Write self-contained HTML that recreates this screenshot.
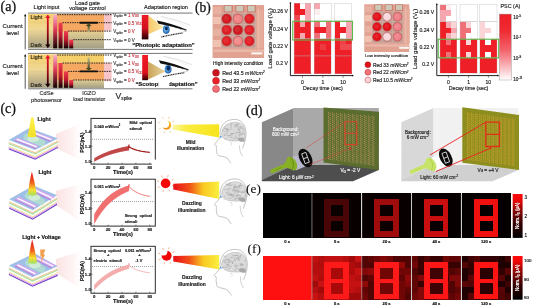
<!DOCTYPE html>
<html><head><meta charset="utf-8"><title>Figure</title>
<style>html,body{margin:0;padding:0;background:#fff;width:533px;height:306px;overflow:hidden}</style>
</head><body>
<svg width="533" height="306" viewBox="0 0 533 306" style="display:block"><defs>
<linearGradient id="gYel" x1="0" y1="0" x2="0" y2="1">
 <stop offset="0" stop-color="#f7cf6c"/><stop offset="0.45" stop-color="#efd796"/><stop offset="1" stop-color="#a29c84"/>
</linearGradient>
<linearGradient id="gTan" x1="0" y1="0" x2="0" y2="1">
 <stop offset="0" stop-color="#e2cf92"/><stop offset="1" stop-color="#a49e86"/>
</linearGradient>
<linearGradient id="gArrow" x1="0" y1="0" x2="0" y2="1">
 <stop offset="0" stop-color="#e8102a"/><stop offset="0.55" stop-color="#a00818"/><stop offset="1" stop-color="#1a0000"/>
</linearGradient>
<linearGradient id="gBar1" x1="0" y1="0" x2="0" y2="1">
 <stop offset="0" stop-color="#f6b0cc"/><stop offset="0.45" stop-color="#e03858"/><stop offset="1" stop-color="#100000"/>
</linearGradient>
<linearGradient id="gBar" x1="0" y1="0" x2="0" y2="1">
 <stop offset="0" stop-color="#f04050"/><stop offset="0.5" stop-color="#c01830"/><stop offset="1" stop-color="#100000"/>
</linearGradient>
<linearGradient id="gAdapt" x1="0" y1="0" x2="0" y2="1">
 <stop offset="0" stop-color="#ec1c24"/><stop offset="0.55" stop-color="#d01020"/><stop offset="1" stop-color="#200000"/>
</linearGradient>
<linearGradient id="gAdapt2" x1="0" y1="0" x2="0" y2="1">
 <stop offset="0" stop-color="#f01c24"/><stop offset="0.7" stop-color="#e01020"/><stop offset="1" stop-color="#300000"/>
</linearGradient>
<linearGradient id="gCone1" x1="0" y1="0" x2="1" y2="0">
 <stop offset="0" stop-color="#f6c868"/><stop offset="1" stop-color="#fbe8b0"/>
</linearGradient>
<linearGradient id="gCone2" x1="0" y1="0" x2="1" y2="0">
 <stop offset="0" stop-color="#caa258"/><stop offset="1" stop-color="#e8d6a0"/>
</linearGradient>
<linearGradient id="gOlive" x1="0" y1="0" x2="0" y2="1">
 <stop offset="0" stop-color="#4a4a20"/><stop offset="1" stop-color="#c8c090"/>
</linearGradient>
<linearGradient id="gOlive2" x1="0" y1="1" x2="0" y2="0">
 <stop offset="0" stop-color="#4a4a20"/><stop offset="1" stop-color="#c8c090"/>
</linearGradient>
<linearGradient id="gPSC" x1="0" y1="0" x2="0" y2="1">
 <stop offset="0" stop-color="#ee1f27"/><stop offset="0.25" stop-color="#ef2a32"/><stop offset="0.55" stop-color="#f3646c"/><stop offset="0.8" stop-color="#f9b8bc"/><stop offset="1" stop-color="#ffffff"/>
</linearGradient>
<linearGradient id="gNormE" x1="0" y1="0" x2="0" y2="1">
 <stop offset="0" stop-color="#ff0a0a"/><stop offset="0.12" stop-color="#f00808"/><stop offset="0.35" stop-color="#900404"/><stop offset="0.65" stop-color="#380101"/><stop offset="1" stop-color="#000000"/>
</linearGradient>
<linearGradient id="gBeamY" x1="0" y1="0" x2="1" y2="0">
 <stop offset="0" stop-color="#fdf6a0"/><stop offset="0.3" stop-color="#f9ec40"/><stop offset="1" stop-color="#f8e41c"/>
</linearGradient>
<linearGradient id="gBeamR" x1="0" y1="0" x2="1" y2="0">
 <stop offset="0" stop-color="#e80c18"/><stop offset="0.35" stop-color="#f25018"/><stop offset="0.65" stop-color="#f8c820"/><stop offset="1" stop-color="#faf040"/>
</linearGradient>
<linearGradient id="gLight" x1="0" y1="0" x2="0" y2="1">
 <stop offset="0" stop-color="#fff040"/><stop offset="1" stop-color="#f4e020"/>
</linearGradient>
<linearGradient id="gFlame" x1="0" y1="0" x2="0" y2="1">
 <stop offset="0" stop-color="#e01018"/><stop offset="0.45" stop-color="#f06020"/><stop offset="0.75" stop-color="#f8e030"/><stop offset="1" stop-color="#a0e060"/>
</linearGradient>
<linearGradient id="gProj" x1="0" y1="0" x2="1" y2="0">
 <stop offset="0" stop-color="#fbe0e0" stop-opacity="0.95"/><stop offset="0.6" stop-color="#fdeeee" stop-opacity="0.7"/><stop offset="1" stop-color="#ffffff" stop-opacity="0"/>
</linearGradient>
<radialGradient id="gIris" cx="0.45" cy="0.45" r="0.6">
 <stop offset="0" stop-color="#b8e0f8"/><stop offset="0.6" stop-color="#3a8ad0"/><stop offset="1" stop-color="#1a4a90"/>
</radialGradient>
</defs>
<rect x="0" y="0" width="533" height="306" fill="#ffffff" />
<text x="0.6" y="10.8" font-size="14" text-anchor="start" fill="#111" font-weight="normal" font-family="'Liberation Serif', 'Times New Roman', serif" stroke="#111" stroke-width="0.25">(a)</text>
<text x="46.5" y="8.6" font-size="5.6" text-anchor="middle" fill="#222" font-weight="normal" font-family="'Liberation Sans', Arial, sans-serif"  stroke="#222" stroke-width="0.16">Light input</text>
<text x="87.5" y="4.6" font-size="5.6" text-anchor="middle" fill="#222" font-weight="normal" font-family="'Liberation Sans', Arial, sans-serif"  stroke="#222" stroke-width="0.16">Load gate</text>
<text x="87.5" y="10.4" font-size="5.6" text-anchor="middle" fill="#222" font-weight="normal" font-family="'Liberation Sans', Arial, sans-serif"  stroke="#222" stroke-width="0.16">voltage control</text>
<text x="166" y="9.2" font-size="5.6" text-anchor="middle" fill="#222" font-weight="normal" font-family="'Liberation Sans', Arial, sans-serif"  stroke="#222" stroke-width="0.16">Adaptation region</text>
<rect x="28" y="14.1" width="76" height="34.3" fill="url(#gYel)" />
<rect x="57" y="14.1" width="47" height="17.5" fill="#f4a862" />
<rect x="57" y="31.6" width="47" height="16.799999999999997" fill="url(#gTan)" />
<rect x="104" y="14.1" width="7.6" height="16.5" fill="#f7c4c8" />
<line x1="29" y1="22.7" x2="52" y2="22.7" stroke="#c8b070" stroke-width="0.3" stroke-dasharray="0.8,0.8"/>
<line x1="29" y1="31.1" x2="52" y2="31.1" stroke="#c8b070" stroke-width="0.3" stroke-dasharray="0.8,0.8"/>
<line x1="29" y1="39.7" x2="52" y2="39.7" stroke="#c8b070" stroke-width="0.3" stroke-dasharray="0.8,0.8"/>
<rect x="53.2" y="14.7" width="3.9" height="33.7" fill="url(#gBar1)" />
<rect x="58.6" y="22.7" width="3.9" height="25.7" fill="url(#gBar)" />
<rect x="64.0" y="31.1" width="4.2" height="17.299999999999997" fill="url(#gBar)" />
<rect x="69.2" y="39.7" width="4.0" height="8.699999999999996" fill="url(#gBar)" />
<line x1="57.2" y1="14.7" x2="111.6" y2="14.7" stroke="#2a2222" stroke-width="1.0" stroke-dasharray="1.5,0.9"/>
<line x1="62.6" y1="22.7" x2="111.6" y2="22.7" stroke="#2a2222" stroke-width="1.0" stroke-dasharray="1.5,0.9"/>
<line x1="68.2" y1="31.1" x2="111.6" y2="31.1" stroke="#2a2222" stroke-width="1.0" stroke-dasharray="1.5,0.9"/>
<line x1="73.2" y1="39.7" x2="111.6" y2="39.7" stroke="#2a2222" stroke-width="1.0" stroke-dasharray="1.5,0.9"/>
<rect x="46.9" y="16.6" width="1.8" height="29.299999999999997" fill="url(#gArrow)"/>
<polygon points="47.8,14.4 45.2,18.1 50.4,18.1" fill="#e8102a" />
<polygon points="47.8,48.199999999999996 45.2,44.4 50.4,44.4" fill="#140000" />
<text x="30.5" y="19.1" font-size="5.4" text-anchor="start" fill="#2a2418" font-weight="normal" font-family="'Liberation Sans', Arial, sans-serif"  stroke="#2a2418" stroke-width="0.16">Light</text>
<text x="30.5" y="47.199999999999996" font-size="5.4" text-anchor="start" fill="#2a2418" font-weight="normal" font-family="'Liberation Sans', Arial, sans-serif"  stroke="#2a2418" stroke-width="0.16">Dark</text>
<rect x="79.4" y="21.75" width="18.6" height="1.9" rx="0.95" fill="#111"/>
<rect x="87.6" y="25.7" width="2.2" height="6.900000000000002" fill="url(#gOlive)" />
<polygon points="88.7,23.3 85.6,26.099999999999998 91.8,26.099999999999998" fill="#4a4a22" />
<line x1="28" y1="13.1" x2="192.5" y2="13.1" stroke="#666" stroke-width="0.9" />
<line x1="28" y1="49.4" x2="192.5" y2="49.4" stroke="#666" stroke-width="0.9" />
<line x1="25.2" y1="15.6" x2="25.2" y2="49.4" stroke="#111" stroke-width="0.7" />
<polygon points="25.2,13.7 24.0,16.3 26.4,16.3" fill="#111" />
<text x="12.6" y="27.75" font-size="6.0" text-anchor="middle" fill="#222" font-weight="normal" font-family="'Liberation Sans', Arial, sans-serif"  stroke="#222" stroke-width="0.16">Current</text>
<text x="12.6" y="35.15" font-size="6.0" text-anchor="middle" fill="#222" font-weight="normal" font-family="'Liberation Sans', Arial, sans-serif"  stroke="#222" stroke-width="0.16">level</text>
<rect x="28" y="54.4" width="76" height="33.4" fill="url(#gYel)" />
<rect x="57" y="54.4" width="47" height="8.600000000000001" fill="#f5cf6a" />
<rect x="57" y="63.0" width="47" height="17.0" fill="#f4a862" />
<rect x="57" y="80.0" width="47" height="7.799999999999997" fill="url(#gTan)" />
<rect x="104" y="63.0" width="7.6" height="18.2" fill="#f7c4c8" />
<line x1="29" y1="63.0" x2="52" y2="63.0" stroke="#c8b070" stroke-width="0.3" stroke-dasharray="0.8,0.8"/>
<line x1="29" y1="71.4" x2="52" y2="71.4" stroke="#c8b070" stroke-width="0.3" stroke-dasharray="0.8,0.8"/>
<line x1="29" y1="80.0" x2="52" y2="80.0" stroke="#c8b070" stroke-width="0.3" stroke-dasharray="0.8,0.8"/>
<rect x="53.2" y="55.0" width="3.9" height="32.8" fill="url(#gBar1)" />
<rect x="58.6" y="63.0" width="3.9" height="24.799999999999997" fill="url(#gBar)" />
<rect x="64.0" y="71.4" width="4.2" height="16.39999999999999" fill="url(#gBar)" />
<rect x="69.2" y="80.0" width="4.0" height="7.799999999999997" fill="url(#gBar)" />
<line x1="57.2" y1="55.0" x2="111.6" y2="55.0" stroke="#2a2222" stroke-width="1.0" stroke-dasharray="1.5,0.9"/>
<line x1="62.6" y1="63.0" x2="111.6" y2="63.0" stroke="#2a2222" stroke-width="1.0" stroke-dasharray="1.5,0.9"/>
<line x1="68.2" y1="71.4" x2="111.6" y2="71.4" stroke="#2a2222" stroke-width="1.0" stroke-dasharray="1.5,0.9"/>
<line x1="73.2" y1="80.0" x2="111.6" y2="80.0" stroke="#2a2222" stroke-width="1.0" stroke-dasharray="1.5,0.9"/>
<rect x="46.9" y="56.9" width="1.8" height="28.4" fill="url(#gArrow)"/>
<polygon points="47.8,54.699999999999996 45.2,58.4 50.4,58.4" fill="#e8102a" />
<polygon points="47.8,87.6 45.2,83.8 50.4,83.8" fill="#140000" />
<text x="30.5" y="59.4" font-size="5.4" text-anchor="start" fill="#2a2418" font-weight="normal" font-family="'Liberation Sans', Arial, sans-serif"  stroke="#2a2418" stroke-width="0.16">Light</text>
<text x="30.5" y="86.6" font-size="5.4" text-anchor="start" fill="#2a2418" font-weight="normal" font-family="'Liberation Sans', Arial, sans-serif"  stroke="#2a2418" stroke-width="0.16">Dark</text>
<rect x="79.4" y="70.45" width="18.6" height="1.9" rx="0.95" fill="#111"/>
<rect x="87.6" y="57.4" width="2.2" height="11.000000000000007" fill="url(#gOlive2)" />
<polygon points="88.7,70.80000000000001 85.6,68.0 91.8,68.0" fill="#4a4a22" />
<line x1="28" y1="53.4" x2="192.5" y2="53.4" stroke="#666" stroke-width="0.9" />
<line x1="28" y1="88.8" x2="192.5" y2="88.8" stroke="#666" stroke-width="0.9" />
<line x1="25.2" y1="55.9" x2="25.2" y2="88.8" stroke="#111" stroke-width="0.7" />
<polygon points="25.2,54.0 24.0,56.6 26.4,56.6" fill="#111" />
<text x="12.6" y="67.6" font-size="6.0" text-anchor="middle" fill="#222" font-weight="normal" font-family="'Liberation Sans', Arial, sans-serif"  stroke="#222" stroke-width="0.16">Current</text>
<text x="12.6" y="75.0" font-size="6.0" text-anchor="middle" fill="#222" font-weight="normal" font-family="'Liberation Sans', Arial, sans-serif"  stroke="#222" stroke-width="0.16">level</text>
<text x="113.2" y="16.5" font-size="4.5" fill="#444" font-family="'Liberation Sans', Arial, sans-serif" stroke="#444" stroke-width="0.16">V<tspan font-size="2.8" dy="0.8">spike</tspan><tspan dy="-0.8"> = </tspan><tspan fill="#c04048" stroke="#c04048" stroke-width="0.16">1 V<tspan font-size="2.8" dy="0.8">DD</tspan></tspan></text>
<text x="113.2" y="24.5" font-size="4.5" fill="#444" font-family="'Liberation Sans', Arial, sans-serif" stroke="#444" stroke-width="0.16">V<tspan font-size="2.8" dy="0.8">spike</tspan><tspan dy="-0.8"> = </tspan><tspan fill="#c04048" stroke="#c04048" stroke-width="0.16">0.5 V<tspan font-size="2.8" dy="0.8">DD</tspan></tspan></text>
<text x="113.2" y="32.9" font-size="4.5" fill="#444" font-family="'Liberation Sans', Arial, sans-serif" stroke="#444" stroke-width="0.16">V<tspan font-size="2.8" dy="0.8">spike</tspan><tspan dy="-0.8"> = </tspan><tspan fill="#c04048" stroke="#c04048" stroke-width="0.16">0 V</tspan></text>
<text x="113.2" y="41.5" font-size="4.5" fill="#444" font-family="'Liberation Sans', Arial, sans-serif" stroke="#444" stroke-width="0.16">V<tspan font-size="2.8" dy="0.8">spike</tspan><tspan dy="-0.8"> = </tspan><tspan fill="#444" stroke="#444" stroke-width="0.16">0 V</tspan></text>
<text x="113.2" y="56.8" font-size="4.5" fill="#444" font-family="'Liberation Sans', Arial, sans-serif" stroke="#444" stroke-width="0.16">V<tspan font-size="2.8" dy="0.8">spike</tspan><tspan dy="-0.8"> = </tspan><tspan fill="#c04048" stroke="#c04048" stroke-width="0.16">1 V<tspan font-size="2.8" dy="0.8">DD</tspan></tspan></text>
<text x="113.2" y="64.8" font-size="4.5" fill="#444" font-family="'Liberation Sans', Arial, sans-serif" stroke="#444" stroke-width="0.16">V<tspan font-size="2.8" dy="0.8">spike</tspan><tspan dy="-0.8"> = </tspan><tspan fill="#c04048" stroke="#c04048" stroke-width="0.16">1 V<tspan font-size="2.8" dy="0.8">DD</tspan></tspan></text>
<text x="113.2" y="73.2" font-size="4.5" fill="#444" font-family="'Liberation Sans', Arial, sans-serif" stroke="#444" stroke-width="0.16">V<tspan font-size="2.8" dy="0.8">spike</tspan><tspan dy="-0.8"> = </tspan><tspan fill="#c04048" stroke="#c04048" stroke-width="0.16">0.5 V<tspan font-size="2.8" dy="0.8">DD</tspan></tspan></text>
<text x="113.2" y="81.8" font-size="4.5" fill="#444" font-family="'Liberation Sans', Arial, sans-serif" stroke="#444" stroke-width="0.16">V<tspan font-size="2.8" dy="0.8">spike</tspan><tspan dy="-0.8"> = </tspan><tspan fill="#c04048" stroke="#c04048" stroke-width="0.16">0 V</tspan></text>
<polygon points="148.3,15.6 148.3,34.2 163.8,27.6" fill="url(#gCone1)" />
<rect x="141.8" y="15.0" width="6.6" height="24.4" fill="url(#gAdapt)" />
<polygon points="148.0,61.6 148.0,79.4 165.5,71.6" fill="url(#gCone2)" />
<rect x="142.2" y="55.0" width="5.8" height="25.2" fill="url(#gAdapt2)" />
<path d="M160.80,16.40 Q176.20,19.10 190.20,25.20" stroke="#d4d4d4" stroke-width="0.7" fill="none"/>
<path d="M164.20,18.20 Q176.20,20.80 187.20,26.40" stroke="#e6e6e6" stroke-width="0.5" fill="none"/>
<ellipse cx="166.2" cy="29.6" rx="3.4" ry="4.3" fill="url(#gIris)"/>
<ellipse cx="166.39999999999998" cy="28.6" rx="1.5" ry="1.9500000000000002" fill="#0a2a60"/>
<path d="M156.80,20.60 Q170.20,23.00 186.80,29.80 L186.60,30.60 Q170.20,26.00 158.60,23.80 Z" fill="#0e0e0e"/>
<line x1="160.20" y1="22.20" x2="161.80" y2="23.80" stroke="#222" stroke-width="0.5"/>
<line x1="165.00" y1="23.72" x2="166.60" y2="25.32" stroke="#222" stroke-width="0.5"/>
<line x1="169.80" y1="25.24" x2="171.40" y2="26.84" stroke="#222" stroke-width="0.5"/>
<line x1="174.60" y1="26.76" x2="176.20" y2="28.36" stroke="#222" stroke-width="0.5"/>
<line x1="179.40" y1="28.28" x2="181.00" y2="29.88" stroke="#222" stroke-width="0.5"/>
<line x1="184.20" y1="29.80" x2="185.80" y2="31.40" stroke="#222" stroke-width="0.5"/>
<path d="M161.30,37.00 Q171.20,34.60 182.40,33.10" stroke="#1a1a1a" stroke-width="1.1" fill="none" stroke-dasharray="1.2,0.5"/>
<path d="M178.20,33.20 Q182.20,32.40 186.70,31.20" stroke="#999" stroke-width="0.4" fill="none"/>
<text x="163.5" y="46.6" font-size="5.9" text-anchor="middle" font-weight="bold" fill="#111" font-family="'Liberation Sans', Arial, sans-serif" stroke="#111" stroke-width="0.16">“Photopic adaptation”</text>
<text x="166.5" y="86.2" font-size="5.9" text-anchor="middle" font-weight="bold" fill="#111" font-family="'Liberation Sans', Arial, sans-serif" stroke="#111" stroke-width="0.16">“Scotopic adaptation”</text>
<rect x="158.4" y="79.5" width="10.8" height="8.5" fill="#fff" />
<path d="M162.70,56.00 Q178.10,58.70 192.10,64.80" stroke="#d4d4d4" stroke-width="0.7" fill="none"/>
<path d="M166.10,57.80 Q178.10,60.40 189.10,66.00" stroke="#e6e6e6" stroke-width="0.5" fill="none"/>
<ellipse cx="168.1" cy="69.2" rx="3.4" ry="4.3" fill="url(#gIris)"/>
<ellipse cx="168.29999999999998" cy="68.2" rx="1.9" ry="2.4699999999999998" fill="#0a2a60"/>
<path d="M158.70,60.20 Q172.10,62.60 188.70,69.40 L188.50,70.20 Q172.10,65.60 160.50,63.40 Z" fill="#0e0e0e"/>
<line x1="162.10" y1="61.80" x2="163.70" y2="63.40" stroke="#222" stroke-width="0.5"/>
<line x1="166.90" y1="63.32" x2="168.50" y2="64.92" stroke="#222" stroke-width="0.5"/>
<line x1="171.70" y1="64.84" x2="173.30" y2="66.44" stroke="#222" stroke-width="0.5"/>
<line x1="176.50" y1="66.36" x2="178.10" y2="67.96" stroke="#222" stroke-width="0.5"/>
<line x1="181.30" y1="67.88" x2="182.90" y2="69.48" stroke="#222" stroke-width="0.5"/>
<line x1="186.10" y1="69.40" x2="187.70" y2="71.00" stroke="#222" stroke-width="0.5"/>
<path d="M163.20,76.60 Q173.10,74.20 184.30,72.70" stroke="#1a1a1a" stroke-width="1.1" fill="none" stroke-dasharray="1.2,0.5"/>
<path d="M180.10,72.80 Q184.10,72.00 188.60,70.80" stroke="#999" stroke-width="0.4" fill="none"/>
<text x="46.5" y="94.8" font-size="5.6" text-anchor="middle" fill="#333" font-weight="normal" font-family="'Liberation Sans', Arial, sans-serif"  stroke="#333" stroke-width="0.16">CdSe</text>
<text x="46.5" y="101.6" font-size="5.6" text-anchor="middle" fill="#333" font-weight="normal" font-family="'Liberation Sans', Arial, sans-serif"  stroke="#333" stroke-width="0.16">photosensor</text>
<text x="89.0" y="94.8" font-size="5.6" text-anchor="middle" fill="#333" font-weight="normal" font-family="'Liberation Sans', Arial, sans-serif"  stroke="#333" stroke-width="0.16">IGZO</text>
<text x="89.2" y="101.0" font-size="5.1" text-anchor="middle" fill="#333" font-weight="normal" font-family="'Liberation Sans', Arial, sans-serif"  stroke="#333" stroke-width="0.16">load transistor</text>
<text x="115.6" y="98.6" font-size="8.6" fill="#222" font-family="'Liberation Sans', Arial, sans-serif" stroke="#222" stroke-width="0.16">V<tspan font-size="4.6" dy="1.2">spike</tspan></text>
<text x="194.9" y="11.8" font-size="13.6" text-anchor="start" fill="#111" font-weight="normal" font-family="'Liberation Serif', 'Times New Roman', serif" stroke="#111" stroke-width="0.25">(b)</text>
<rect x="212.6" y="5.0" width="51.5" height="53.0" fill="#e2a292" />
<rect x="213.1" y="17.0" width="8.0" height="7.0" fill="#f0c2b2" />
<rect x="213.1" y="40.0" width="8.0" height="7.0" fill="#f0c2b2" />
<rect x="213.1" y="7.0" width="8.0" height="7.0" fill="#e8b0a0" />
<rect x="213.1" y="29.0" width="8.0" height="7.0" fill="#e8b0a0" />
<rect x="256.6" y="10.0" width="6.5" height="38.0" fill="#e6ac9c" />
<line x1="258.6" y1="8.0" x2="258.6" y2="52.0" stroke="#f2cabc" stroke-width="0.6" />
<rect x="223.7" y="5.0" width="9.0" height="7.4" fill="#c47e70" />
<rect x="224.7" y="5.8" width="6.9" height="5.6" fill="#cdc8b8" />
<rect x="235.29999999999998" y="5.0" width="9.0" height="7.4" fill="#c47e70" />
<rect x="236.29999999999998" y="5.8" width="6.9" height="5.6" fill="#cdc8b8" />
<rect x="246.8" y="5.0" width="9.0" height="7.4" fill="#c47e70" />
<rect x="247.8" y="5.8" width="6.9" height="5.6" fill="#cdc8b8" />
<rect x="221.2" y="13.2" width="34.4" height="34.6" fill="#c49a90" />
<line x1="221.2" y1="13.2" x2="221.2" y2="47.8" stroke="#d8b8b0" stroke-width="0.5" />
<line x1="232.6" y1="13.2" x2="232.6" y2="47.8" stroke="#d8b8b0" stroke-width="0.5" />
<line x1="244.1" y1="13.2" x2="244.1" y2="47.8" stroke="#d8b8b0" stroke-width="0.5" />
<line x1="255.6" y1="13.2" x2="255.6" y2="47.8" stroke="#d8b8b0" stroke-width="0.5" />
<line x1="221.2" y1="13.2" x2="255.6" y2="13.2" stroke="#d8b8b0" stroke-width="0.5" />
<line x1="221.2" y1="24.5" x2="255.6" y2="24.5" stroke="#d8b8b0" stroke-width="0.5" />
<line x1="221.2" y1="36.0" x2="255.6" y2="36.0" stroke="#d8b8b0" stroke-width="0.5" />
<line x1="221.2" y1="47.8" x2="255.6" y2="47.8" stroke="#d8b8b0" stroke-width="0.5" />
<circle cx="226.70" cy="18.80" r="4.80" fill="#d41820" stroke="#a83838" stroke-width="0.45"/>
<circle cx="226.10" cy="18.20" r="2.64" fill="#ffffff" opacity="0.08"/>
<circle cx="237.90" cy="18.80" r="4.80" fill="#f08484" stroke="#a83838" stroke-width="0.45"/>
<circle cx="237.30" cy="18.20" r="2.64" fill="#ffffff" opacity="0.08"/>
<circle cx="249.40" cy="18.80" r="4.80" fill="#e41c22" stroke="#a83838" stroke-width="0.45"/>
<circle cx="248.80" cy="18.20" r="2.64" fill="#ffffff" opacity="0.08"/>
<circle cx="226.70" cy="30.00" r="4.80" fill="#e01c24" stroke="#a83838" stroke-width="0.45"/>
<circle cx="226.10" cy="29.40" r="2.64" fill="#ffffff" opacity="0.08"/>
<circle cx="237.90" cy="30.00" r="4.80" fill="#d01820" stroke="#a83838" stroke-width="0.45"/>
<circle cx="237.30" cy="29.40" r="2.64" fill="#ffffff" opacity="0.08"/>
<circle cx="249.40" cy="30.00" r="4.80" fill="#e41c24" stroke="#a83838" stroke-width="0.45"/>
<circle cx="248.80" cy="29.40" r="2.64" fill="#ffffff" opacity="0.08"/>
<circle cx="226.70" cy="41.10" r="4.80" fill="#e01c24" stroke="#a83838" stroke-width="0.45"/>
<circle cx="226.10" cy="40.50" r="2.64" fill="#ffffff" opacity="0.08"/>
<circle cx="237.90" cy="41.10" r="4.80" fill="#f08888" stroke="#a83838" stroke-width="0.45"/>
<circle cx="237.30" cy="40.50" r="2.64" fill="#ffffff" opacity="0.08"/>
<circle cx="249.40" cy="41.10" r="4.80" fill="#e41c24" stroke="#a83838" stroke-width="0.45"/>
<circle cx="248.80" cy="40.50" r="2.64" fill="#ffffff" opacity="0.08"/>
<rect x="212.6" y="49.5" width="51.5" height="2.6" fill="#eab8a8" />
<rect x="251.1" y="52.3" width="11.5" height="2.2" fill="#f4e4dc" />
<line x1="252.1" y1="53.4" x2="261.6" y2="53.4" stroke="#ffffff" stroke-width="0.9" />
<rect x="364.3" y="4.3" width="45.0" height="47.7" fill="#e2a292" />
<rect x="364.75" y="15.100000000000001" width="7.2" height="6.3" fill="#f0c2b2" />
<rect x="364.75" y="35.8" width="7.2" height="6.3" fill="#f0c2b2" />
<rect x="364.75" y="6.1" width="7.2" height="6.3" fill="#e8b0a0" />
<rect x="364.75" y="25.900000000000002" width="7.2" height="6.3" fill="#e8b0a0" />
<rect x="403.90000000000003" y="8.8" width="5.8500000000000005" height="34.2" fill="#e6ac9c" />
<line x1="405.7" y1="7.0" x2="405.7" y2="46.6" stroke="#f2cabc" stroke-width="0.6" />
<rect x="374.29" y="4.3" width="8.1" height="6.66" fill="#c47e70" />
<rect x="375.19" y="5.02" width="6.210000000000001" height="5.04" fill="#cdc8b8" />
<rect x="384.73" y="4.3" width="8.1" height="6.66" fill="#c47e70" />
<rect x="385.63" y="5.02" width="6.210000000000001" height="5.04" fill="#cdc8b8" />
<rect x="395.08000000000004" y="4.3" width="8.1" height="6.66" fill="#c47e70" />
<rect x="395.98" y="5.02" width="6.210000000000001" height="5.04" fill="#cdc8b8" />
<rect x="372.04" y="11.68" width="30.96" height="31.14" fill="#c49a90" />
<line x1="372.04" y1="11.68" x2="372.04" y2="42.81999999999999" stroke="#d8b8b0" stroke-width="0.5" />
<line x1="382.3" y1="11.68" x2="382.3" y2="42.81999999999999" stroke="#d8b8b0" stroke-width="0.5" />
<line x1="392.65000000000003" y1="11.68" x2="392.65000000000003" y2="42.81999999999999" stroke="#d8b8b0" stroke-width="0.5" />
<line x1="403.0" y1="11.68" x2="403.0" y2="42.81999999999999" stroke="#d8b8b0" stroke-width="0.5" />
<line x1="372.04" y1="11.68" x2="403.0" y2="11.68" stroke="#d8b8b0" stroke-width="0.5" />
<line x1="372.04" y1="21.85" x2="403.0" y2="21.85" stroke="#d8b8b0" stroke-width="0.5" />
<line x1="372.04" y1="32.2" x2="403.0" y2="32.2" stroke="#d8b8b0" stroke-width="0.5" />
<line x1="372.04" y1="42.81999999999999" x2="403.0" y2="42.81999999999999" stroke="#d8b8b0" stroke-width="0.5" />
<circle cx="376.99" cy="16.72" r="4.32" fill="#e41018" stroke="#a83838" stroke-width="0.45"/>
<circle cx="376.45" cy="16.18" r="2.38" fill="#ffffff" opacity="0.08"/>
<circle cx="387.07" cy="16.72" r="4.32" fill="#f8d8dc" stroke="#a83838" stroke-width="0.45"/>
<circle cx="386.53" cy="16.18" r="2.38" fill="#ffffff" opacity="0.08"/>
<circle cx="397.42" cy="16.72" r="4.32" fill="#f08088" stroke="#a83838" stroke-width="0.45"/>
<circle cx="396.88" cy="16.18" r="2.38" fill="#ffffff" opacity="0.08"/>
<circle cx="376.99" cy="26.80" r="4.32" fill="#e41018" stroke="#a83838" stroke-width="0.45"/>
<circle cx="376.45" cy="26.26" r="2.38" fill="#ffffff" opacity="0.08"/>
<circle cx="387.07" cy="26.80" r="4.32" fill="#e41018" stroke="#a83838" stroke-width="0.45"/>
<circle cx="386.53" cy="26.26" r="2.38" fill="#ffffff" opacity="0.08"/>
<circle cx="397.42" cy="26.80" r="4.32" fill="#f08088" stroke="#a83838" stroke-width="0.45"/>
<circle cx="396.88" cy="26.26" r="2.38" fill="#ffffff" opacity="0.08"/>
<circle cx="376.99" cy="36.79" r="4.32" fill="#e41018" stroke="#a83838" stroke-width="0.45"/>
<circle cx="376.45" cy="36.25" r="2.38" fill="#ffffff" opacity="0.08"/>
<circle cx="387.07" cy="36.79" r="4.32" fill="#f8d8dc" stroke="#a83838" stroke-width="0.45"/>
<circle cx="386.53" cy="36.25" r="2.38" fill="#ffffff" opacity="0.08"/>
<circle cx="397.42" cy="36.79" r="4.32" fill="#f08088" stroke="#a83838" stroke-width="0.45"/>
<circle cx="396.88" cy="36.25" r="2.38" fill="#ffffff" opacity="0.08"/>
<rect x="364.3" y="44.35" width="45.0" height="2.3400000000000003" fill="#eab8a8" />
<rect x="398.95" y="46.87" width="10.35" height="1.9800000000000002" fill="#f4e4dc" />
<line x1="399.85" y1="47.86" x2="408.40000000000003" y2="47.86" stroke="#ffffff" stroke-width="0.9" />
<text x="238.2" y="64.9" font-size="4.9" text-anchor="middle" fill="#222" font-weight="normal" font-family="'Liberation Sans', Arial, sans-serif"  stroke="#222" stroke-width="0.16">High intensity condition</text>
<text x="386.6" y="57.3" font-size="4.3" text-anchor="middle" fill="#222" font-weight="normal" font-family="'Liberation Sans', Arial, sans-serif"  stroke="#222" stroke-width="0.16">Low intensity condition</text>
<circle cx="216.0" cy="72.8" r="3.5" fill="#c8141c" stroke="#a02020" stroke-width="0.4"/>
<text x="222.3" y="74.6" font-size="5.25" fill="#222" font-family="'Liberation Sans', Arial, sans-serif" stroke="#222" stroke-width="0.16">Red 43.5 <tspan font-style="italic">mW/cm<tspan font-size="3" dy="-1.6">2</tspan></tspan></text>
<circle cx="216.0" cy="80.8" r="3.5" fill="#e8202a" stroke="#a02020" stroke-width="0.4"/>
<text x="222.3" y="82.6" font-size="5.25" fill="#222" font-family="'Liberation Sans', Arial, sans-serif" stroke="#222" stroke-width="0.16">Red 33 <tspan font-style="italic">mW/cm<tspan font-size="3" dy="-1.6">2</tspan></tspan></text>
<circle cx="216.0" cy="88.9" r="3.5" fill="#f07078" stroke="#a02020" stroke-width="0.4"/>
<text x="222.3" y="90.7" font-size="5.25" fill="#222" font-family="'Liberation Sans', Arial, sans-serif" stroke="#222" stroke-width="0.16">Red 22 <tspan font-style="italic">mW/cm<tspan font-size="3" dy="-1.6">2</tspan></tspan></text>
<circle cx="367.9" cy="64.7" r="3.0" fill="#e01018" stroke="#a02020" stroke-width="0.4"/>
<text x="373.0" y="66.5" font-size="4.9" fill="#222" font-family="'Liberation Sans', Arial, sans-serif" stroke="#222" stroke-width="0.16">Red 33 <tspan font-style="italic">mW/cm<tspan font-size="3" dy="-1.6">2</tspan></tspan></text>
<circle cx="367.9" cy="72.3" r="3.0" fill="#f07078" stroke="#a02020" stroke-width="0.4"/>
<text x="373.0" y="74.1" font-size="4.9" fill="#222" font-family="'Liberation Sans', Arial, sans-serif" stroke="#222" stroke-width="0.16">Red 22 <tspan font-style="italic">mW/cm<tspan font-size="3" dy="-1.6">2</tspan></tspan></text>
<circle cx="367.9" cy="80.0" r="3.0" fill="#fbd4d8" stroke="#a02020" stroke-width="0.4"/>
<text x="373.0" y="81.8" font-size="4.9" fill="#222" font-family="'Liberation Sans', Arial, sans-serif" stroke="#222" stroke-width="0.16">Red 10.5 <tspan font-style="italic">mW/cm<tspan font-size="3" dy="-1.6">2</tspan></tspan></text>
<rect x="294.10" y="3.30" width="5.62" height="5.95" fill="#ee1f27" shape-rendering="crispEdges"/>
<rect x="299.67" y="3.30" width="5.62" height="5.95" fill="#ffffff" shape-rendering="crispEdges"/>
<rect x="305.23" y="3.30" width="5.62" height="5.95" fill="#f5a6ae" shape-rendering="crispEdges"/>
<rect x="294.10" y="9.20" width="5.62" height="5.95" fill="#ee1f27" shape-rendering="crispEdges"/>
<rect x="299.67" y="9.20" width="5.62" height="5.95" fill="#ee1f27" shape-rendering="crispEdges"/>
<rect x="305.23" y="9.20" width="5.62" height="5.95" fill="#f5a6ae" shape-rendering="crispEdges"/>
<rect x="294.10" y="15.10" width="5.62" height="5.95" fill="#ee4850" shape-rendering="crispEdges"/>
<rect x="299.67" y="15.10" width="5.62" height="5.95" fill="#ffffff" shape-rendering="crispEdges"/>
<rect x="305.23" y="15.10" width="5.62" height="5.95" fill="#f5a6ae" shape-rendering="crispEdges"/>
<rect x="294.10" y="3.30" width="16.70" height="17.70" fill="none" stroke="#b8b8b8" stroke-width="0.35"/>
<rect x="314.40" y="3.30" width="5.65" height="5.95" fill="#f5a6ae" shape-rendering="crispEdges"/>
<rect x="320.00" y="3.30" width="5.65" height="5.95" fill="#ffffff" shape-rendering="crispEdges"/>
<rect x="325.60" y="3.30" width="5.65" height="5.95" fill="#ffffff" shape-rendering="crispEdges"/>
<rect x="314.40" y="9.20" width="5.65" height="5.95" fill="#fdeef0" shape-rendering="crispEdges"/>
<rect x="320.00" y="9.20" width="5.65" height="5.95" fill="#ffffff" shape-rendering="crispEdges"/>
<rect x="325.60" y="9.20" width="5.65" height="5.95" fill="#ffffff" shape-rendering="crispEdges"/>
<rect x="314.40" y="15.10" width="5.65" height="5.95" fill="#ffffff" shape-rendering="crispEdges"/>
<rect x="320.00" y="15.10" width="5.65" height="5.95" fill="#ffffff" shape-rendering="crispEdges"/>
<rect x="325.60" y="15.10" width="5.65" height="5.95" fill="#ffffff" shape-rendering="crispEdges"/>
<rect x="314.40" y="3.30" width="16.80" height="17.70" fill="none" stroke="#b8b8b8" stroke-width="0.35"/>
<rect x="334.50" y="3.30" width="5.78" height="5.95" fill="#ffffff" shape-rendering="crispEdges"/>
<rect x="340.23" y="3.30" width="5.78" height="5.95" fill="#ffffff" shape-rendering="crispEdges"/>
<rect x="345.97" y="3.30" width="5.78" height="5.95" fill="#ffffff" shape-rendering="crispEdges"/>
<rect x="334.50" y="9.20" width="5.78" height="5.95" fill="#ffffff" shape-rendering="crispEdges"/>
<rect x="340.23" y="9.20" width="5.78" height="5.95" fill="#ffffff" shape-rendering="crispEdges"/>
<rect x="345.97" y="9.20" width="5.78" height="5.95" fill="#ffffff" shape-rendering="crispEdges"/>
<rect x="334.50" y="15.10" width="5.78" height="5.95" fill="#ffffff" shape-rendering="crispEdges"/>
<rect x="340.23" y="15.10" width="5.78" height="5.95" fill="#ffffff" shape-rendering="crispEdges"/>
<rect x="345.97" y="15.10" width="5.78" height="5.95" fill="#ffffff" shape-rendering="crispEdges"/>
<rect x="334.50" y="3.30" width="17.20" height="17.70" fill="none" stroke="#b8b8b8" stroke-width="0.35"/>
<rect x="294.10" y="21.00" width="5.62" height="5.88" fill="#ee1f27" shape-rendering="crispEdges"/>
<rect x="299.67" y="21.00" width="5.62" height="5.88" fill="#f5a6ae" shape-rendering="crispEdges"/>
<rect x="305.23" y="21.00" width="5.62" height="5.88" fill="#ee1f27" shape-rendering="crispEdges"/>
<rect x="294.10" y="26.83" width="5.62" height="5.88" fill="#ee1f27" shape-rendering="crispEdges"/>
<rect x="299.67" y="26.83" width="5.62" height="5.88" fill="#ee1f27" shape-rendering="crispEdges"/>
<rect x="305.23" y="26.83" width="5.62" height="5.88" fill="#ee1f27" shape-rendering="crispEdges"/>
<rect x="294.10" y="32.67" width="5.62" height="5.88" fill="#ee1f27" shape-rendering="crispEdges"/>
<rect x="299.67" y="32.67" width="5.62" height="5.88" fill="#f5a6ae" shape-rendering="crispEdges"/>
<rect x="305.23" y="32.67" width="5.62" height="5.88" fill="#ee1f27" shape-rendering="crispEdges"/>
<rect x="294.10" y="21.00" width="16.70" height="17.50" fill="none" stroke="#b8b8b8" stroke-width="0.35"/>
<rect x="314.40" y="21.00" width="5.65" height="5.88" fill="#f07078" shape-rendering="crispEdges"/>
<rect x="320.00" y="21.00" width="5.65" height="5.88" fill="#ffffff" shape-rendering="crispEdges"/>
<rect x="325.60" y="21.00" width="5.65" height="5.88" fill="#f07078" shape-rendering="crispEdges"/>
<rect x="314.40" y="26.83" width="5.65" height="5.88" fill="#ee1f27" shape-rendering="crispEdges"/>
<rect x="320.00" y="26.83" width="5.65" height="5.88" fill="#ee1f27" shape-rendering="crispEdges"/>
<rect x="325.60" y="26.83" width="5.65" height="5.88" fill="#f07078" shape-rendering="crispEdges"/>
<rect x="314.40" y="32.67" width="5.65" height="5.88" fill="#f07078" shape-rendering="crispEdges"/>
<rect x="320.00" y="32.67" width="5.65" height="5.88" fill="#ffffff" shape-rendering="crispEdges"/>
<rect x="325.60" y="32.67" width="5.65" height="5.88" fill="#f07078" shape-rendering="crispEdges"/>
<rect x="314.40" y="21.00" width="16.80" height="17.50" fill="none" stroke="#b8b8b8" stroke-width="0.35"/>
<rect x="334.50" y="21.00" width="5.78" height="5.88" fill="#ee1f27" shape-rendering="crispEdges"/>
<rect x="340.23" y="21.00" width="5.78" height="5.88" fill="#ffffff" shape-rendering="crispEdges"/>
<rect x="345.97" y="21.00" width="5.78" height="5.88" fill="#f5a6ae" shape-rendering="crispEdges"/>
<rect x="334.50" y="26.83" width="5.78" height="5.88" fill="#ee1f27" shape-rendering="crispEdges"/>
<rect x="340.23" y="26.83" width="5.78" height="5.88" fill="#ee1f27" shape-rendering="crispEdges"/>
<rect x="345.97" y="26.83" width="5.78" height="5.88" fill="#f5a6ae" shape-rendering="crispEdges"/>
<rect x="334.50" y="32.67" width="5.78" height="5.88" fill="#ee1f27" shape-rendering="crispEdges"/>
<rect x="340.23" y="32.67" width="5.78" height="5.88" fill="#ffffff" shape-rendering="crispEdges"/>
<rect x="345.97" y="32.67" width="5.78" height="5.88" fill="#f5a6ae" shape-rendering="crispEdges"/>
<rect x="334.50" y="21.00" width="17.20" height="17.50" fill="none" stroke="#b8b8b8" stroke-width="0.35"/>
<rect x="294.10" y="38.50" width="5.62" height="5.88" fill="#ee1f27" shape-rendering="crispEdges"/>
<rect x="299.67" y="38.50" width="5.62" height="5.88" fill="#ee1f27" shape-rendering="crispEdges"/>
<rect x="305.23" y="38.50" width="5.62" height="5.88" fill="#ee1f27" shape-rendering="crispEdges"/>
<rect x="294.10" y="44.33" width="5.62" height="5.88" fill="#ee1f27" shape-rendering="crispEdges"/>
<rect x="299.67" y="44.33" width="5.62" height="5.88" fill="#ee1f27" shape-rendering="crispEdges"/>
<rect x="305.23" y="44.33" width="5.62" height="5.88" fill="#ee1f27" shape-rendering="crispEdges"/>
<rect x="294.10" y="50.17" width="5.62" height="5.88" fill="#ee1f27" shape-rendering="crispEdges"/>
<rect x="299.67" y="50.17" width="5.62" height="5.88" fill="#ee1f27" shape-rendering="crispEdges"/>
<rect x="305.23" y="50.17" width="5.62" height="5.88" fill="#ee1f27" shape-rendering="crispEdges"/>
<rect x="294.10" y="38.50" width="16.70" height="17.50" fill="none" stroke="#b8b8b8" stroke-width="0.35"/>
<rect x="314.40" y="38.50" width="5.65" height="5.88" fill="#ee1f27" shape-rendering="crispEdges"/>
<rect x="320.00" y="38.50" width="5.65" height="5.88" fill="#ee1f27" shape-rendering="crispEdges"/>
<rect x="325.60" y="38.50" width="5.65" height="5.88" fill="#ee1f27" shape-rendering="crispEdges"/>
<rect x="314.40" y="44.33" width="5.65" height="5.88" fill="#ee1f27" shape-rendering="crispEdges"/>
<rect x="320.00" y="44.33" width="5.65" height="5.88" fill="#ec3a40" shape-rendering="crispEdges"/>
<rect x="325.60" y="44.33" width="5.65" height="5.88" fill="#ee1f27" shape-rendering="crispEdges"/>
<rect x="314.40" y="50.17" width="5.65" height="5.88" fill="#ee1f27" shape-rendering="crispEdges"/>
<rect x="320.00" y="50.17" width="5.65" height="5.88" fill="#ee1f27" shape-rendering="crispEdges"/>
<rect x="325.60" y="50.17" width="5.65" height="5.88" fill="#ee1f27" shape-rendering="crispEdges"/>
<rect x="314.40" y="38.50" width="16.80" height="17.50" fill="none" stroke="#b8b8b8" stroke-width="0.35"/>
<rect x="334.50" y="38.50" width="5.78" height="5.88" fill="#ee1f27" shape-rendering="crispEdges"/>
<rect x="340.23" y="38.50" width="5.78" height="5.88" fill="#ee4048" shape-rendering="crispEdges"/>
<rect x="345.97" y="38.50" width="5.78" height="5.88" fill="#ee1f27" shape-rendering="crispEdges"/>
<rect x="334.50" y="44.33" width="5.78" height="5.88" fill="#ee1f27" shape-rendering="crispEdges"/>
<rect x="340.23" y="44.33" width="5.78" height="5.88" fill="#ee4a50" shape-rendering="crispEdges"/>
<rect x="345.97" y="44.33" width="5.78" height="5.88" fill="#ee4a50" shape-rendering="crispEdges"/>
<rect x="334.50" y="50.17" width="5.78" height="5.88" fill="#ee1f27" shape-rendering="crispEdges"/>
<rect x="340.23" y="50.17" width="5.78" height="5.88" fill="#ee1f27" shape-rendering="crispEdges"/>
<rect x="345.97" y="50.17" width="5.78" height="5.88" fill="#ee1f27" shape-rendering="crispEdges"/>
<rect x="334.50" y="38.50" width="17.20" height="17.50" fill="none" stroke="#b8b8b8" stroke-width="0.35"/>
<rect x="294.10" y="56.00" width="5.62" height="5.92" fill="#ee1f27" shape-rendering="crispEdges"/>
<rect x="299.67" y="56.00" width="5.62" height="5.92" fill="#ee1f27" shape-rendering="crispEdges"/>
<rect x="305.23" y="56.00" width="5.62" height="5.92" fill="#ee1f27" shape-rendering="crispEdges"/>
<rect x="294.10" y="61.87" width="5.62" height="5.92" fill="#ee1f27" shape-rendering="crispEdges"/>
<rect x="299.67" y="61.87" width="5.62" height="5.92" fill="#ee1f27" shape-rendering="crispEdges"/>
<rect x="305.23" y="61.87" width="5.62" height="5.92" fill="#ee1f27" shape-rendering="crispEdges"/>
<rect x="294.10" y="67.73" width="5.62" height="5.92" fill="#ee1f27" shape-rendering="crispEdges"/>
<rect x="299.67" y="67.73" width="5.62" height="5.92" fill="#ee1f27" shape-rendering="crispEdges"/>
<rect x="305.23" y="67.73" width="5.62" height="5.92" fill="#ee1f27" shape-rendering="crispEdges"/>
<rect x="294.10" y="56.00" width="16.70" height="17.60" fill="none" stroke="#b8b8b8" stroke-width="0.35"/>
<rect x="314.40" y="56.00" width="5.65" height="5.92" fill="#ee1f27" shape-rendering="crispEdges"/>
<rect x="320.00" y="56.00" width="5.65" height="5.92" fill="#ee1f27" shape-rendering="crispEdges"/>
<rect x="325.60" y="56.00" width="5.65" height="5.92" fill="#ee1f27" shape-rendering="crispEdges"/>
<rect x="314.40" y="61.87" width="5.65" height="5.92" fill="#ee1f27" shape-rendering="crispEdges"/>
<rect x="320.00" y="61.87" width="5.65" height="5.92" fill="#ee1f27" shape-rendering="crispEdges"/>
<rect x="325.60" y="61.87" width="5.65" height="5.92" fill="#ee1f27" shape-rendering="crispEdges"/>
<rect x="314.40" y="67.73" width="5.65" height="5.92" fill="#ee1f27" shape-rendering="crispEdges"/>
<rect x="320.00" y="67.73" width="5.65" height="5.92" fill="#ee1f27" shape-rendering="crispEdges"/>
<rect x="325.60" y="67.73" width="5.65" height="5.92" fill="#ee1f27" shape-rendering="crispEdges"/>
<rect x="314.40" y="56.00" width="16.80" height="17.60" fill="none" stroke="#b8b8b8" stroke-width="0.35"/>
<rect x="334.50" y="56.00" width="5.78" height="5.92" fill="#ee1f27" shape-rendering="crispEdges"/>
<rect x="340.23" y="56.00" width="5.78" height="5.92" fill="#ee1f27" shape-rendering="crispEdges"/>
<rect x="345.97" y="56.00" width="5.78" height="5.92" fill="#ee1f27" shape-rendering="crispEdges"/>
<rect x="334.50" y="61.87" width="5.78" height="5.92" fill="#ee1f27" shape-rendering="crispEdges"/>
<rect x="340.23" y="61.87" width="5.78" height="5.92" fill="#ee1f27" shape-rendering="crispEdges"/>
<rect x="345.97" y="61.87" width="5.78" height="5.92" fill="#ee1f27" shape-rendering="crispEdges"/>
<rect x="334.50" y="67.73" width="5.78" height="5.92" fill="#ee1f27" shape-rendering="crispEdges"/>
<rect x="340.23" y="67.73" width="5.78" height="5.92" fill="#ee1f27" shape-rendering="crispEdges"/>
<rect x="345.97" y="67.73" width="5.78" height="5.92" fill="#ee1f27" shape-rendering="crispEdges"/>
<rect x="334.50" y="56.00" width="17.20" height="17.60" fill="none" stroke="#b8b8b8" stroke-width="0.35"/>
<rect x="292.8" y="21.3" width="59.69999999999999" height="18.7" fill="none" stroke="#5cb848" stroke-width="1.1"/>
<line x1="290.4" y1="2.8" x2="290.4" y2="75.6" stroke="#222" stroke-width="1.0" />
<circle cx="290.4" cy="3.0" r="0.8" fill="#111"/>
<line x1="290.4" y1="75.6" x2="352.7" y2="75.6" stroke="#222" stroke-width="1.0" />
<circle cx="352.7" cy="75.6" r="0.8" fill="#111"/>
<text x="287.79999999999995" y="13.3" font-size="5.1" text-anchor="end" fill="#222" font-weight="normal" font-family="'Liberation Sans', Arial, sans-serif"  stroke="#222" stroke-width="0.16">0.26 V</text>
<text x="287.79999999999995" y="30.6" font-size="5.1" text-anchor="end" fill="#222" font-weight="normal" font-family="'Liberation Sans', Arial, sans-serif"  stroke="#222" stroke-width="0.16">0.24 V</text>
<text x="287.79999999999995" y="48.3" font-size="5.1" text-anchor="end" fill="#222" font-weight="normal" font-family="'Liberation Sans', Arial, sans-serif"  stroke="#222" stroke-width="0.16">0.22 V</text>
<text x="287.79999999999995" y="64.6" font-size="5.1" text-anchor="end" fill="#222" font-weight="normal" font-family="'Liberation Sans', Arial, sans-serif"  stroke="#222" stroke-width="0.16">0.2 V</text>
<line x1="302.45000000000005" y1="75.6" x2="302.45000000000005" y2="77.8" stroke="#222" stroke-width="0.5" />
<text x="302.45000000000005" y="83.6" font-size="5.1" text-anchor="middle" fill="#222" font-weight="normal" font-family="'Liberation Sans', Arial, sans-serif"  stroke="#222" stroke-width="0.16">0</text>
<line x1="322.79999999999995" y1="75.6" x2="322.79999999999995" y2="77.8" stroke="#222" stroke-width="0.5" />
<text x="322.79999999999995" y="83.6" font-size="5.1" text-anchor="middle" fill="#222" font-weight="normal" font-family="'Liberation Sans', Arial, sans-serif"  stroke="#222" stroke-width="0.16">1</text>
<line x1="343.1" y1="75.6" x2="343.1" y2="77.8" stroke="#222" stroke-width="0.5" />
<text x="343.1" y="83.6" font-size="5.1" text-anchor="middle" fill="#222" font-weight="normal" font-family="'Liberation Sans', Arial, sans-serif"  stroke="#222" stroke-width="0.16">10</text>
<text x="322.9" y="90.0" font-size="5.3" text-anchor="middle" fill="#222" font-weight="normal" font-family="'Liberation Sans', Arial, sans-serif"  stroke="#222" stroke-width="0.16">Decay time (sec)</text>
<text x="0" y="0" transform="translate(272.0,38.449999999999996) rotate(-90)" font-size="6.1" text-anchor="middle" fill="#222" font-family="'Liberation Sans', Arial, sans-serif" stroke="#222" stroke-width="0.16">Load gate voltage (V<tspan font-size="3.8" dy="0.8">L</tspan><tspan dy="-0.8">)</tspan></text>
<rect x="440.00" y="4.50" width="5.65" height="5.82" fill="#f07078" shape-rendering="crispEdges"/>
<rect x="445.60" y="4.50" width="5.65" height="5.82" fill="#fdeef0" shape-rendering="crispEdges"/>
<rect x="451.20" y="4.50" width="5.65" height="5.82" fill="#ffffff" shape-rendering="crispEdges"/>
<rect x="440.00" y="10.27" width="5.65" height="5.82" fill="#f5a6ae" shape-rendering="crispEdges"/>
<rect x="445.60" y="10.27" width="5.65" height="5.82" fill="#f5a6ae" shape-rendering="crispEdges"/>
<rect x="451.20" y="10.27" width="5.65" height="5.82" fill="#ffffff" shape-rendering="crispEdges"/>
<rect x="440.00" y="16.03" width="5.65" height="5.82" fill="#f5a6ae" shape-rendering="crispEdges"/>
<rect x="445.60" y="16.03" width="5.65" height="5.82" fill="#ffffff" shape-rendering="crispEdges"/>
<rect x="451.20" y="16.03" width="5.65" height="5.82" fill="#ffffff" shape-rendering="crispEdges"/>
<rect x="440.00" y="4.50" width="16.80" height="17.30" fill="none" stroke="#b8b8b8" stroke-width="0.35"/>
<rect x="460.00" y="4.50" width="5.78" height="5.82" fill="#ffffff" shape-rendering="crispEdges"/>
<rect x="465.73" y="4.50" width="5.78" height="5.82" fill="#ffffff" shape-rendering="crispEdges"/>
<rect x="471.47" y="4.50" width="5.78" height="5.82" fill="#ffffff" shape-rendering="crispEdges"/>
<rect x="460.00" y="10.27" width="5.78" height="5.82" fill="#ffffff" shape-rendering="crispEdges"/>
<rect x="465.73" y="10.27" width="5.78" height="5.82" fill="#ffffff" shape-rendering="crispEdges"/>
<rect x="471.47" y="10.27" width="5.78" height="5.82" fill="#ffffff" shape-rendering="crispEdges"/>
<rect x="460.00" y="16.03" width="5.78" height="5.82" fill="#ffffff" shape-rendering="crispEdges"/>
<rect x="465.73" y="16.03" width="5.78" height="5.82" fill="#ffffff" shape-rendering="crispEdges"/>
<rect x="471.47" y="16.03" width="5.78" height="5.82" fill="#ffffff" shape-rendering="crispEdges"/>
<rect x="460.00" y="4.50" width="17.20" height="17.30" fill="none" stroke="#b8b8b8" stroke-width="0.35"/>
<rect x="479.70" y="4.50" width="5.82" height="5.82" fill="#ffffff" shape-rendering="crispEdges"/>
<rect x="485.47" y="4.50" width="5.82" height="5.82" fill="#ffffff" shape-rendering="crispEdges"/>
<rect x="491.23" y="4.50" width="5.82" height="5.82" fill="#ffffff" shape-rendering="crispEdges"/>
<rect x="479.70" y="10.27" width="5.82" height="5.82" fill="#ffffff" shape-rendering="crispEdges"/>
<rect x="485.47" y="10.27" width="5.82" height="5.82" fill="#ffffff" shape-rendering="crispEdges"/>
<rect x="491.23" y="10.27" width="5.82" height="5.82" fill="#ffffff" shape-rendering="crispEdges"/>
<rect x="479.70" y="16.03" width="5.82" height="5.82" fill="#ffffff" shape-rendering="crispEdges"/>
<rect x="485.47" y="16.03" width="5.82" height="5.82" fill="#ffffff" shape-rendering="crispEdges"/>
<rect x="491.23" y="16.03" width="5.82" height="5.82" fill="#ffffff" shape-rendering="crispEdges"/>
<rect x="479.70" y="4.50" width="17.30" height="17.30" fill="none" stroke="#b8b8b8" stroke-width="0.35"/>
<rect x="440.00" y="21.80" width="5.65" height="5.85" fill="#ee1f27" shape-rendering="crispEdges"/>
<rect x="445.60" y="21.80" width="5.65" height="5.85" fill="#f5a6ae" shape-rendering="crispEdges"/>
<rect x="451.20" y="21.80" width="5.65" height="5.85" fill="#fbd4d8" shape-rendering="crispEdges"/>
<rect x="440.00" y="27.60" width="5.65" height="5.85" fill="#ee1f27" shape-rendering="crispEdges"/>
<rect x="445.60" y="27.60" width="5.65" height="5.85" fill="#ee1f27" shape-rendering="crispEdges"/>
<rect x="451.20" y="27.60" width="5.65" height="5.85" fill="#f5a6ae" shape-rendering="crispEdges"/>
<rect x="440.00" y="33.40" width="5.65" height="5.85" fill="#ee1f27" shape-rendering="crispEdges"/>
<rect x="445.60" y="33.40" width="5.65" height="5.85" fill="#f5a6ae" shape-rendering="crispEdges"/>
<rect x="451.20" y="33.40" width="5.65" height="5.85" fill="#fbd4d8" shape-rendering="crispEdges"/>
<rect x="440.00" y="21.80" width="16.80" height="17.40" fill="none" stroke="#b8b8b8" stroke-width="0.35"/>
<rect x="460.00" y="21.80" width="5.78" height="5.85" fill="#f07078" shape-rendering="crispEdges"/>
<rect x="465.73" y="21.80" width="5.78" height="5.85" fill="#fbd4d8" shape-rendering="crispEdges"/>
<rect x="471.47" y="21.80" width="5.78" height="5.85" fill="#ffffff" shape-rendering="crispEdges"/>
<rect x="460.00" y="27.60" width="5.78" height="5.85" fill="#f07078" shape-rendering="crispEdges"/>
<rect x="465.73" y="27.60" width="5.78" height="5.85" fill="#f07078" shape-rendering="crispEdges"/>
<rect x="471.47" y="27.60" width="5.78" height="5.85" fill="#ffffff" shape-rendering="crispEdges"/>
<rect x="460.00" y="33.40" width="5.78" height="5.85" fill="#f07078" shape-rendering="crispEdges"/>
<rect x="465.73" y="33.40" width="5.78" height="5.85" fill="#ffffff" shape-rendering="crispEdges"/>
<rect x="471.47" y="33.40" width="5.78" height="5.85" fill="#ffffff" shape-rendering="crispEdges"/>
<rect x="460.00" y="21.80" width="17.20" height="17.40" fill="none" stroke="#b8b8b8" stroke-width="0.35"/>
<rect x="479.70" y="21.80" width="5.82" height="5.85" fill="#fbd4d8" shape-rendering="crispEdges"/>
<rect x="485.47" y="21.80" width="5.82" height="5.85" fill="#ffffff" shape-rendering="crispEdges"/>
<rect x="491.23" y="21.80" width="5.82" height="5.85" fill="#ffffff" shape-rendering="crispEdges"/>
<rect x="479.70" y="27.60" width="5.82" height="5.85" fill="#fbd4d8" shape-rendering="crispEdges"/>
<rect x="485.47" y="27.60" width="5.82" height="5.85" fill="#fbd4d8" shape-rendering="crispEdges"/>
<rect x="491.23" y="27.60" width="5.82" height="5.85" fill="#ffffff" shape-rendering="crispEdges"/>
<rect x="479.70" y="33.40" width="5.82" height="5.85" fill="#fbd4d8" shape-rendering="crispEdges"/>
<rect x="485.47" y="33.40" width="5.82" height="5.85" fill="#ffffff" shape-rendering="crispEdges"/>
<rect x="491.23" y="33.40" width="5.82" height="5.85" fill="#ffffff" shape-rendering="crispEdges"/>
<rect x="479.70" y="21.80" width="17.30" height="17.40" fill="none" stroke="#b8b8b8" stroke-width="0.35"/>
<rect x="440.00" y="39.20" width="5.65" height="6.28" fill="#ee1f27" shape-rendering="crispEdges"/>
<rect x="445.60" y="39.20" width="5.65" height="6.28" fill="#f07078" shape-rendering="crispEdges"/>
<rect x="451.20" y="39.20" width="5.65" height="6.28" fill="#ee1f27" shape-rendering="crispEdges"/>
<rect x="440.00" y="45.43" width="5.65" height="6.28" fill="#ee1f27" shape-rendering="crispEdges"/>
<rect x="445.60" y="45.43" width="5.65" height="6.28" fill="#ee1f27" shape-rendering="crispEdges"/>
<rect x="451.20" y="45.43" width="5.65" height="6.28" fill="#ee1f27" shape-rendering="crispEdges"/>
<rect x="440.00" y="51.67" width="5.65" height="6.28" fill="#ee1f27" shape-rendering="crispEdges"/>
<rect x="445.60" y="51.67" width="5.65" height="6.28" fill="#f07078" shape-rendering="crispEdges"/>
<rect x="451.20" y="51.67" width="5.65" height="6.28" fill="#ee1f27" shape-rendering="crispEdges"/>
<rect x="440.00" y="39.20" width="16.80" height="18.70" fill="none" stroke="#b8b8b8" stroke-width="0.35"/>
<rect x="460.00" y="39.20" width="5.78" height="6.28" fill="#ee1f27" shape-rendering="crispEdges"/>
<rect x="465.73" y="39.20" width="5.78" height="6.28" fill="#fbd4d8" shape-rendering="crispEdges"/>
<rect x="471.47" y="39.20" width="5.78" height="6.28" fill="#ee1f27" shape-rendering="crispEdges"/>
<rect x="460.00" y="45.43" width="5.78" height="6.28" fill="#ee1f27" shape-rendering="crispEdges"/>
<rect x="465.73" y="45.43" width="5.78" height="6.28" fill="#ee1f27" shape-rendering="crispEdges"/>
<rect x="471.47" y="45.43" width="5.78" height="6.28" fill="#ee1f27" shape-rendering="crispEdges"/>
<rect x="460.00" y="51.67" width="5.78" height="6.28" fill="#ee1f27" shape-rendering="crispEdges"/>
<rect x="465.73" y="51.67" width="5.78" height="6.28" fill="#fbd4d8" shape-rendering="crispEdges"/>
<rect x="471.47" y="51.67" width="5.78" height="6.28" fill="#ee1f27" shape-rendering="crispEdges"/>
<rect x="460.00" y="39.20" width="17.20" height="18.70" fill="none" stroke="#b8b8b8" stroke-width="0.35"/>
<rect x="479.70" y="39.20" width="5.82" height="6.28" fill="#ee1f27" shape-rendering="crispEdges"/>
<rect x="485.47" y="39.20" width="5.82" height="6.28" fill="#ffffff" shape-rendering="crispEdges"/>
<rect x="491.23" y="39.20" width="5.82" height="6.28" fill="#ee1f27" shape-rendering="crispEdges"/>
<rect x="479.70" y="45.43" width="5.82" height="6.28" fill="#ee1f27" shape-rendering="crispEdges"/>
<rect x="485.47" y="45.43" width="5.82" height="6.28" fill="#ee1f27" shape-rendering="crispEdges"/>
<rect x="491.23" y="45.43" width="5.82" height="6.28" fill="#ee1f27" shape-rendering="crispEdges"/>
<rect x="479.70" y="51.67" width="5.82" height="6.28" fill="#ee1f27" shape-rendering="crispEdges"/>
<rect x="485.47" y="51.67" width="5.82" height="6.28" fill="#ffffff" shape-rendering="crispEdges"/>
<rect x="491.23" y="51.67" width="5.82" height="6.28" fill="#ee1f27" shape-rendering="crispEdges"/>
<rect x="479.70" y="39.20" width="17.30" height="18.70" fill="none" stroke="#b8b8b8" stroke-width="0.35"/>
<rect x="440.00" y="57.90" width="5.65" height="5.22" fill="#ee1f27" shape-rendering="crispEdges"/>
<rect x="445.60" y="57.90" width="5.65" height="5.22" fill="#ee1f27" shape-rendering="crispEdges"/>
<rect x="451.20" y="57.90" width="5.65" height="5.22" fill="#ee1f27" shape-rendering="crispEdges"/>
<rect x="440.00" y="63.07" width="5.65" height="5.22" fill="#ee1f27" shape-rendering="crispEdges"/>
<rect x="445.60" y="63.07" width="5.65" height="5.22" fill="#ee1f27" shape-rendering="crispEdges"/>
<rect x="451.20" y="63.07" width="5.65" height="5.22" fill="#ee1f27" shape-rendering="crispEdges"/>
<rect x="440.00" y="68.23" width="5.65" height="5.22" fill="#ee1f27" shape-rendering="crispEdges"/>
<rect x="445.60" y="68.23" width="5.65" height="5.22" fill="#ee1f27" shape-rendering="crispEdges"/>
<rect x="451.20" y="68.23" width="5.65" height="5.22" fill="#ee1f27" shape-rendering="crispEdges"/>
<rect x="440.00" y="57.90" width="16.80" height="15.50" fill="none" stroke="#b8b8b8" stroke-width="0.35"/>
<rect x="460.00" y="57.90" width="5.78" height="5.22" fill="#ee1f27" shape-rendering="crispEdges"/>
<rect x="465.73" y="57.90" width="5.78" height="5.22" fill="#ee1f27" shape-rendering="crispEdges"/>
<rect x="471.47" y="57.90" width="5.78" height="5.22" fill="#ee1f27" shape-rendering="crispEdges"/>
<rect x="460.00" y="63.07" width="5.78" height="5.22" fill="#ee1f27" shape-rendering="crispEdges"/>
<rect x="465.73" y="63.07" width="5.78" height="5.22" fill="#ee1f27" shape-rendering="crispEdges"/>
<rect x="471.47" y="63.07" width="5.78" height="5.22" fill="#ee1f27" shape-rendering="crispEdges"/>
<rect x="460.00" y="68.23" width="5.78" height="5.22" fill="#ee1f27" shape-rendering="crispEdges"/>
<rect x="465.73" y="68.23" width="5.78" height="5.22" fill="#ee1f27" shape-rendering="crispEdges"/>
<rect x="471.47" y="68.23" width="5.78" height="5.22" fill="#ee1f27" shape-rendering="crispEdges"/>
<rect x="460.00" y="57.90" width="17.20" height="15.50" fill="none" stroke="#b8b8b8" stroke-width="0.35"/>
<rect x="479.70" y="57.90" width="5.82" height="5.22" fill="#ee1f27" shape-rendering="crispEdges"/>
<rect x="485.47" y="57.90" width="5.82" height="5.22" fill="#ee1f27" shape-rendering="crispEdges"/>
<rect x="491.23" y="57.90" width="5.82" height="5.22" fill="#ee1f27" shape-rendering="crispEdges"/>
<rect x="479.70" y="63.07" width="5.82" height="5.22" fill="#ee1f27" shape-rendering="crispEdges"/>
<rect x="485.47" y="63.07" width="5.82" height="5.22" fill="#ee1f27" shape-rendering="crispEdges"/>
<rect x="491.23" y="63.07" width="5.82" height="5.22" fill="#ee1f27" shape-rendering="crispEdges"/>
<rect x="479.70" y="68.23" width="5.82" height="5.22" fill="#ee1f27" shape-rendering="crispEdges"/>
<rect x="485.47" y="68.23" width="5.82" height="5.22" fill="#ee1f27" shape-rendering="crispEdges"/>
<rect x="491.23" y="68.23" width="5.82" height="5.22" fill="#ee1f27" shape-rendering="crispEdges"/>
<rect x="479.70" y="57.90" width="17.30" height="15.50" fill="none" stroke="#b8b8b8" stroke-width="0.35"/>
<rect x="438.2" y="39.2" width="60.5" height="18.699999999999996" fill="none" stroke="#5cb848" stroke-width="1.1"/>
<line x1="436.8" y1="4.0" x2="436.8" y2="75.6" stroke="#222" stroke-width="1.0" />
<circle cx="436.8" cy="4.2" r="0.8" fill="#111"/>
<line x1="436.8" y1="75.6" x2="498.0" y2="75.6" stroke="#222" stroke-width="1.0" />
<circle cx="498.0" cy="75.6" r="0.8" fill="#111"/>
<text x="434.2" y="14.100000000000001" font-size="5.1" text-anchor="end" fill="#222" font-weight="normal" font-family="'Liberation Sans', Arial, sans-serif"  stroke="#222" stroke-width="0.16">0.26 V</text>
<text x="434.2" y="31.8" font-size="5.1" text-anchor="end" fill="#222" font-weight="normal" font-family="'Liberation Sans', Arial, sans-serif"  stroke="#222" stroke-width="0.16">0.24 V</text>
<text x="434.2" y="49.199999999999996" font-size="5.1" text-anchor="end" fill="#222" font-weight="normal" font-family="'Liberation Sans', Arial, sans-serif"  stroke="#222" stroke-width="0.16">0.22 V</text>
<text x="434.2" y="66.0" font-size="5.1" text-anchor="end" fill="#222" font-weight="normal" font-family="'Liberation Sans', Arial, sans-serif"  stroke="#222" stroke-width="0.16">0.2 V</text>
<line x1="448.4" y1="75.6" x2="448.4" y2="77.8" stroke="#222" stroke-width="0.5" />
<text x="448.4" y="83.6" font-size="5.1" text-anchor="middle" fill="#222" font-weight="normal" font-family="'Liberation Sans', Arial, sans-serif"  stroke="#222" stroke-width="0.16">0</text>
<line x1="468.6" y1="75.6" x2="468.6" y2="77.8" stroke="#222" stroke-width="0.5" />
<text x="468.6" y="83.6" font-size="5.1" text-anchor="middle" fill="#222" font-weight="normal" font-family="'Liberation Sans', Arial, sans-serif"  stroke="#222" stroke-width="0.16">1</text>
<line x1="488.35" y1="75.6" x2="488.35" y2="77.8" stroke="#222" stroke-width="0.5" />
<text x="488.35" y="83.6" font-size="5.1" text-anchor="middle" fill="#222" font-weight="normal" font-family="'Liberation Sans', Arial, sans-serif"  stroke="#222" stroke-width="0.16">10</text>
<text x="468.5" y="90.0" font-size="5.3" text-anchor="middle" fill="#222" font-weight="normal" font-family="'Liberation Sans', Arial, sans-serif"  stroke="#222" stroke-width="0.16">Decay time (sec)</text>
<text x="0" y="0" transform="translate(417.4,38.95) rotate(-90)" font-size="6.1" text-anchor="middle" fill="#222" font-family="'Liberation Sans', Arial, sans-serif" stroke="#222" stroke-width="0.16">Load gate voltage (V<tspan font-size="3.8" dy="0.8">L</tspan><tspan dy="-0.8">)</tspan></text>
<rect x="499.4" y="14.1" width="11.8" height="65.9" fill="url(#gPSC)" stroke="#888" stroke-width="0.4"/>
<text x="500.5" y="8.4" font-size="5.4" text-anchor="start" fill="#222" font-weight="normal" font-family="'Liberation Sans', Arial, sans-serif"  stroke="#222" stroke-width="0.16">PSC (A)</text>
<text x="513.3" y="18.6" font-size="4.6" fill="#222" font-family="'Liberation Sans', Arial, sans-serif" stroke="#222" stroke-width="0.16">10<tspan font-size="3.0" dy="-1.8">-5</tspan></text>
<text x="513.3" y="39.4" font-size="4.6" fill="#222" font-family="'Liberation Sans', Arial, sans-serif" stroke="#222" stroke-width="0.16">10<tspan font-size="3.0" dy="-1.8">-7</tspan></text>
<text x="513.3" y="60.0" font-size="4.6" fill="#222" font-family="'Liberation Sans', Arial, sans-serif" stroke="#222" stroke-width="0.16">10<tspan font-size="3.0" dy="-1.8">-9</tspan></text>
<text x="513.3" y="81.2" font-size="4.6" fill="#222" font-family="'Liberation Sans', Arial, sans-serif" stroke="#222" stroke-width="0.16">10<tspan font-size="3.0" dy="-1.8">-11</tspan></text>
<text x="0.4" y="113.0" font-size="14" text-anchor="start" fill="#111" font-weight="normal" font-family="'Liberation Serif', 'Times New Roman', serif" stroke="#111" stroke-width="0.25">(c)</text>
<polygon points="56.0,134 84.0,122 84.0,162 56.0,148" fill="url(#gProj)" />
<polygon points="56.0,191 84.0,183 84.0,224 56.0,205" fill="url(#gProj)" />
<polygon points="56.0,259 84.0,250 84.0,291 56.0,273" fill="url(#gProj)" />
<polygon points="8.75,148.21428571428572 35.15,158.4142857142857 57.85,146.71428571428572 57.85,148.0 35.15,159.7 8.75,149.5" fill="#6a48c8" />
<polygon points="8.75,146.92857142857144 35.15,157.12857142857143 57.85,145.42857142857144 57.85,146.71428571428572 35.15,158.4142857142857 8.75,148.21428571428572" fill="#e498f0" />
<polygon points="8.75,145.64285714285714 35.15,155.84285714285713 57.85,144.14285714285714 57.85,145.42857142857144 35.15,157.12857142857143 8.75,146.92857142857144" fill="#f2eea0" />
<polygon points="8.75,144.35714285714286 35.15,154.55714285714285 57.85,142.85714285714286 57.85,144.14285714285714 35.15,155.84285714285713 8.75,145.64285714285714" fill="#ffffff" />
<polygon points="8.75,143.07142857142858 35.15,153.27142857142857 57.85,141.57142857142858 57.85,142.85714285714286 35.15,154.55714285714285 8.75,144.35714285714286" fill="#a4e0a0" />
<polygon points="8.75,141.78571428571428 35.15,151.98571428571427 57.85,140.28571428571428 57.85,141.57142857142858 35.15,153.27142857142857 8.75,143.07142857142858" fill="#f2c898" />
<polygon points="8.75,140.5 35.15,150.7 57.85,139.0 57.85,140.28571428571428 35.15,151.98571428571427 8.75,141.78571428571428" fill="#ffffff" />
<polygon points="29.35,128.1 57.85,138.4 35.15,150.1 8.75,139.9" fill="#9ec0e6" />
<line x1="26.97" y1="137.06" x2="41.49" y2="142.67" stroke="#b8e4cc" stroke-width="7" stroke-linecap="round" opacity="0.75"/>
<ellipse cx="33.28" cy="138.51" rx="6" ry="3.6" fill="#d8f0d8" opacity="0.8"/>
<polygon points="14.389999999999999,139.708 35.774,147.97 35.774,149.37 14.389999999999999,141.108" fill="#b488d8" />
<polygon points="14.389999999999999,139.708 35.774,147.97 39.07,146.082 17.686,137.82" fill="#d6a6f0" />
<line x1="16.67" y1="139.16" x2="36.73" y2="146.92" stroke="#ffffff" stroke-width="1.3"/>
<polygon points="30.626,132.94 50.426,140.58999999999997 50.426,141.98999999999998 30.626,134.34" fill="#b488d8" />
<polygon points="30.626,132.94 50.426,140.58999999999997 53.721999999999994,138.70199999999997 33.922,131.052" fill="#d6a6f0" />
<line x1="32.90" y1="132.40" x2="51.38" y2="139.54" stroke="#ffffff" stroke-width="1.3"/>
<path d="M31.15,117.6 L33.55,117.6 L36.35,136.6 Q32.75,138.1 27.55,136.6 Z" fill="url(#gLight)" opacity="0.95"/>
<text x="37.5" y="120.5" font-size="5.4" text-anchor="start" fill="#111" font-weight="bold" font-family="'Liberation Sans', Arial, sans-serif"  stroke="#111" stroke-width="0.16">Light</text>
<polygon points="9.200000000000003,207.5142857142857 32.7,218.5142857142857 57.0,203.6142857142857 57.0,204.89999999999998 32.7,219.79999999999998 9.200000000000003,208.79999999999998" fill="#6a48c8" />
<polygon points="9.200000000000003,206.22857142857143 32.7,217.22857142857143 57.0,202.32857142857142 57.0,203.6142857142857 32.7,218.5142857142857 9.200000000000003,207.5142857142857" fill="#e498f0" />
<polygon points="9.200000000000003,204.94285714285712 32.7,215.94285714285712 57.0,201.04285714285712 57.0,202.32857142857142 32.7,217.22857142857143 9.200000000000003,206.22857142857143" fill="#f2eea0" />
<polygon points="9.200000000000003,203.65714285714284 32.7,214.65714285714284 57.0,199.75714285714284 57.0,201.04285714285712 32.7,215.94285714285712 9.200000000000003,204.94285714285712" fill="#ffffff" />
<polygon points="9.200000000000003,202.37142857142857 32.7,213.37142857142857 57.0,198.47142857142856 57.0,199.75714285714284 32.7,214.65714285714284 9.200000000000003,203.65714285714284" fill="#a4e0a0" />
<polygon points="9.200000000000003,201.08571428571426 32.7,212.08571428571426 57.0,197.18571428571425 57.0,198.47142857142856 32.7,213.37142857142857 9.200000000000003,202.37142857142857" fill="#f2c898" />
<polygon points="9.200000000000003,199.79999999999998 32.7,210.79999999999998 57.0,195.89999999999998 57.0,197.18571428571425 32.7,212.08571428571426 9.200000000000003,201.08571428571426" fill="#ffffff" />
<polygon points="33.5,185.6 57.0,195.29999999999998 32.7,210.2 9.200000000000003,199.2" fill="#9ec0e6" />
<line x1="28.40" y1="195.70" x2="41.33" y2="201.75" stroke="#b8e4cc" stroke-width="7" stroke-linecap="round" opacity="0.75"/>
<ellipse cx="34.32" cy="197.22" rx="6" ry="3.6" fill="#d8f0d8" opacity="0.8"/>
<polygon points="14.936000000000003,198.88799999999998 33.971000000000004,207.79799999999997 33.971000000000004,209.19799999999998 14.936000000000003,200.28799999999998" fill="#b488d8" />
<polygon points="14.936000000000003,198.88799999999998 33.971000000000004,207.79799999999997 37.859,205.62199999999999 18.824000000000005,196.712" fill="#d6a6f0" />
<line x1="17.39" y1="198.24" x2="35.25" y2="206.60" stroke="#ffffff" stroke-width="1.3"/>
<polygon points="33.324,191.01199999999997 50.949,199.26199999999997 50.949,200.66199999999998 33.324,192.41199999999998" fill="#b488d8" />
<polygon points="33.324,191.01199999999997 50.949,199.26199999999997 54.837,197.08599999999998 37.212,188.83599999999998" fill="#d6a6f0" />
<line x1="35.78" y1="190.36" x2="52.23" y2="198.06" stroke="#ffffff" stroke-width="1.3"/>
<path d="M27.900000000000002,195.1 C28.700000000000003,186.6 30.3,177.6 31.900000000000002,171.6 C33.5,177.6 35.5,186.6 36.7,195.1 Q33.1,196.6 27.900000000000002,195.1 Z" fill="url(#gFlame)"/>
<text x="38.4" y="174.4" font-size="5.4" text-anchor="start" fill="#111" font-weight="bold" font-family="'Liberation Sans', Arial, sans-serif"  stroke="#111" stroke-width="0.16">Light</text>
<polygon points="8.899999999999999,273.71428571428567 32.5,285.5142857142857 57.7,274.6142857142857 57.7,275.90000000000003 32.5,286.8 8.899999999999999,275.0" fill="#6a48c8" />
<polygon points="8.899999999999999,272.4285714285714 32.5,284.2285714285714 57.7,273.3285714285714 57.7,274.6142857142857 32.5,285.5142857142857 8.899999999999999,273.71428571428567" fill="#e498f0" />
<polygon points="8.899999999999999,271.1428571428571 32.5,282.9428571428571 57.7,272.04285714285714 57.7,273.3285714285714 32.5,284.2285714285714 8.899999999999999,272.4285714285714" fill="#f2eea0" />
<polygon points="8.899999999999999,269.85714285714283 32.5,281.65714285714284 57.7,270.75714285714287 57.7,272.04285714285714 32.5,282.9428571428571 8.899999999999999,271.1428571428571" fill="#ffffff" />
<polygon points="8.899999999999999,268.57142857142856 32.5,280.37142857142857 57.7,269.4714285714286 57.7,270.75714285714287 32.5,281.65714285714284 8.899999999999999,269.85714285714283" fill="#a4e0a0" />
<polygon points="8.899999999999999,267.2857142857143 32.5,279.0857142857143 57.7,268.1857142857143 57.7,269.4714285714286 32.5,280.37142857142857 8.899999999999999,268.57142857142856" fill="#f2c898" />
<polygon points="8.899999999999999,266.0 32.5,277.8 57.7,266.90000000000003 57.7,268.1857142857143 32.5,279.0857142857143 8.899999999999999,267.2857142857143" fill="#ffffff" />
<polygon points="34.5,253.2 57.7,266.3 32.5,277.2 8.899999999999999,265.4" fill="#9ec0e6" />
<line x1="28.78" y1="262.84" x2="41.76" y2="269.33" stroke="#b8e4cc" stroke-width="7" stroke-linecap="round" opacity="0.75"/>
<ellipse cx="34.78" cy="264.59" rx="6" ry="3.6" fill="#d8f0d8" opacity="0.8"/>
<polygon points="14.803999999999998,265.352 33.92,274.90999999999997 33.92,276.30999999999995 14.803999999999998,266.75199999999995" fill="#b488d8" />
<polygon points="14.803999999999998,265.352 33.92,274.90999999999997 38.016000000000005,272.95799999999997 18.9,263.4" fill="#d6a6f0" />
<line x1="17.36" y1="264.83" x2="35.29" y2="273.80" stroke="#ffffff" stroke-width="1.3"/>
<polygon points="34.06,258.48 51.760000000000005,267.33000000000004 51.760000000000005,268.73 34.06,259.88" fill="#b488d8" />
<polygon points="34.06,258.48 51.760000000000005,267.33000000000004 55.856,265.37800000000004 38.156000000000006,256.528" fill="#d6a6f0" />
<line x1="36.61" y1="257.96" x2="53.13" y2="266.22" stroke="#ffffff" stroke-width="1.3"/>
<path d="M28.2,263.0 C29.0,254.5 30.599999999999998,245.5 32.199999999999996,239.5 C33.8,245.5 35.8,254.5 37.0,263.0 Q33.4,264.5 28.2,263.0 Z" fill="url(#gFlame)"/>
<text x="41.5" y="238.8" font-size="5.4" text-anchor="middle" fill="#111" font-weight="bold" font-family="'Liberation Sans', Arial, sans-serif"  stroke="#111" stroke-width="0.16">Light + Voltage</text>
<polygon points="40.2,249.5 45.4,249.6 43.4,254.5 45.2,254.6 41.0,262.6 42.0,256.5 40.4,256.4" fill="#f0a050" />
<line x1="92.0" y1="139.3" x2="154.3" y2="139.3" stroke="#555" stroke-width="0.55" stroke-dasharray="1,1"/>
<polygon points="94.2,158.29749999999999 94.895,157.87936900625118 95.59,157.47133578921674 96.285,157.0731510339013 96.98,156.68457158091863 97.675,156.30536027450918 98.37,155.93528581430985 99.065,155.574122610784 99.76,155.22165064422038 100.455,154.87765532721383 101.15,154.54192737054106 101.845,154.21426265234814 102.54,153.89446209056769 103.235,153.58233151848603 103.93,153.2776815633828 104.625,152.98032752816664 105.32000000000001,152.69008927593381 106.015,152.40679111737637 106.71000000000001,152.13026170097103 107.405,151.86033390587852 108.1,151.5968447374879 108.795,151.3396352255395 109.49000000000001,151.0885503247633 110.185,150.8434388179707 110.88,150.60415322153872 111.575,150.37054969322807 112.27000000000001,150.14248794227694 112.965,149.91983114171487 113.66,149.7024458428412 114.355,149.4902018918155 115.05,149.28297234830717 115.745,149.08063340615345 116.44,148.88306431597664 117.135,148.69014730971185 117.83,148.501767526998 118.525,148.31781294338654 119.22,148.13817430032228 119.915,147.96274503685345 120.61,147.79142122302753 121.305,147.62410149493167 122.0,147.46068699133696 122.695,147.30108129190688 123.39,147.14519035693158 124.08500000000001,146.99292246854986 124.78,146.84418817342262 125.475,146.6989002268215 126.17,146.5569735380983 126.86500000000001,146.41832511750022 127.56,146.28287402429893 128.255,146.1505413161997 128.95,146.02125 128.95,150.29125 128.255,150.40224131619968 127.56,150.51627402429892 126.86500000000001,150.63342511750025 126.17,150.7537735380983 125.475,150.87740022682152 124.78,151.00438817342263 124.08500000000001,151.13482246854988 123.39,151.26879035693156 122.695,151.40638129190688 122.0,151.54768699133695 121.305,151.69280149493164 120.61,151.84182122302752 119.915,151.99484503685343 119.22,152.15197430032225 118.525,152.31331294338653 117.83,152.47896752699802 117.135,152.64904730971185 116.44,152.82366431597666 115.745,153.00293340615343 115.05,153.18697234830717 114.355,153.37590189181552 113.66,153.5698458428412 112.965,153.76893114171486 112.27000000000001,153.97328794227695 111.575,154.18304969322807 110.88,154.39835322153874 110.185,154.6193388179707 109.49000000000001,154.8461503247633 108.795,155.0789352255395 108.1,155.31784473748792 107.405,155.56303390587854 106.71000000000001,155.81466170097102 106.015,156.0728911173764 105.32000000000001,156.3378892759338 104.625,156.60982752816665 103.93,156.88888156338277 103.235,157.17523151848604 102.54,157.46906209056766 101.845,157.77056265234813 101.15,158.07992737054104 100.455,158.39735532721383 99.76,158.7230506442204 99.065,159.05722261078398 98.37,159.40008581430988 97.675,159.75186027450917 96.98,160.11277158091866 96.285,160.4830510339013 95.59,160.86293578921675 94.895,161.25266900625115 94.2,161.6525" fill="#d87070" />
<path d="M94.55,161.45 L94.72,158.09 M94.89,161.25 L95.07,157.88 M95.24,161.06 L95.42,157.67 M95.59,160.86 L95.76,157.47 M95.94,160.67 L96.11,157.27 M96.28,160.48 L96.46,157.07 M96.63,160.30 L96.81,156.88 M96.98,160.11 L97.15,156.68 M97.33,159.93 L97.50,156.49 M97.67,159.75 L97.85,156.31 M98.02,159.57 L98.20,156.12 M98.37,159.40 L98.54,155.94 M98.72,159.23 L98.89,155.75 M99.06,159.06 L99.24,155.57 M99.41,158.89 L99.59,155.40 M99.76,158.72 L99.93,155.22 M100.11,158.56 L100.28,155.05 M100.45,158.40 L100.63,154.88 M100.80,158.24 L100.98,154.71 M101.15,158.08 L101.32,154.54 M101.50,157.92 L101.67,154.38 M101.84,157.77 L102.02,154.21 M102.19,157.62 L102.37,154.05 M102.54,157.47 L102.71,153.89 M102.89,157.32 L103.06,153.74 M103.23,157.18 L103.41,153.58 M103.58,157.03 L103.76,153.43 M103.93,156.89 L104.10,153.28 M104.28,156.75 L104.45,153.13 M104.62,156.61 L104.80,152.98 M104.97,156.47 L105.15,152.83 M105.32,156.34 L105.49,152.69 M105.67,156.20 L105.84,152.55 M106.02,156.07 L106.19,152.41 M106.36,155.94 L106.54,152.27 M106.71,155.81 L106.88,152.13 M107.06,155.69 L107.23,151.99 M107.41,155.56 L107.58,151.86 M107.75,155.44 L107.93,151.73 M108.10,155.32 L108.27,151.60 M108.45,155.20 L108.62,151.47 M108.80,155.08 L108.97,151.34 M109.14,154.96 L109.32,151.21 M109.49,154.85 L109.66,151.09 M109.84,154.73 L110.01,150.97 M110.19,154.62 L110.36,150.84 M110.53,154.51 L110.71,150.72 M110.88,154.40 L111.05,150.60 M111.23,154.29 L111.40,150.49 M111.58,154.18 L111.75,150.37 M111.92,154.08 L112.10,150.26 M112.27,153.97 L112.44,150.14 M112.62,153.87 L112.79,150.03 M112.97,153.77 L113.14,149.92 M113.31,153.67 L113.49,149.81 M113.66,153.57 L113.83,149.70 M114.01,153.47 L114.18,149.60 M114.36,153.38 L114.53,149.49 M114.70,153.28 L114.88,149.39 M115.05,153.19 L115.22,149.28 M115.40,153.09 L115.57,149.18 M115.75,153.00 L115.92,149.08 M116.09,152.91 L116.27,148.98 M116.44,152.82 L116.61,148.88 M116.79,152.74 L116.96,148.79 M117.14,152.65 L117.31,148.69 M117.48,152.56 L117.66,148.60 M117.83,152.48 L118.00,148.50 M118.18,152.40 L118.35,148.41 M118.53,152.31 L118.70,148.32 M118.87,152.23 L119.05,148.23 M119.22,152.15 L119.39,148.14 M119.57,152.07 L119.74,148.05 M119.92,151.99 L120.09,147.96 M120.26,151.92 L120.44,147.88 M120.61,151.84 L120.78,147.79 M120.96,151.77 L121.13,147.71 M121.31,151.69 L121.48,147.62 M121.65,151.62 L121.83,147.54 M122.00,151.55 L122.17,147.46 M122.35,151.48 L122.52,147.38 M122.69,151.41 L122.87,147.30 M123.04,151.34 L123.22,147.22 M123.39,151.27 L123.56,147.15 M123.74,151.20 L123.91,147.07 M124.09,151.13 L124.26,146.99 M124.43,151.07 L124.61,146.92 M124.78,151.00 L124.95,146.84 M125.13,150.94 L125.30,146.77 M125.47,150.88 L125.65,146.70 M125.82,150.82 L126.00,146.63 M126.17,150.75 L126.34,146.56 M126.52,150.69 L126.69,146.49 M126.87,150.63 L127.04,146.42 M127.21,150.57 L127.39,146.35 M127.56,150.52 L127.73,146.28 M127.91,150.46 L128.08,146.22 M128.25,150.40 L128.43,146.15 M128.60,150.35 L128.78,146.09 M128.95,150.29 L129.12,146.02" stroke="#b02828" stroke-width="0.3" fill="none" opacity="0.8"/>
<path d="M128.95,146.88 L129.65,147.27 L130.34,147.64 L131.03,147.98 L131.73,148.31 L132.43,148.61 L133.12,148.90 L133.81,149.17 L134.51,149.42 L135.20,149.66 L135.90,149.88 L136.59,150.09 L137.29,150.29 L137.99,150.47 L138.68,150.65 L139.38,150.81 L140.07,150.96 L140.76,151.11 L141.46,151.24 L142.16,151.37 L142.85,151.49 L143.55,151.60 L144.24,151.71 L144.94,151.81 L145.63,151.90 L146.32,151.99 L147.02,152.07 L147.72,152.15 L148.41,152.22 L149.10,152.29 L149.80,152.35" stroke="#a01818" stroke-width="1.2" fill="none"/>
<path d="M128.25,148.28 L128.95,144.59 L129.37,146.88" stroke="#a01818" stroke-width="0.7" fill="none"/>
<rect x="91.0" y="118.4" width="64.30000000000001" height="45.69999999999999" fill="none" stroke="#222" stroke-width="0.95"/>
<line x1="91.0" y1="161.5" x2="92.5" y2="161.5" stroke="#222" stroke-width="0.5" />
<text x="90.8" y="163.0" font-size="4.3" text-anchor="end" fill="#222" font-weight="bold" font-family="'Liberation Sans', Arial, sans-serif"  stroke="#222" stroke-width="0.16">1.0</text>
<line x1="91.0" y1="146.25" x2="92.5" y2="146.25" stroke="#222" stroke-width="0.5" />
<text x="90.8" y="147.75" font-size="4.3" text-anchor="end" fill="#222" font-weight="bold" font-family="'Liberation Sans', Arial, sans-serif"  stroke="#222" stroke-width="0.16">1.2</text>
<line x1="91.0" y1="131.0" x2="92.5" y2="131.0" stroke="#222" stroke-width="0.5" />
<text x="90.8" y="132.5" font-size="4.3" text-anchor="end" fill="#222" font-weight="bold" font-family="'Liberation Sans', Arial, sans-serif"  stroke="#222" stroke-width="0.16">1.4</text>
<line x1="94.2" y1="164.1" x2="94.2" y2="162.6" stroke="#222" stroke-width="0.5" />
<text x="94.2" y="168.7" font-size="4.3" text-anchor="middle" fill="#222" font-weight="bold" font-family="'Liberation Sans', Arial, sans-serif"  stroke="#222" stroke-width="0.16">0</text>
<line x1="108.1" y1="164.1" x2="108.1" y2="162.6" stroke="#222" stroke-width="0.5" />
<text x="108.1" y="168.7" font-size="4.3" text-anchor="middle" fill="#222" font-weight="bold" font-family="'Liberation Sans', Arial, sans-serif"  stroke="#222" stroke-width="0.16">20</text>
<line x1="122.0" y1="164.1" x2="122.0" y2="162.6" stroke="#222" stroke-width="0.5" />
<text x="122.0" y="168.7" font-size="4.3" text-anchor="middle" fill="#222" font-weight="bold" font-family="'Liberation Sans', Arial, sans-serif"  stroke="#222" stroke-width="0.16">40</text>
<line x1="135.9" y1="164.1" x2="135.9" y2="162.6" stroke="#222" stroke-width="0.5" />
<text x="135.9" y="168.7" font-size="4.3" text-anchor="middle" fill="#222" font-weight="bold" font-family="'Liberation Sans', Arial, sans-serif"  stroke="#222" stroke-width="0.16">60</text>
<line x1="149.8" y1="164.1" x2="149.8" y2="162.6" stroke="#222" stroke-width="0.5" />
<text x="149.8" y="168.7" font-size="4.3" text-anchor="middle" fill="#222" font-weight="bold" font-family="'Liberation Sans', Arial, sans-serif"  stroke="#222" stroke-width="0.16">80</text>
<text x="123.0" y="173.7" font-size="5.6" text-anchor="middle" fill="#111" font-weight="bold" font-family="'Liberation Sans', Arial, sans-serif"  stroke="#111" stroke-width="0.16">Time(s)</text>
<text x="0" y="0" transform="translate(83.7,142.65) rotate(-90)" font-size="4.9" text-anchor="middle" font-weight="bold" fill="#111" font-family="'Liberation Sans', Arial, sans-serif" stroke="#111" stroke-width="0.16">PSC(nA)</text>
<text x="94.2" y="127.6" font-size="3.9" font-weight="bold" text-anchor="start" fill="#222" font-family="'Liberation Sans', Arial, sans-serif" stroke="#222" stroke-width="0.16">0.040 mW/cm<tspan font-size="2.6" dy="-1.4">2</tspan></text>
<text x="129.5" y="124.0" font-size="3.9" font-weight="bold" text-anchor="start" fill="#222" font-family="'Liberation Sans', Arial, sans-serif" stroke="#222" stroke-width="0.16">Mild&#160;&#160;optical</text>
<text x="129.5" y="129.6" font-size="3.9" font-weight="bold" text-anchor="start" fill="#222" font-family="'Liberation Sans', Arial, sans-serif" stroke="#222" stroke-width="0.16">stimuli</text>
<rect x="151.7" y="159.6" width="4.5" height="5.6" fill="#ffffff" />
<line x1="92.0" y1="201.6" x2="154.3" y2="201.6" stroke="#555" stroke-width="0.55" stroke-dasharray="1,1"/>
<polygon points="94.2,214.3755 94.895,213.16675861396615 95.59,211.9989614133189 96.285,210.8707660879987 96.98,209.7808743341041 97.675,208.72803041119835 98.37,207.71101974691288 99.065,206.7286675872977 99.76,205.77983769141827 100.455,204.86343106874867 101.15,203.97838475795794 101.845,203.12367064573257 102.54,202.29829432432265 103.235,201.501293986542 103.93,200.73173935699458 104.625,199.98873065833953 105.32000000000001,199.2713976114458 106.015,198.57889846832597 106.71000000000001,197.91041907677416 107.405,197.2651719756685 108.1,196.64239551993333 108.795,196.04135303418883 109.49000000000001,195.46133199414666 110.185,194.9016432348432 110.88,194.36162018482972 111.575,193.84061812546892 112.27000000000001,193.3380134745145 112.965,192.8532030931779 113.66,192.38560361591198 114.355,191.934650802167 115.05,191.49979890939886 115.745,191.08052008663208 116.44,190.67630378790454 117.135,190.28665620494166 117.83,189.9110997184297 118.525,189.5491723672785 119.22,189.20042733528393 119.915,188.86443245461928 120.61,188.54076972560452 121.305,188.22903485221917 122.0,187.9288367928428 122.695,187.6397973257241 123.39,187.36155062869582 124.08500000000001,187.09374287266778 124.78,186.83603182844712 125.475,186.5880864864485 126.17,186.3495866888716 126.86500000000001,186.12022277393712 127.56,185.89969523178655 128.255,185.68771437166242 128.95,185.484 128.95,191.04600000000002 128.255,191.33005437166244 127.56,191.62237523178655 126.86500000000001,191.92324277393712 126.17,192.23294668887158 125.475,192.5517864864485 124.78,192.88007182844711 124.08500000000001,193.21812287266778 123.39,193.5662706286958 122.695,193.9248573257241 122.0,194.29423679284275 121.305,194.67477485221917 120.61,195.06684972560453 119.915,195.47085245461926 119.22,195.88718733528393 118.525,196.31627236727851 117.83,196.7585397184297 117.135,197.21443620494165 116.44,197.68442378790454 115.745,198.16898008663208 115.05,198.66859890939887 114.355,199.183790802167 113.66,199.71508361591196 112.965,200.2630230931779 112.27000000000001,200.82817347451453 111.575,201.41111812546893 110.88,202.0124601848297 110.185,202.6328232348432 109.49000000000001,203.27285199414666 108.795,203.93321303418884 108.1,204.61459551993335 107.405,205.3177119756685 106.71000000000001,206.0432990767742 106.015,206.792118468326 105.32000000000001,207.5649576114458 104.625,208.36263065833953 103.93,209.1859793569946 103.235,210.03587398654201 102.54,210.91321432432267 101.845,211.8189306457326 101.15,212.75398475795794 100.455,213.71937106874867 99.76,214.7161176914183 99.065,215.7452875872977 98.37,216.80797974691288 97.675,217.90533041119835 96.98,219.03851433410412 96.285,220.20874608799872 95.59,221.4172814133189 94.895,222.66541861396615 94.2,223.95450000000002" fill="#f28080" />
<path d="M94.55,223.30 L94.72,213.77 M94.89,222.67 L95.07,213.17 M95.24,222.04 L95.42,212.58 M95.59,221.42 L95.76,212.00 M95.94,220.81 L96.11,211.43 M96.28,220.21 L96.46,210.87 M96.63,219.62 L96.81,210.32 M96.98,219.04 L97.15,209.78 M97.33,218.47 L97.50,209.25 M97.67,217.91 L97.85,208.73 M98.02,217.35 L98.20,208.22 M98.37,216.81 L98.54,207.71 M98.72,216.27 L98.89,207.22 M99.06,215.75 L99.24,206.73 M99.41,215.23 L99.59,206.25 M99.76,214.72 L99.93,205.78 M100.11,214.21 L100.28,205.32 M100.45,213.72 L100.63,204.86 M100.80,213.23 L100.98,204.42 M101.15,212.75 L101.32,203.98 M101.50,212.28 L101.67,203.55 M101.84,211.82 L102.02,203.12 M102.19,211.36 L102.37,202.71 M102.54,210.91 L102.71,202.30 M102.89,210.47 L103.06,201.90 M103.23,210.04 L103.41,201.50 M103.58,209.61 L103.76,201.11 M103.93,209.19 L104.10,200.73 M104.28,208.77 L104.45,200.36 M104.62,208.36 L104.80,199.99 M104.97,207.96 L105.15,199.63 M105.32,207.56 L105.49,199.27 M105.67,207.18 L105.84,198.92 M106.02,206.79 L106.19,198.58 M106.36,206.41 L106.54,198.24 M106.71,206.04 L106.88,197.91 M107.06,205.68 L107.23,197.58 M107.41,205.32 L107.58,197.27 M107.75,204.96 L107.93,196.95 M108.10,204.61 L108.27,196.64 M108.45,204.27 L108.62,196.34 M108.80,203.93 L108.97,196.04 M109.14,203.60 L109.32,195.75 M109.49,203.27 L109.66,195.46 M109.84,202.95 L110.01,195.18 M110.19,202.63 L110.36,194.90 M110.53,202.32 L110.71,194.63 M110.88,202.01 L111.05,194.36 M111.23,201.71 L111.40,194.10 M111.58,201.41 L111.75,193.84 M111.92,201.12 L112.10,193.59 M112.27,200.83 L112.44,193.34 M112.62,200.54 L112.79,193.09 M112.97,200.26 L113.14,192.85 M113.31,199.99 L113.49,192.62 M113.66,199.72 L113.83,192.39 M114.01,199.45 L114.18,192.16 M114.36,199.18 L114.53,191.93 M114.70,198.92 L114.88,191.72 M115.05,198.67 L115.22,191.50 M115.40,198.42 L115.57,191.29 M115.75,198.17 L115.92,191.08 M116.09,197.92 L116.27,190.88 M116.44,197.68 L116.61,190.68 M116.79,197.45 L116.96,190.48 M117.14,197.21 L117.31,190.29 M117.48,196.98 L117.66,190.10 M117.83,196.76 L118.00,189.91 M118.18,196.54 L118.35,189.73 M118.53,196.32 L118.70,189.55 M118.87,196.10 L119.05,189.37 M119.22,195.89 L119.39,189.20 M119.57,195.68 L119.74,189.03 M119.92,195.47 L120.09,188.86 M120.26,195.27 L120.44,188.70 M120.61,195.07 L120.78,188.54 M120.96,194.87 L121.13,188.38 M121.31,194.67 L121.48,188.23 M121.65,194.48 L121.83,188.08 M122.00,194.29 L122.17,187.93 M122.35,194.11 L122.52,187.78 M122.69,193.92 L122.87,187.64 M123.04,193.74 L123.22,187.50 M123.39,193.57 L123.56,187.36 M123.74,193.39 L123.91,187.23 M124.09,193.22 L124.26,187.09 M124.43,193.05 L124.61,186.96 M124.78,192.88 L124.95,186.84 M125.13,192.71 L125.30,186.71 M125.47,192.55 L125.65,186.59 M125.82,192.39 L126.00,186.47 M126.17,192.23 L126.34,186.35 M126.52,192.08 L126.69,186.23 M126.87,191.92 L127.04,186.12 M127.21,191.77 L127.39,186.01 M127.56,191.62 L127.73,185.90 M127.91,191.48 L128.08,185.79 M128.25,191.33 L128.43,185.69 M128.60,191.19 L128.78,185.58 M128.95,191.05 L129.12,185.48" stroke="#ee6060" stroke-width="0.3" fill="none" opacity="0.8"/>
<path d="M128.95,186.60 L129.65,187.30 L130.34,187.95 L131.03,188.57 L131.73,189.15 L132.43,189.70 L133.12,190.21 L133.81,190.69 L134.51,191.14 L135.20,191.57 L135.90,191.96 L136.59,192.34 L137.29,192.69 L137.99,193.02 L138.68,193.33 L139.38,193.62 L140.07,193.90 L140.76,194.16 L141.46,194.40 L142.16,194.62 L142.85,194.84 L143.55,195.04 L144.24,195.23 L144.94,195.40 L145.63,195.57 L146.32,195.73 L147.02,195.87 L147.72,196.01 L148.41,196.14 L149.10,196.26 L149.80,196.38" stroke="#ee5a5a" stroke-width="0.9" fill="none"/>
<path d="M128.25,188.51 L128.95,184.28 L129.37,186.60" stroke="#ee5a5a" stroke-width="0.7" fill="none"/>
<rect x="91.0" y="179.2" width="64.30000000000001" height="46.900000000000006" fill="none" stroke="#222" stroke-width="0.95"/>
<line x1="91.0" y1="223.8" x2="92.5" y2="223.8" stroke="#222" stroke-width="0.5" />
<text x="90.8" y="225.3" font-size="4.3" text-anchor="end" fill="#222" font-weight="bold" font-family="'Liberation Sans', Arial, sans-serif"  stroke="#222" stroke-width="0.16">1.0</text>
<line x1="91.0" y1="208.35000000000002" x2="92.5" y2="208.35000000000002" stroke="#222" stroke-width="0.5" />
<text x="90.8" y="209.85000000000002" font-size="4.3" text-anchor="end" fill="#222" font-weight="bold" font-family="'Liberation Sans', Arial, sans-serif"  stroke="#222" stroke-width="0.16">1.2</text>
<line x1="91.0" y1="192.9" x2="92.5" y2="192.9" stroke="#222" stroke-width="0.5" />
<text x="90.8" y="194.4" font-size="4.3" text-anchor="end" fill="#222" font-weight="bold" font-family="'Liberation Sans', Arial, sans-serif"  stroke="#222" stroke-width="0.16">1.4</text>
<line x1="94.2" y1="226.1" x2="94.2" y2="224.6" stroke="#222" stroke-width="0.5" />
<text x="94.2" y="230.7" font-size="4.3" text-anchor="middle" fill="#222" font-weight="bold" font-family="'Liberation Sans', Arial, sans-serif"  stroke="#222" stroke-width="0.16">0</text>
<line x1="108.1" y1="226.1" x2="108.1" y2="224.6" stroke="#222" stroke-width="0.5" />
<text x="108.1" y="230.7" font-size="4.3" text-anchor="middle" fill="#222" font-weight="bold" font-family="'Liberation Sans', Arial, sans-serif"  stroke="#222" stroke-width="0.16">20</text>
<line x1="122.0" y1="226.1" x2="122.0" y2="224.6" stroke="#222" stroke-width="0.5" />
<text x="122.0" y="230.7" font-size="4.3" text-anchor="middle" fill="#222" font-weight="bold" font-family="'Liberation Sans', Arial, sans-serif"  stroke="#222" stroke-width="0.16">40</text>
<line x1="135.9" y1="226.1" x2="135.9" y2="224.6" stroke="#222" stroke-width="0.5" />
<text x="135.9" y="230.7" font-size="4.3" text-anchor="middle" fill="#222" font-weight="bold" font-family="'Liberation Sans', Arial, sans-serif"  stroke="#222" stroke-width="0.16">60</text>
<line x1="149.8" y1="226.1" x2="149.8" y2="224.6" stroke="#222" stroke-width="0.5" />
<text x="149.8" y="230.7" font-size="4.3" text-anchor="middle" fill="#222" font-weight="bold" font-family="'Liberation Sans', Arial, sans-serif"  stroke="#222" stroke-width="0.16">80</text>
<text x="123.0" y="235.7" font-size="5.6" text-anchor="middle" fill="#111" font-weight="bold" font-family="'Liberation Sans', Arial, sans-serif"  stroke="#111" stroke-width="0.16">Time(s)</text>
<text x="0" y="0" transform="translate(83.7,204.04999999999998) rotate(-90)" font-size="4.9" text-anchor="middle" font-weight="bold" fill="#111" font-family="'Liberation Sans', Arial, sans-serif" stroke="#111" stroke-width="0.16">PSC(nA)</text>
<text x="94.2" y="188.0" font-size="3.9" font-weight="bold" text-anchor="start" fill="#222" font-family="'Liberation Sans', Arial, sans-serif" stroke="#222" stroke-width="0.16">0.061 mW/cm<tspan font-size="2.6" dy="-1.4">2</tspan></text>
<text x="124.7" y="217.0" font-size="3.9" font-weight="bold" text-anchor="start" fill="#222" font-family="'Liberation Sans', Arial, sans-serif" stroke="#222" stroke-width="0.16">Strong&#160;&#160;optical</text>
<text x="124.7" y="222.6" font-size="3.9" font-weight="bold" text-anchor="start" fill="#222" font-family="'Liberation Sans', Arial, sans-serif" stroke="#222" stroke-width="0.16">stimuli</text>
<line x1="92.0" y1="266.5" x2="154.3" y2="266.5" stroke="#555" stroke-width="0.55" stroke-dasharray="1,1"/>
<polygon points="94.2,285.0105 94.895,284.2471039780063 95.59,283.5054717364118 96.285,282.7849902520943 96.98,282.0850637690305 97.675,281.4051133119313 98.37,280.74457621357703 99.065,280.1029056554659 99.76,279.4795702214012 100.455,278.8740534636526 101.15,278.2858534813376 101.845,277.7144825106785 102.54,277.15946652680094 103.235,276.6203448567483 103.93,276.09666980339705 104.625,275.588006279964 105.32000000000001,275.0939314548101 106.015,274.61403440624787 106.71000000000001,274.1479157870722 107.405,273.6951874985408 108.1,273.2554723735369 108.795,272.82840386865746 109.49000000000001,272.4136257649728 110.185,272.01079187721666 110.88,271.6195657711663 111.575,271.239620488984 112.27000000000001,270.87063828229384 112.965,270.5123103527787 113.66,270.16433660008175 114.355,269.82642537681073 115.05,269.49829325044175 115.745,269.1796647719304 116.44,268.8702722508398 117.135,268.56985553680295 117.83,268.2781618071411 118.525,267.99494536046313 119.22,267.71996741607995 119.915,267.45299591906775 120.61,267.193805350823 121.305,266.94217654495276 122.0,266.69789650835116 122.695,266.46075824731594 123.39,266.2305605985622 124.08500000000001,266.00710806499643 124.78,265.7902106561163 125.475,265.57968373290555 126.17,265.37534785709823 126.86500000000001,265.17702864468845 127.56,264.98455662356645 128.255,264.7977670951645 128.95,264.6165 128.95,268.63349999999997 128.255,268.83330709516446 127.56,269.03863662356645 126.86500000000001,269.2496486446885 126.17,269.46650785709824 125.475,269.6893837329055 124.78,269.9184506561163 124.08500000000001,270.15388806499647 123.39,270.3958805985622 122.695,270.6446182473159 122.0,270.9002965083512 121.305,271.16311654495274 120.61,271.43328535082304 119.915,271.71101591906773 119.22,271.9965274160799 118.525,272.2900453604631 117.83,272.5918018071411 117.135,272.902035536803 116.44,273.22099225083974 115.745,273.5489247719304 115.05,273.8860932504418 114.355,274.23276537681073 113.66,274.5892166000817 112.965,274.9557303527787 112.27000000000001,275.3325982822939 111.575,275.7201204889839 110.88,276.11860577116636 110.185,276.52837187721667 109.49000000000001,276.9497457649728 108.795,277.3830638686574 108.1,277.82867237353696 107.405,278.28692749854076 106.71000000000001,278.7581957870722 106.015,279.2428544062479 105.32000000000001,279.74129145481015 104.625,280.253906279964 103.93,280.78110980339704 103.235,281.32332485674834 102.54,281.8809865268009 101.845,282.4545425106785 101.15,283.0444534813376 100.455,283.6511934636526 99.76,284.2752502214012 99.065,284.9171256554659 98.37,285.57733621357704 97.675,286.2564133119313 96.98,286.9549037690305 96.285,287.67337025209434 95.59,288.4123917364118 94.895,289.1725639780063 94.2,289.9545" fill="#f6baba" />
<path d="M94.55,289.56 L94.72,284.63 M94.89,289.17 L95.07,284.25 M95.24,288.79 L95.42,283.87 M95.59,288.41 L95.76,283.51 M95.94,288.04 L96.11,283.14 M96.28,287.67 L96.46,282.78 M96.63,287.31 L96.81,282.43 M96.98,286.95 L97.15,282.09 M97.33,286.60 L97.50,281.74 M97.67,286.26 L97.85,281.41 M98.02,285.91 L98.20,281.07 M98.37,285.58 L98.54,280.74 M98.72,285.24 L98.89,280.42 M99.06,284.92 L99.24,280.10 M99.41,284.59 L99.59,279.79 M99.76,284.28 L99.93,279.48 M100.11,283.96 L100.28,279.17 M100.45,283.65 L100.63,278.87 M100.80,283.35 L100.98,278.58 M101.15,283.04 L101.32,278.29 M101.50,282.75 L101.67,278.00 M101.84,282.45 L102.02,277.71 M102.19,282.17 L102.37,277.43 M102.54,281.88 L102.71,277.16 M102.89,281.60 L103.06,276.89 M103.23,281.32 L103.41,276.62 M103.58,281.05 L103.76,276.36 M103.93,280.78 L104.10,276.10 M104.28,280.52 L104.45,275.84 M104.62,280.25 L104.80,275.59 M104.97,280.00 L105.15,275.34 M105.32,279.74 L105.49,275.09 M105.67,279.49 L105.84,274.85 M106.02,279.24 L106.19,274.61 M106.36,279.00 L106.54,274.38 M106.71,278.76 L106.88,274.15 M107.06,278.52 L107.23,273.92 M107.41,278.29 L107.58,273.70 M107.75,278.06 L107.93,273.47 M108.10,277.83 L108.27,273.26 M108.45,277.60 L108.62,273.04 M108.80,277.38 L108.97,272.83 M109.14,277.16 L109.32,272.62 M109.49,276.95 L109.66,272.41 M109.84,276.74 L110.01,272.21 M110.19,276.53 L110.36,272.01 M110.53,276.32 L110.71,271.81 M110.88,276.12 L111.05,271.62 M111.23,275.92 L111.40,271.43 M111.58,275.72 L111.75,271.24 M111.92,275.53 L112.10,271.05 M112.27,275.33 L112.44,270.87 M112.62,275.14 L112.79,270.69 M112.97,274.96 L113.14,270.51 M113.31,274.77 L113.49,270.34 M113.66,274.59 L113.83,270.16 M114.01,274.41 L114.18,269.99 M114.36,274.23 L114.53,269.83 M114.70,274.06 L114.88,269.66 M115.05,273.89 L115.22,269.50 M115.40,273.72 L115.57,269.34 M115.75,273.55 L115.92,269.18 M116.09,273.38 L116.27,269.02 M116.44,273.22 L116.61,268.87 M116.79,273.06 L116.96,268.72 M117.14,272.90 L117.31,268.57 M117.48,272.75 L117.66,268.42 M117.83,272.59 L118.00,268.28 M118.18,272.44 L118.35,268.14 M118.53,272.29 L118.70,267.99 M118.87,272.14 L119.05,267.86 M119.22,272.00 L119.39,267.72 M119.57,271.85 L119.74,267.59 M119.92,271.71 L120.09,267.45 M120.26,271.57 L120.44,267.32 M120.61,271.43 L120.78,267.19 M120.96,271.30 L121.13,267.07 M121.31,271.16 L121.48,266.94 M121.65,271.03 L121.83,266.82 M122.00,270.90 L122.17,266.70 M122.35,270.77 L122.52,266.58 M122.69,270.64 L122.87,266.46 M123.04,270.52 L123.22,266.34 M123.39,270.40 L123.56,266.23 M123.74,270.27 L123.91,266.12 M124.09,270.15 L124.26,266.01 M124.43,270.04 L124.61,265.90 M124.78,269.92 L124.95,265.79 M125.13,269.80 L125.30,265.68 M125.47,269.69 L125.65,265.58 M125.82,269.58 L126.00,265.48 M126.17,269.47 L126.34,265.38 M126.52,269.36 L126.69,265.28 M126.87,269.25 L127.04,265.18 M127.21,269.14 L127.39,265.08 M127.56,269.04 L127.73,264.98 M127.91,268.94 L128.08,264.89 M128.25,268.83 L128.43,264.80 M128.60,268.73 L128.78,264.71 M128.95,268.63 L129.12,264.62" stroke="#f2a0a0" stroke-width="0.3" fill="none" opacity="0.8"/>
<path d="M128.95,265.42 L129.65,265.95 L130.34,266.44 L131.03,266.91 L131.73,267.35 L132.43,267.76 L133.12,268.15 L133.81,268.51 L134.51,268.85 L135.20,269.17 L135.90,269.47 L136.59,269.76 L137.29,270.02 L137.99,270.27 L138.68,270.51 L139.38,270.73 L140.07,270.93 L140.76,271.13 L141.46,271.31 L142.16,271.48 L142.85,271.64 L143.55,271.79 L144.24,271.94 L144.94,272.07 L145.63,272.20 L146.32,272.31 L147.02,272.43 L147.72,272.53 L148.41,272.63 L149.10,272.72 L149.80,272.81" stroke="#f0a8a8" stroke-width="0.9" fill="none"/>
<path d="M128.25,266.82 L128.95,263.10 L129.37,265.42" stroke="#f0a8a8" stroke-width="0.7" fill="none"/>
<rect x="91.0" y="246.3" width="64.30000000000001" height="46.89999999999998" fill="none" stroke="#222" stroke-width="0.95"/>
<line x1="91.0" y1="289.8" x2="92.5" y2="289.8" stroke="#222" stroke-width="0.5" />
<text x="90.8" y="291.3" font-size="4.3" text-anchor="end" fill="#222" font-weight="bold" font-family="'Liberation Sans', Arial, sans-serif"  stroke="#222" stroke-width="0.16">1.0</text>
<line x1="91.0" y1="274.35" x2="92.5" y2="274.35" stroke="#222" stroke-width="0.5" />
<text x="90.8" y="275.85" font-size="4.3" text-anchor="end" fill="#222" font-weight="bold" font-family="'Liberation Sans', Arial, sans-serif"  stroke="#222" stroke-width="0.16">1.2</text>
<line x1="91.0" y1="258.9" x2="92.5" y2="258.9" stroke="#222" stroke-width="0.5" />
<text x="90.8" y="260.4" font-size="4.3" text-anchor="end" fill="#222" font-weight="bold" font-family="'Liberation Sans', Arial, sans-serif"  stroke="#222" stroke-width="0.16">1.4</text>
<line x1="94.2" y1="293.2" x2="94.2" y2="291.7" stroke="#222" stroke-width="0.5" />
<text x="94.2" y="297.8" font-size="4.3" text-anchor="middle" fill="#222" font-weight="bold" font-family="'Liberation Sans', Arial, sans-serif"  stroke="#222" stroke-width="0.16">0</text>
<line x1="108.1" y1="293.2" x2="108.1" y2="291.7" stroke="#222" stroke-width="0.5" />
<text x="108.1" y="297.8" font-size="4.3" text-anchor="middle" fill="#222" font-weight="bold" font-family="'Liberation Sans', Arial, sans-serif"  stroke="#222" stroke-width="0.16">20</text>
<line x1="122.0" y1="293.2" x2="122.0" y2="291.7" stroke="#222" stroke-width="0.5" />
<text x="122.0" y="297.8" font-size="4.3" text-anchor="middle" fill="#222" font-weight="bold" font-family="'Liberation Sans', Arial, sans-serif"  stroke="#222" stroke-width="0.16">40</text>
<line x1="135.9" y1="293.2" x2="135.9" y2="291.7" stroke="#222" stroke-width="0.5" />
<text x="135.9" y="297.8" font-size="4.3" text-anchor="middle" fill="#222" font-weight="bold" font-family="'Liberation Sans', Arial, sans-serif"  stroke="#222" stroke-width="0.16">60</text>
<line x1="149.8" y1="293.2" x2="149.8" y2="291.7" stroke="#222" stroke-width="0.5" />
<text x="149.8" y="297.8" font-size="4.3" text-anchor="middle" fill="#222" font-weight="bold" font-family="'Liberation Sans', Arial, sans-serif"  stroke="#222" stroke-width="0.16">80</text>
<text x="123.0" y="302.8" font-size="5.6" text-anchor="middle" fill="#111" font-weight="bold" font-family="'Liberation Sans', Arial, sans-serif"  stroke="#111" stroke-width="0.16">Time(s)</text>
<text x="0" y="0" transform="translate(83.7,271.15) rotate(-90)" font-size="4.9" text-anchor="middle" font-weight="bold" fill="#111" font-family="'Liberation Sans', Arial, sans-serif" stroke="#111" stroke-width="0.16">PSC(nA)</text>
<text x="93.5" y="252.0" font-size="3.9" font-weight="bold" text-anchor="start" fill="#222" font-family="'Liberation Sans', Arial, sans-serif" stroke="#222" stroke-width="0.16">Strong&#160;&#160;optical</text>
<text x="108.2" y="256.2" font-size="4.2" font-weight="bold" text-anchor="middle" fill="#222" font-family="'Liberation Sans', Arial, sans-serif" stroke="#222" stroke-width="0.16">+</text>
<text x="93.5" y="261.8" font-size="3.9" font-weight="bold" text-anchor="start" fill="#222" font-family="'Liberation Sans', Arial, sans-serif" stroke="#222" stroke-width="0.16">electric&#160;&#160;stimuli</text>
<text x="125.0" y="252.0" font-size="3.9" font-weight="bold" text-anchor="start" fill="#222" font-family="'Liberation Sans', Arial, sans-serif" stroke="#222" stroke-width="0.16">0.061 mW/cm<tspan font-size="2.6" dy="-1.4">2</tspan></text>
<text x="139.6" y="256.2" font-size="4.2" font-weight="bold" text-anchor="middle" fill="#222" font-family="'Liberation Sans', Arial, sans-serif" stroke="#222" stroke-width="0.16">+</text>
<text x="135.2" y="261.8" font-size="3.9" font-weight="bold" text-anchor="start" fill="#222" font-family="'Liberation Sans', Arial, sans-serif" stroke="#222" stroke-width="0.16">-1 V</text>
<mask id="mCres1"><rect x="150" y="110" width="35" height="30" fill="#fff"/><circle cx="165.2" cy="124.0" r="3.9" fill="#000"/></mask>
<mask id="mCres3"><rect x="150" y="240" width="35" height="30" fill="#fff"/><circle cx="163.4" cy="251.6" r="4.0" fill="#000"/></mask>
<linearGradient id="gSun1" x1="0" y1="0" x2="0" y2="1"><stop offset="0" stop-color="#f8d030"/><stop offset="1" stop-color="#f08a10"/></linearGradient>
<line x1="172.905220828229" y1="127.05043336396483" x2="175.00696110430533" y2="127.70057781861978" stroke="#f2c8a0" stroke-width="0.9" />
<line x1="169.67929974660734" y1="130.9376290624314" x2="170.70573299547647" y2="132.88350541657522" stroke="#f2c8a0" stroke-width="0.9" />
<line x1="164.64956663603516" y1="131.405220828229" x2="163.9994221813802" y2="133.50696110430533" stroke="#f2c8a0" stroke-width="0.9" />
<line x1="160.7623709375686" y1="128.17929974660734" x2="158.81649458342477" y2="129.20573299547647" stroke="#f2c8a0" stroke-width="0.9" />
<line x1="160.29477917177098" y1="123.14956663603516" x2="158.19303889569466" y2="122.49942218138021" stroke="#f2c8a0" stroke-width="0.9" />
<line x1="163.52070025339265" y1="119.26237093756858" x2="162.49426700452352" y2="117.31649458342477" stroke="#f2c8a0" stroke-width="0.9" />
<line x1="168.55043336396483" y1="118.794779171771" x2="169.2005778186198" y2="116.69303889569466" stroke="#f2c8a0" stroke-width="0.9" />
<line x1="172.4376290624314" y1="122.02070025339263" x2="174.38350541657522" y2="120.99426700452352" stroke="#f2c8a0" stroke-width="0.9" />
<circle cx="166.6" cy="125.1" r="4.6" fill="url(#gSun1)" mask="url(#mCres1)"/>
<line x1="172.0962881260541" y1="185.4095374052971" x2="174.10249475321788" y2="186.03012983928593" stroke="#f4a878" stroke-width="0.9" />
<line x1="168.7726118601409" y1="189.41452691280813" x2="169.75238905224325" y2="191.27195434176357" stroke="#f4a878" stroke-width="0.9" />
<line x1="163.5904625947029" y1="189.89628812605412" x2="162.96987016071407" y2="191.9024947532179" stroke="#f4a878" stroke-width="0.9" />
<line x1="159.58547308719187" y1="186.5726118601409" x2="157.72804565823643" y2="187.55238905224326" stroke="#f4a878" stroke-width="0.9" />
<line x1="159.10371187394588" y1="181.3904625947029" x2="157.0975052467821" y2="180.76987016071408" stroke="#f4a878" stroke-width="0.9" />
<line x1="162.4273881398591" y1="177.38547308719188" x2="161.44761094775674" y2="175.52804565823644" stroke="#f4a878" stroke-width="0.9" />
<line x1="167.6095374052971" y1="176.9037118739459" x2="168.23012983928592" y2="174.89750524678212" stroke="#f4a878" stroke-width="0.9" />
<line x1="171.61452691280812" y1="180.2273881398591" x2="173.47195434176356" y2="179.24761094775675" stroke="#f4a878" stroke-width="0.9" />
<circle cx="165.6" cy="183.4" r="4.8" fill="#f40808"/>
<line x1="173.0962881260541" y1="257.80953740529714" x2="175.10249475321788" y2="258.43012983928594" stroke="#f4a878" stroke-width="0.9" />
<line x1="169.7726118601409" y1="261.81452691280816" x2="170.75238905224325" y2="263.6719543417636" stroke="#f4a878" stroke-width="0.9" />
<line x1="164.5904625947029" y1="262.29628812605415" x2="163.96987016071407" y2="264.3024947532179" stroke="#f4a878" stroke-width="0.9" />
<line x1="160.58547308719187" y1="258.97261186014094" x2="158.72804565823643" y2="259.9523890522433" stroke="#f4a878" stroke-width="0.9" />
<line x1="160.10371187394588" y1="253.79046259470292" x2="158.0975052467821" y2="253.16987016071408" stroke="#f4a878" stroke-width="0.9" />
<line x1="163.4273881398591" y1="249.7854730871919" x2="162.44761094775674" y2="247.92804565823644" stroke="#f4a878" stroke-width="0.9" />
<line x1="168.6095374052971" y1="249.3037118739459" x2="169.23012983928592" y2="247.29750524678212" stroke="#f4a878" stroke-width="0.9" />
<line x1="172.61452691280812" y1="252.6273881398591" x2="174.47195434176356" y2="251.64761094775676" stroke="#f4a878" stroke-width="0.9" />
<circle cx="166.6" cy="255.8" r="5.0" fill="#f00808" mask="url(#mCres3)"/>
<polygon points="172.7,124.7 219.2,124.2 219.2,137.6 172.7,129.6" fill="url(#gBeamY)" />
<polygon points="173.3,183.7 219.2,181.6 219.2,199.0 173.3,189.6" fill="url(#gBeamR)" />
<polygon points="173.3,256.1 219.2,255.0 219.2,269.4 173.3,261.6" fill="url(#gBeamR)" />
<text x="190.6" y="144.0" font-size="4.9" text-anchor="middle" fill="#222" font-weight="bold" font-family="'Liberation Sans', Arial, sans-serif"  stroke="#222" stroke-width="0.16">Mild</text>
<text x="190.6" y="150.3" font-size="4.9" text-anchor="middle" fill="#222" font-weight="bold" font-family="'Liberation Sans', Arial, sans-serif"  stroke="#222" stroke-width="0.16">illumination</text>
<text x="191.8" y="205.2" font-size="4.9" text-anchor="middle" fill="#222" font-weight="bold" font-family="'Liberation Sans', Arial, sans-serif"  stroke="#222" stroke-width="0.16">Dazzling</text>
<text x="191.8" y="211.8" font-size="4.9" text-anchor="middle" fill="#222" font-weight="bold" font-family="'Liberation Sans', Arial, sans-serif"  stroke="#222" stroke-width="0.16">illumination</text>
<text x="192.0" y="279.4" font-size="4.9" text-anchor="middle" fill="#222" font-weight="bold" font-family="'Liberation Sans', Arial, sans-serif"  stroke="#222" stroke-width="0.16">Dazzling</text>
<text x="192.0" y="285.6" font-size="4.9" text-anchor="middle" fill="#222" font-weight="bold" font-family="'Liberation Sans', Arial, sans-serif"  stroke="#222" stroke-width="0.16">illumination</text>
<path d="M221.50,133.40 C222.50,124.40 230.50,121.40 237.50,122.40 C243.50,123.40 246.50,129.40 244.50,139.40 C240.50,141.40 234.50,141.40 228.50,140.40 C224.50,139.40 221.50,137.40 221.50,133.40 Z" fill="#dcdcdc" stroke="#a0a0a0" stroke-width="0.4"/>
<path d="M237.49,131.90 q-1.23,1.86 -2.46,-0.47 M225.31,131.42 q1.55,1.17 3.10,0.19 M227.17,129.02 q-0.43,1.21 -0.87,-0.21 M234.51,138.02 q0.21,-0.66 0.41,0.49 M242.41,127.86 q0.24,1.29 0.48,0.32 M243.21,129.73 q0.07,-1.92 0.14,-0.25 M239.08,131.77 q0.76,0.73 1.51,-0.39 M240.54,125.95 q-0.03,1.24 -0.06,0.46 M225.85,133.33 q0.88,-0.79 1.75,0.89 M236.28,139.12 q-0.48,-1.16 -0.96,-0.64 M234.24,127.95 q0.14,-0.53 0.29,0.26 M231.48,124.57 q-0.43,1.77 -0.87,-0.17 M236.91,135.90 q-1.14,0.72 -2.28,0.13 M237.75,124.28 q-1.73,1.94 -3.46,-0.80 M237.19,127.41 q1.93,-1.18 3.86,0.44 M242.52,139.86 q-1.93,-0.27 -3.87,0.53 M233.33,139.75 q-0.52,0.49 -1.04,0.84 M230.84,135.41 q-1.29,-0.30 -2.58,0.71 M233.02,133.28 q-1.16,0.26 -2.32,-0.25 M236.27,133.20 q1.66,-1.22 3.32,-0.86 M241.61,134.06 q1.80,-1.23 3.60,0.96 M226.62,138.16 q-0.69,1.64 -1.38,0.32 M226.21,128.98 q-1.30,-1.50 -2.61,0.32 M235.94,138.12 q0.83,-1.67 1.66,-0.52 M239.04,132.87 q0.91,-1.71 1.83,0.38 M233.77,130.35 q0.33,0.20 0.66,-0.65 M242.45,132.86 q0.50,1.22 1.00,0.68 M236.11,134.45 q-1.43,-1.52 -2.87,-0.85 M231.66,127.55 q-0.78,0.18 -1.56,-0.19 M234.59,138.28 q-0.37,1.36 -0.74,0.57 M229.78,135.98 q-1.67,-0.19 -3.34,-0.85 M238.44,130.94 q1.10,-1.24 2.21,0.42 M238.90,129.06 q0.63,1.49 1.25,0.90 M237.14,138.62 q0.65,-1.44 1.29,-0.55 M237.76,125.34 q-0.66,-1.78 -1.33,0.06 M224.58,131.39 q-1.24,-1.21 -2.48,-0.61 M232.64,124.08 q-1.31,-1.28 -2.63,0.47 M240.32,135.52 q-1.18,1.82 -2.35,-0.37 M225.72,127.76 q-0.39,0.60 -0.78,-0.60 M228.27,129.69 q-0.52,0.37 -1.05,-0.40 M229.00,128.96 q-1.88,-1.27 -3.76,0.35 M229.81,137.26 q1.56,0.33 3.12,0.42 M240.70,139.17 q-0.67,0.91 -1.35,0.88 M243.29,125.82 q-0.87,1.18 -1.74,0.73 M237.89,130.37 q-0.02,-1.97 -0.04,-0.00 M234.12,125.64 q1.99,0.65 3.97,-0.45 M239.67,128.86 q1.39,-1.41 2.78,-0.89 M239.34,138.23 q0.57,1.18 1.14,0.51 M239.29,124.38 q-1.32,-0.88 -2.63,-0.09 M239.60,128.67 q-1.09,0.02 -2.19,-0.63 M230.45,135.41 q0.95,0.93 1.89,0.46 M226.81,130.73 q1.12,-0.64 2.24,-0.78 M241.54,134.43 q-1.28,-0.93 -2.55,0.04 M232.24,128.76 q-1.27,0.89 -2.54,0.91 M236.89,126.19 q-1.11,1.66 -2.21,-0.01 M243.28,130.82 q0.14,-0.31 0.28,0.76 M231.45,126.24 q-0.01,-0.19 -0.01,0.31 M242.16,135.21 q-1.61,-1.26 -3.21,-0.16 M226.97,130.72 q0.57,-1.66 1.14,-0.39 M240.45,134.06 q-0.60,1.06 -1.21,-0.46 M227.16,125.39 q0.35,0.17 0.70,-0.15 M230.85,125.27 q0.21,0.96 0.42,0.25 M242.21,132.34 q0.43,0.92 0.85,0.55 M224.03,135.10 q0.67,0.74 1.34,-0.75 M223.58,134.77 q0.78,-1.51 1.55,0.95 M232.94,134.58 q-1.55,0.33 -3.11,-0.72 M230.54,133.55 q1.63,0.41 3.26,-0.43" stroke="#8e8e8e" stroke-width="0.38" fill="none"/>
<path d="M237.50,138.40 C241.50,136.40 245.50,137.40 244.50,141.40 C241.50,142.40 238.50,141.40 237.50,138.40 Z" fill="#a8a8a8"/>
<path d="M220.00,133.40 C220.50,124.40 226.50,119.40 234.50,119.40 C242.50,119.40 246.50,126.40 246.00,135.40 C245.50,141.40 243.50,145.40 242.50,148.40 " stroke="#8a8a8a" stroke-width="0.5" fill="none"/>
<path d="M220.00,133.40 C220.00,135.40 221.00,135.90 220.00,137.40 C218.50,140.40 215.00,142.90 214.50,144.40 C215.00,145.40 216.50,145.40 216.50,145.90 C216.00,147.40 216.70,147.90 216.30,148.90 C216.00,149.90 216.90,150.40 216.70,151.40 C216.50,153.40 217.50,155.40 219.50,155.90 C222.50,156.40 225.50,156.90 227.50,158.40 L231.00,163.40" stroke="#8a8a8a" stroke-width="0.5" fill="none"/>
<path d="M239.50,145.40 C239.50,150.40 240.50,153.40 242.50,156.40" stroke="#9a9a9a" stroke-width="0.45" fill="none"/>
<path d="M229.50,142.40 c1.50,-1.00 3.00,1.00 1.50,3.00" stroke="#aaa" stroke-width="0.4" fill="none"/>
<ellipse cx="220.70" cy="136.90" rx="1.10" ry="0.80" fill="#5aa0e0"/>
<path d="M221.61,193.27 C222.64,184.00 230.88,180.91 238.09,181.94 C244.27,182.97 247.36,189.15 245.30,199.45 C241.18,201.51 235.00,201.51 228.82,200.48 C224.70,199.45 221.61,197.39 221.61,193.27 Z" fill="#dcdcdc" stroke="#a0a0a0" stroke-width="0.4"/>
<path d="M243.63,199.35 q-1.08,1.88 -2.16,-0.81 M237.50,192.11 q1.72,-0.65 3.43,-0.39 M238.64,186.17 q1.66,-1.42 3.33,-0.69 M240.58,188.41 q-2.01,-1.10 -4.02,-0.38 M240.16,185.73 q1.09,-0.30 2.18,-0.05 M227.82,193.27 q1.65,1.40 3.31,-0.81 M228.06,188.64 q1.65,-0.52 3.31,0.84 M235.34,187.06 q-0.51,1.08 -1.02,0.39 M234.92,195.49 q1.12,-0.16 2.25,-0.80 M230.28,195.93 q1.71,-1.32 3.42,-0.48 M227.54,184.78 q0.54,0.32 1.09,0.85 M234.07,197.06 q-0.13,-1.83 -0.27,0.14 M232.39,197.71 q0.42,-0.52 0.83,-0.35 M242.34,191.62 q0.54,-0.93 1.09,0.67 M240.96,196.57 q-0.12,-1.30 -0.23,0.72 M236.08,189.89 q-1.76,0.27 -3.51,-0.74 M230.90,184.43 q-0.89,-0.01 -1.78,-0.47 M227.88,194.57 q-0.44,1.78 -0.88,-1.02 M241.73,198.62 q-1.87,1.21 -3.74,0.11 M232.30,195.04 q1.01,-0.01 2.01,-0.76 M233.33,189.45 q-0.65,1.08 -1.30,0.40 M225.58,197.39 q-0.82,-1.94 -1.64,-0.56 M229.71,188.22 q0.23,-0.44 0.46,-0.64 M238.23,186.19 q0.81,0.97 1.63,0.47 M230.71,183.64 q-0.69,1.02 -1.37,-0.88 M233.18,188.07 q0.30,-0.43 0.61,0.80 M238.44,197.35 q-1.20,-1.24 -2.40,-0.66 M225.76,184.86 q1.37,-0.81 2.75,0.50 M243.91,192.22 q-1.10,-1.44 -2.21,0.54 M235.45,193.67 q-0.61,-0.45 -1.22,-0.10 M227.30,189.92 q0.48,0.21 0.95,-0.63 M236.03,190.29 q1.36,-0.38 2.72,-0.67 M228.35,195.94 q1.84,-1.26 3.67,-0.95 M225.00,189.69 q0.57,-1.94 1.14,0.43 M237.43,195.13 q1.66,0.29 3.32,0.35 M239.52,195.76 q-1.74,-1.00 -3.48,0.16 M244.18,196.19 q1.78,-1.28 3.57,-0.03 M228.83,183.95 q-1.43,1.79 -2.86,-0.70 M235.45,187.58 q0.50,1.46 0.99,0.56 M241.08,183.79 q-0.60,0.16 -1.21,-0.88 M238.21,190.85 q-1.93,0.12 -3.85,0.02 M225.67,192.89 q1.75,-1.39 3.50,-0.58 M228.91,190.22 q-0.24,0.23 -0.48,-0.75 M231.60,198.23 q-1.89,1.14 -3.77,-0.45 M230.87,194.42 q1.13,-1.73 2.26,0.80 M241.05,184.92 q-1.12,-0.75 -2.23,0.92 M228.74,184.83 q2.01,1.84 4.02,0.06 M233.26,199.86 q1.46,-1.79 2.91,0.20 M242.95,199.80 q1.84,0.72 3.67,0.26 M224.23,199.45 q-0.21,1.07 -0.42,0.20 M234.72,185.31 q0.33,-1.96 0.66,0.40 M233.55,186.83 q1.81,1.08 3.62,-0.81 M231.82,194.43 q-1.81,0.51 -3.62,-0.13 M237.27,193.66 q0.33,0.40 0.65,0.26 M243.65,198.89 q-0.09,1.21 -0.18,-0.96 M236.75,186.71 q-1.86,0.74 -3.71,-0.67 M235.79,187.97 q-1.18,-0.16 -2.37,-0.39 M241.92,192.22 q-0.55,-0.87 -1.11,0.61 M236.86,187.17 q1.91,-1.79 3.82,0.36 M239.57,197.96 q0.17,-1.37 0.34,-0.97 M239.31,191.99 q-1.87,-0.40 -3.75,0.08 M243.88,190.75 q1.09,-1.25 2.18,0.81 M233.10,196.76 q-0.92,-1.89 -1.84,-0.35 M238.21,191.40 q0.46,-1.89 0.92,-0.13 M234.89,198.84 q1.95,-1.15 3.90,-0.62 M235.92,198.92 q0.55,-1.41 1.10,-0.86 M232.25,191.07 q1.87,-0.90 3.74,-0.59 M242.20,192.90 q1.81,-0.72 3.62,-0.94 M234.48,192.66 q-0.08,-1.78 -0.15,-1.00" stroke="#8e8e8e" stroke-width="0.38" fill="none"/>
<path d="M238.09,198.42 C242.21,196.36 246.33,197.39 245.30,201.51 C242.21,202.54 239.12,201.51 238.09,198.42 Z" fill="#a8a8a8"/>
<path d="M220.06,193.27 C220.58,184.00 226.76,178.85 235.00,178.85 C243.24,178.85 247.36,186.06 246.84,195.33 C246.33,201.51 244.27,205.63 243.24,208.72 " stroke="#8a8a8a" stroke-width="0.5" fill="none"/>
<path d="M220.06,193.27 C220.06,195.33 221.09,195.84 220.06,197.39 C218.52,200.48 214.91,203.06 214.40,204.60 C214.91,205.63 216.46,205.63 216.46,206.14 C215.94,207.69 216.67,208.20 216.25,209.23 C215.94,210.26 216.87,210.78 216.67,211.81 C216.46,213.87 217.49,215.93 219.55,216.44 C222.64,216.96 225.73,217.47 227.79,219.02 L231.40,224.17" stroke="#8a8a8a" stroke-width="0.5" fill="none"/>
<path d="M240.15,205.63 C240.15,210.78 241.18,213.87 243.24,216.96" stroke="#9a9a9a" stroke-width="0.45" fill="none"/>
<path d="M229.85,202.54 c1.54,-1.03 3.09,1.03 1.54,3.09" stroke="#aaa" stroke-width="0.4" fill="none"/>
<ellipse cx="220.79" cy="196.88" rx="1.13" ry="0.82" fill="#5aa0e0"/>
<path d="M221.55,264.05 C222.60,254.60 231.00,251.45 238.35,252.50 C244.65,253.55 247.80,259.85 245.70,270.35 C241.50,272.45 235.20,272.45 228.90,271.40 C224.70,270.35 221.55,268.25 221.55,264.05 Z" fill="#dcdcdc" stroke="#a0a0a0" stroke-width="0.4"/>
<path d="M234.20,258.99 q-0.03,0.93 -0.05,-0.13 M237.11,257.63 q1.28,-0.34 2.55,0.93 M241.88,263.58 q-0.15,1.58 -0.30,0.02 M226.86,260.12 q1.40,-1.17 2.81,0.78 M238.37,256.95 q-0.17,1.25 -0.35,-0.84 M235.96,255.61 q-2.02,0.80 -4.04,-0.33 M229.38,262.88 q-0.36,-1.68 -0.72,-0.87 M237.08,266.48 q-1.16,-0.21 -2.31,-0.18 M228.38,266.82 q-0.36,0.07 -0.72,-0.16 M227.74,266.00 q1.25,-1.75 2.50,0.61 M236.59,265.67 q-0.94,1.30 -1.88,-0.37 M234.92,255.03 q0.33,1.99 0.67,0.12 M228.50,264.40 q-0.20,-1.51 -0.39,0.16 M226.42,261.99 q0.28,0.59 0.55,-0.21 M231.77,266.35 q-0.77,-1.47 -1.54,0.90 M232.84,262.70 q-0.28,1.83 -0.56,-0.82 M234.30,270.83 q1.05,-1.21 2.10,-0.94 M243.96,260.87 q1.27,0.48 2.55,-0.62 M226.26,256.54 q-1.65,-0.65 -3.30,-0.42 M234.52,269.48 q-0.57,-0.05 -1.15,-0.21 M235.61,258.71 q1.99,-0.36 3.98,0.03 M224.40,262.91 q0.64,1.47 1.28,-0.65 M240.82,259.15 q0.10,-1.23 0.21,-0.51 M228.44,268.26 q0.02,1.91 0.04,0.97 M233.29,261.32 q1.38,-1.61 2.77,-0.31 M234.82,255.55 q1.92,0.05 3.84,-0.15 M232.89,263.29 q-0.17,1.23 -0.34,-0.15 M231.29,262.46 q1.23,-0.09 2.47,-0.97 M240.12,270.02 q0.60,-1.34 1.19,-0.83 M233.82,266.32 q0.78,-1.01 1.56,0.36 M237.54,260.50 q1.18,-1.63 2.37,0.34 M227.15,263.80 q-0.17,1.79 -0.35,0.85 M230.98,257.54 q1.66,-0.50 3.32,0.31 M236.75,263.87 q-1.01,0.13 -2.02,0.65 M240.28,264.82 q0.67,-1.86 1.34,0.90 M239.82,268.75 q-0.40,0.47 -0.80,0.17 M226.29,265.31 q1.57,-1.63 3.15,-0.32 M225.68,269.08 q0.01,1.26 0.03,0.95 M224.73,260.96 q-0.77,0.28 -1.55,0.19 M243.69,265.36 q-1.31,-1.57 -2.61,-0.02 M226.73,266.35 q-0.39,-1.01 -0.78,-0.93 M239.75,268.08 q1.58,2.03 3.16,0.48 M230.27,262.05 q0.61,-1.27 1.21,-0.86 M242.96,270.68 q-0.35,0.71 -0.70,-0.29 M230.17,268.31 q-0.54,-0.06 -1.09,-0.01 M237.58,254.47 q0.15,1.32 0.30,0.92 M239.17,265.11 q-1.50,0.14 -3.00,0.93 M231.82,256.92 q-0.17,0.11 -0.35,0.17 M235.62,268.58 q1.36,-0.99 2.72,-0.27 M227.88,260.92 q0.83,-1.67 1.66,-0.95 M225.80,260.72 q-0.34,-1.82 -0.67,-0.13 M237.23,259.14 q-1.54,-1.45 -3.08,0.84 M230.78,260.81 q0.41,-0.59 0.81,-0.51 M223.82,266.93 q-0.98,1.08 -1.95,0.26 M225.80,261.97 q-1.07,-1.57 -2.14,0.59 M224.39,268.01 q-0.11,-0.71 -0.23,-0.01 M227.99,259.39 q1.09,-0.99 2.18,1.01 M227.76,261.95 q1.46,0.23 2.92,0.28 M239.35,260.56 q-0.78,-2.08 -1.56,-0.55 M240.88,255.79 q-0.32,-2.00 -0.65,1.01 M227.69,262.55 q-0.61,0.64 -1.22,0.02 M228.19,259.92 q-1.56,-1.15 -3.12,-0.99 M243.71,264.52 q-2.05,-0.67 -4.10,-0.98 M230.94,257.92 q-0.15,0.75 -0.30,-0.26 M242.99,265.99 q-1.57,0.24 -3.15,-0.56 M224.20,266.69 q2.03,2.05 4.06,-0.14 M240.84,256.95 q-1.23,-1.21 -2.45,0.83" stroke="#8e8e8e" stroke-width="0.38" fill="none"/>
<path d="M238.35,269.30 C242.55,267.20 246.75,268.25 245.70,272.45 C242.55,273.50 239.40,272.45 238.35,269.30 Z" fill="#a8a8a8"/>
<path d="M219.97,264.05 C220.50,254.60 226.80,249.35 235.20,249.35 C243.60,249.35 247.80,256.70 247.27,266.15 C246.75,272.45 244.65,276.65 243.60,279.80 " stroke="#8a8a8a" stroke-width="0.5" fill="none"/>
<path d="M219.97,264.05 C219.97,266.15 221.02,266.68 219.97,268.25 C218.40,271.40 214.72,274.03 214.20,275.60 C214.72,276.65 216.30,276.65 216.30,277.18 C215.77,278.75 216.51,279.28 216.09,280.33 C215.77,281.38 216.72,281.90 216.51,282.95 C216.30,285.05 217.35,287.15 219.45,287.68 C222.60,288.20 225.75,288.73 227.85,290.30 L231.52,295.55" stroke="#8a8a8a" stroke-width="0.5" fill="none"/>
<path d="M240.45,276.65 C240.45,281.90 241.50,285.05 243.60,288.20" stroke="#9a9a9a" stroke-width="0.45" fill="none"/>
<path d="M229.95,273.50 c1.58,-1.05 3.15,1.05 1.58,3.15" stroke="#aaa" stroke-width="0.4" fill="none"/>
<ellipse cx="220.71" cy="267.73" rx="1.16" ry="0.84" fill="#5aa0e0"/>
<text x="246.0" y="115.0" font-size="14.2" text-anchor="start" fill="#111" font-weight="normal" font-family="'Liberation Serif', 'Times New Roman', serif" stroke="#111" stroke-width="0.25">(d)</text>
<polygon points="293.5,107.9 378.8,107.9 378.8,165.0 293.5,165.0" fill="#a9a9a9" />
<polygon points="261.9,122.2 293.5,108.2 293.5,165.0 261.8,180.2" fill="#888888" />
<polygon points="261.8,180.0 293.5,165.0 378.8,165.0 378.8,170.0 353.0,181.3 261.8,181.3" fill="#4e4e4e" />
<line x1="293.5" y1="108.2" x2="293.5" y2="165.0" stroke="#a0a0a0" stroke-width="0.4" />
<polygon points="323.5,107.4 379.0,111.8 378.8,170.0 323.5,162.5" fill="#5a6c2e" />
<g fill="#bc9860" opacity="0.9"><circle cx="328.57" cy="112.70" r="0.62"/><circle cx="330.17" cy="113.70" r="0.62"/><circle cx="328.57" cy="114.61" r="0.62"/><circle cx="330.17" cy="115.61" r="0.62"/><circle cx="328.57" cy="116.51" r="0.62"/><circle cx="330.17" cy="117.51" r="0.62"/><circle cx="328.57" cy="118.42" r="0.62"/><circle cx="330.17" cy="119.42" r="0.62"/><circle cx="328.57" cy="120.33" r="0.62"/><circle cx="330.17" cy="121.33" r="0.62"/><circle cx="328.57" cy="122.23" r="0.62"/><circle cx="330.17" cy="123.23" r="0.62"/><circle cx="328.57" cy="124.14" r="0.62"/><circle cx="330.17" cy="125.14" r="0.62"/><circle cx="328.57" cy="126.05" r="0.62"/><circle cx="330.17" cy="127.05" r="0.62"/><circle cx="328.57" cy="127.95" r="0.62"/><circle cx="330.17" cy="128.95" r="0.62"/><circle cx="328.57" cy="129.86" r="0.62"/><circle cx="330.17" cy="130.86" r="0.62"/><circle cx="328.56" cy="131.77" r="0.62"/><circle cx="330.16" cy="132.77" r="0.62"/><circle cx="328.56" cy="133.67" r="0.62"/><circle cx="330.16" cy="134.67" r="0.62"/><circle cx="328.56" cy="135.58" r="0.62"/><circle cx="330.16" cy="136.58" r="0.62"/><circle cx="328.56" cy="137.49" r="0.62"/><circle cx="330.16" cy="138.49" r="0.62"/><circle cx="328.56" cy="139.39" r="0.62"/><circle cx="330.16" cy="140.39" r="0.62"/><circle cx="328.56" cy="141.30" r="0.62"/><circle cx="330.16" cy="142.30" r="0.62"/><circle cx="328.56" cy="143.21" r="0.62"/><circle cx="330.16" cy="144.21" r="0.62"/><circle cx="328.56" cy="145.11" r="0.62"/><circle cx="330.16" cy="146.11" r="0.62"/><circle cx="328.56" cy="147.02" r="0.62"/><circle cx="330.16" cy="148.02" r="0.62"/><circle cx="328.56" cy="148.93" r="0.62"/><circle cx="330.16" cy="149.93" r="0.62"/><circle cx="328.56" cy="150.83" r="0.62"/><circle cx="330.16" cy="151.83" r="0.62"/><circle cx="328.56" cy="152.74" r="0.62"/><circle cx="330.16" cy="153.74" r="0.62"/><circle cx="328.56" cy="154.65" r="0.62"/><circle cx="330.16" cy="155.65" r="0.62"/><circle cx="328.56" cy="156.55" r="0.62"/><circle cx="330.16" cy="157.55" r="0.62"/><circle cx="328.55" cy="158.46" r="0.62"/><circle cx="330.15" cy="159.46" r="0.62"/><circle cx="332.55" cy="113.03" r="0.62"/><circle cx="334.15" cy="114.03" r="0.62"/><circle cx="332.55" cy="114.95" r="0.62"/><circle cx="334.15" cy="115.95" r="0.62"/><circle cx="332.55" cy="116.86" r="0.62"/><circle cx="334.15" cy="117.86" r="0.62"/><circle cx="332.54" cy="118.78" r="0.62"/><circle cx="334.14" cy="119.78" r="0.62"/><circle cx="332.54" cy="120.69" r="0.62"/><circle cx="334.14" cy="121.69" r="0.62"/><circle cx="332.54" cy="122.61" r="0.62"/><circle cx="334.14" cy="123.61" r="0.62"/><circle cx="332.54" cy="124.52" r="0.62"/><circle cx="334.14" cy="125.52" r="0.62"/><circle cx="332.54" cy="126.43" r="0.62"/><circle cx="334.14" cy="127.43" r="0.62"/><circle cx="332.54" cy="128.35" r="0.62"/><circle cx="334.14" cy="129.35" r="0.62"/><circle cx="332.54" cy="130.26" r="0.62"/><circle cx="334.14" cy="131.26" r="0.62"/><circle cx="332.54" cy="132.18" r="0.62"/><circle cx="334.14" cy="133.18" r="0.62"/><circle cx="332.53" cy="134.09" r="0.62"/><circle cx="334.13" cy="135.09" r="0.62"/><circle cx="332.53" cy="136.01" r="0.62"/><circle cx="334.13" cy="137.01" r="0.62"/><circle cx="332.53" cy="137.92" r="0.62"/><circle cx="334.13" cy="138.92" r="0.62"/><circle cx="332.53" cy="139.83" r="0.62"/><circle cx="334.13" cy="140.83" r="0.62"/><circle cx="332.53" cy="141.75" r="0.62"/><circle cx="334.13" cy="142.75" r="0.62"/><circle cx="332.53" cy="143.66" r="0.62"/><circle cx="334.13" cy="144.66" r="0.62"/><circle cx="332.53" cy="145.58" r="0.62"/><circle cx="334.13" cy="146.58" r="0.62"/><circle cx="332.53" cy="147.49" r="0.62"/><circle cx="334.13" cy="148.49" r="0.62"/><circle cx="332.52" cy="149.41" r="0.62"/><circle cx="334.12" cy="150.41" r="0.62"/><circle cx="332.52" cy="151.32" r="0.62"/><circle cx="334.12" cy="152.32" r="0.62"/><circle cx="332.52" cy="153.24" r="0.62"/><circle cx="334.12" cy="154.24" r="0.62"/><circle cx="332.52" cy="155.15" r="0.62"/><circle cx="334.12" cy="156.15" r="0.62"/><circle cx="332.52" cy="157.06" r="0.62"/><circle cx="334.12" cy="158.06" r="0.62"/><circle cx="332.52" cy="158.98" r="0.62"/><circle cx="334.12" cy="159.98" r="0.62"/><circle cx="336.52" cy="113.37" r="0.62"/><circle cx="338.12" cy="114.37" r="0.62"/><circle cx="336.52" cy="115.29" r="0.62"/><circle cx="338.12" cy="116.29" r="0.62"/><circle cx="336.52" cy="117.21" r="0.62"/><circle cx="338.12" cy="118.21" r="0.62"/><circle cx="336.52" cy="119.13" r="0.62"/><circle cx="338.12" cy="120.13" r="0.62"/><circle cx="336.52" cy="121.06" r="0.62"/><circle cx="338.12" cy="122.06" r="0.62"/><circle cx="336.52" cy="122.98" r="0.62"/><circle cx="338.12" cy="123.98" r="0.62"/><circle cx="336.51" cy="124.90" r="0.62"/><circle cx="338.11" cy="125.90" r="0.62"/><circle cx="336.51" cy="126.82" r="0.62"/><circle cx="338.11" cy="127.82" r="0.62"/><circle cx="336.51" cy="128.74" r="0.62"/><circle cx="338.11" cy="129.74" r="0.62"/><circle cx="336.51" cy="130.67" r="0.62"/><circle cx="338.11" cy="131.67" r="0.62"/><circle cx="336.51" cy="132.59" r="0.62"/><circle cx="338.11" cy="133.59" r="0.62"/><circle cx="336.51" cy="134.51" r="0.62"/><circle cx="338.11" cy="135.51" r="0.62"/><circle cx="336.50" cy="136.43" r="0.62"/><circle cx="338.10" cy="137.43" r="0.62"/><circle cx="336.50" cy="138.35" r="0.62"/><circle cx="338.10" cy="139.35" r="0.62"/><circle cx="336.50" cy="140.28" r="0.62"/><circle cx="338.10" cy="141.28" r="0.62"/><circle cx="336.50" cy="142.20" r="0.62"/><circle cx="338.10" cy="143.20" r="0.62"/><circle cx="336.50" cy="144.12" r="0.62"/><circle cx="338.10" cy="145.12" r="0.62"/><circle cx="336.50" cy="146.04" r="0.62"/><circle cx="338.10" cy="147.04" r="0.62"/><circle cx="336.49" cy="147.96" r="0.62"/><circle cx="338.09" cy="148.96" r="0.62"/><circle cx="336.49" cy="149.89" r="0.62"/><circle cx="338.09" cy="150.89" r="0.62"/><circle cx="336.49" cy="151.81" r="0.62"/><circle cx="338.09" cy="152.81" r="0.62"/><circle cx="336.49" cy="153.73" r="0.62"/><circle cx="338.09" cy="154.73" r="0.62"/><circle cx="336.49" cy="155.65" r="0.62"/><circle cx="338.09" cy="156.65" r="0.62"/><circle cx="336.48" cy="157.57" r="0.62"/><circle cx="338.08" cy="158.57" r="0.62"/><circle cx="336.48" cy="159.50" r="0.62"/><circle cx="338.08" cy="160.50" r="0.62"/><circle cx="340.50" cy="113.70" r="0.62"/><circle cx="342.10" cy="114.70" r="0.62"/><circle cx="340.50" cy="115.63" r="0.62"/><circle cx="342.10" cy="116.63" r="0.62"/><circle cx="340.50" cy="117.56" r="0.62"/><circle cx="342.10" cy="118.56" r="0.62"/><circle cx="340.49" cy="119.49" r="0.62"/><circle cx="342.09" cy="120.49" r="0.62"/><circle cx="340.49" cy="121.42" r="0.62"/><circle cx="342.09" cy="122.42" r="0.62"/><circle cx="340.49" cy="123.35" r="0.62"/><circle cx="342.09" cy="124.35" r="0.62"/><circle cx="340.49" cy="125.28" r="0.62"/><circle cx="342.09" cy="126.28" r="0.62"/><circle cx="340.49" cy="127.21" r="0.62"/><circle cx="342.09" cy="128.21" r="0.62"/><circle cx="340.48" cy="129.14" r="0.62"/><circle cx="342.08" cy="130.14" r="0.62"/><circle cx="340.48" cy="131.07" r="0.62"/><circle cx="342.08" cy="132.07" r="0.62"/><circle cx="340.48" cy="133.00" r="0.62"/><circle cx="342.08" cy="134.00" r="0.62"/><circle cx="340.48" cy="134.93" r="0.62"/><circle cx="342.08" cy="135.93" r="0.62"/><circle cx="340.47" cy="136.86" r="0.62"/><circle cx="342.07" cy="137.86" r="0.62"/><circle cx="340.47" cy="138.79" r="0.62"/><circle cx="342.07" cy="139.79" r="0.62"/><circle cx="340.47" cy="140.72" r="0.62"/><circle cx="342.07" cy="141.72" r="0.62"/><circle cx="340.47" cy="142.65" r="0.62"/><circle cx="342.07" cy="143.65" r="0.62"/><circle cx="340.47" cy="144.58" r="0.62"/><circle cx="342.07" cy="145.58" r="0.62"/><circle cx="340.46" cy="146.51" r="0.62"/><circle cx="342.06" cy="147.51" r="0.62"/><circle cx="340.46" cy="148.44" r="0.62"/><circle cx="342.06" cy="149.44" r="0.62"/><circle cx="340.46" cy="150.37" r="0.62"/><circle cx="342.06" cy="151.37" r="0.62"/><circle cx="340.46" cy="152.30" r="0.62"/><circle cx="342.06" cy="153.30" r="0.62"/><circle cx="340.45" cy="154.23" r="0.62"/><circle cx="342.05" cy="155.23" r="0.62"/><circle cx="340.45" cy="156.16" r="0.62"/><circle cx="342.05" cy="157.16" r="0.62"/><circle cx="340.45" cy="158.09" r="0.62"/><circle cx="342.05" cy="159.09" r="0.62"/><circle cx="340.45" cy="160.01" r="0.62"/><circle cx="342.05" cy="161.01" r="0.62"/><circle cx="344.48" cy="114.04" r="0.62"/><circle cx="346.08" cy="115.04" r="0.62"/><circle cx="344.47" cy="115.98" r="0.62"/><circle cx="346.07" cy="116.98" r="0.62"/><circle cx="344.47" cy="117.91" r="0.62"/><circle cx="346.07" cy="118.91" r="0.62"/><circle cx="344.47" cy="119.85" r="0.62"/><circle cx="346.07" cy="120.85" r="0.62"/><circle cx="344.47" cy="121.79" r="0.62"/><circle cx="346.07" cy="122.79" r="0.62"/><circle cx="344.46" cy="123.72" r="0.62"/><circle cx="346.06" cy="124.72" r="0.62"/><circle cx="344.46" cy="125.66" r="0.62"/><circle cx="346.06" cy="126.66" r="0.62"/><circle cx="344.46" cy="127.60" r="0.62"/><circle cx="346.06" cy="128.60" r="0.62"/><circle cx="344.46" cy="129.54" r="0.62"/><circle cx="346.06" cy="130.54" r="0.62"/><circle cx="344.45" cy="131.47" r="0.62"/><circle cx="346.05" cy="132.47" r="0.62"/><circle cx="344.45" cy="133.41" r="0.62"/><circle cx="346.05" cy="134.41" r="0.62"/><circle cx="344.45" cy="135.35" r="0.62"/><circle cx="346.05" cy="136.35" r="0.62"/><circle cx="344.44" cy="137.29" r="0.62"/><circle cx="346.04" cy="138.29" r="0.62"/><circle cx="344.44" cy="139.22" r="0.62"/><circle cx="346.04" cy="140.22" r="0.62"/><circle cx="344.44" cy="141.16" r="0.62"/><circle cx="346.04" cy="142.16" r="0.62"/><circle cx="344.44" cy="143.10" r="0.62"/><circle cx="346.04" cy="144.10" r="0.62"/><circle cx="344.43" cy="145.03" r="0.62"/><circle cx="346.03" cy="146.03" r="0.62"/><circle cx="344.43" cy="146.97" r="0.62"/><circle cx="346.03" cy="147.97" r="0.62"/><circle cx="344.43" cy="148.91" r="0.62"/><circle cx="346.03" cy="149.91" r="0.62"/><circle cx="344.43" cy="150.85" r="0.62"/><circle cx="346.03" cy="151.85" r="0.62"/><circle cx="344.42" cy="152.78" r="0.62"/><circle cx="346.02" cy="153.78" r="0.62"/><circle cx="344.42" cy="154.72" r="0.62"/><circle cx="346.02" cy="155.72" r="0.62"/><circle cx="344.42" cy="156.66" r="0.62"/><circle cx="346.02" cy="157.66" r="0.62"/><circle cx="344.41" cy="158.60" r="0.62"/><circle cx="346.01" cy="159.60" r="0.62"/><circle cx="344.41" cy="160.53" r="0.62"/><circle cx="346.01" cy="161.53" r="0.62"/><circle cx="348.45" cy="114.37" r="0.62"/><circle cx="350.05" cy="115.37" r="0.62"/><circle cx="348.45" cy="116.32" r="0.62"/><circle cx="350.05" cy="117.32" r="0.62"/><circle cx="348.45" cy="118.26" r="0.62"/><circle cx="350.05" cy="119.26" r="0.62"/><circle cx="348.44" cy="120.21" r="0.62"/><circle cx="350.04" cy="121.21" r="0.62"/><circle cx="348.44" cy="122.15" r="0.62"/><circle cx="350.04" cy="123.15" r="0.62"/><circle cx="348.44" cy="124.10" r="0.62"/><circle cx="350.04" cy="125.10" r="0.62"/><circle cx="348.43" cy="126.04" r="0.62"/><circle cx="350.03" cy="127.04" r="0.62"/><circle cx="348.43" cy="127.99" r="0.62"/><circle cx="350.03" cy="128.99" r="0.62"/><circle cx="348.43" cy="129.93" r="0.62"/><circle cx="350.03" cy="130.93" r="0.62"/><circle cx="348.42" cy="131.88" r="0.62"/><circle cx="350.02" cy="132.88" r="0.62"/><circle cx="348.42" cy="133.82" r="0.62"/><circle cx="350.02" cy="134.82" r="0.62"/><circle cx="348.42" cy="135.77" r="0.62"/><circle cx="350.02" cy="136.77" r="0.62"/><circle cx="348.41" cy="137.71" r="0.62"/><circle cx="350.01" cy="138.71" r="0.62"/><circle cx="348.41" cy="139.66" r="0.62"/><circle cx="350.01" cy="140.66" r="0.62"/><circle cx="348.41" cy="141.60" r="0.62"/><circle cx="350.01" cy="142.60" r="0.62"/><circle cx="348.41" cy="143.55" r="0.62"/><circle cx="350.01" cy="144.55" r="0.62"/><circle cx="348.40" cy="145.49" r="0.62"/><circle cx="350.00" cy="146.49" r="0.62"/><circle cx="348.40" cy="147.44" r="0.62"/><circle cx="350.00" cy="148.44" r="0.62"/><circle cx="348.40" cy="149.38" r="0.62"/><circle cx="350.00" cy="150.38" r="0.62"/><circle cx="348.39" cy="151.33" r="0.62"/><circle cx="349.99" cy="152.33" r="0.62"/><circle cx="348.39" cy="153.27" r="0.62"/><circle cx="349.99" cy="154.27" r="0.62"/><circle cx="348.39" cy="155.22" r="0.62"/><circle cx="349.99" cy="156.22" r="0.62"/><circle cx="348.38" cy="157.16" r="0.62"/><circle cx="349.98" cy="158.16" r="0.62"/><circle cx="348.38" cy="159.11" r="0.62"/><circle cx="349.98" cy="160.11" r="0.62"/><circle cx="348.38" cy="161.05" r="0.62"/><circle cx="349.98" cy="162.05" r="0.62"/><circle cx="352.43" cy="114.71" r="0.62"/><circle cx="354.03" cy="115.71" r="0.62"/><circle cx="352.43" cy="116.66" r="0.62"/><circle cx="354.03" cy="117.66" r="0.62"/><circle cx="352.42" cy="118.61" r="0.62"/><circle cx="354.02" cy="119.61" r="0.62"/><circle cx="352.42" cy="120.56" r="0.62"/><circle cx="354.02" cy="121.56" r="0.62"/><circle cx="352.41" cy="122.52" r="0.62"/><circle cx="354.01" cy="123.52" r="0.62"/><circle cx="352.41" cy="124.47" r="0.62"/><circle cx="354.01" cy="125.47" r="0.62"/><circle cx="352.41" cy="126.42" r="0.62"/><circle cx="354.01" cy="127.42" r="0.62"/><circle cx="352.40" cy="128.38" r="0.62"/><circle cx="354.00" cy="129.38" r="0.62"/><circle cx="352.40" cy="130.33" r="0.62"/><circle cx="354.00" cy="131.33" r="0.62"/><circle cx="352.40" cy="132.28" r="0.62"/><circle cx="354.00" cy="133.28" r="0.62"/><circle cx="352.39" cy="134.23" r="0.62"/><circle cx="353.99" cy="135.23" r="0.62"/><circle cx="352.39" cy="136.19" r="0.62"/><circle cx="353.99" cy="137.19" r="0.62"/><circle cx="352.39" cy="138.14" r="0.62"/><circle cx="353.99" cy="139.14" r="0.62"/><circle cx="352.38" cy="140.09" r="0.62"/><circle cx="353.98" cy="141.09" r="0.62"/><circle cx="352.38" cy="142.04" r="0.62"/><circle cx="353.98" cy="143.04" r="0.62"/><circle cx="352.37" cy="144.00" r="0.62"/><circle cx="353.97" cy="145.00" r="0.62"/><circle cx="352.37" cy="145.95" r="0.62"/><circle cx="353.97" cy="146.95" r="0.62"/><circle cx="352.37" cy="147.90" r="0.62"/><circle cx="353.97" cy="148.90" r="0.62"/><circle cx="352.36" cy="149.85" r="0.62"/><circle cx="353.96" cy="150.85" r="0.62"/><circle cx="352.36" cy="151.81" r="0.62"/><circle cx="353.96" cy="152.81" r="0.62"/><circle cx="352.36" cy="153.76" r="0.62"/><circle cx="353.96" cy="154.76" r="0.62"/><circle cx="352.35" cy="155.71" r="0.62"/><circle cx="353.95" cy="156.71" r="0.62"/><circle cx="352.35" cy="157.66" r="0.62"/><circle cx="353.95" cy="158.66" r="0.62"/><circle cx="352.34" cy="159.62" r="0.62"/><circle cx="353.94" cy="160.62" r="0.62"/><circle cx="352.34" cy="161.57" r="0.62"/><circle cx="353.94" cy="162.57" r="0.62"/><circle cx="356.41" cy="115.04" r="0.62"/><circle cx="358.01" cy="116.04" r="0.62"/><circle cx="356.40" cy="117.00" r="0.62"/><circle cx="358.00" cy="118.00" r="0.62"/><circle cx="356.40" cy="118.96" r="0.62"/><circle cx="358.00" cy="119.96" r="0.62"/><circle cx="356.39" cy="120.92" r="0.62"/><circle cx="357.99" cy="121.92" r="0.62"/><circle cx="356.39" cy="122.88" r="0.62"/><circle cx="357.99" cy="123.88" r="0.62"/><circle cx="356.38" cy="124.84" r="0.62"/><circle cx="357.98" cy="125.84" r="0.62"/><circle cx="356.38" cy="126.80" r="0.62"/><circle cx="357.98" cy="127.80" r="0.62"/><circle cx="356.38" cy="128.76" r="0.62"/><circle cx="357.98" cy="129.76" r="0.62"/><circle cx="356.37" cy="130.72" r="0.62"/><circle cx="357.97" cy="131.72" r="0.62"/><circle cx="356.37" cy="132.68" r="0.62"/><circle cx="357.97" cy="133.68" r="0.62"/><circle cx="356.36" cy="134.64" r="0.62"/><circle cx="357.96" cy="135.64" r="0.62"/><circle cx="356.36" cy="136.60" r="0.62"/><circle cx="357.96" cy="137.60" r="0.62"/><circle cx="356.36" cy="138.56" r="0.62"/><circle cx="357.96" cy="139.56" r="0.62"/><circle cx="356.35" cy="140.52" r="0.62"/><circle cx="357.95" cy="141.52" r="0.62"/><circle cx="356.35" cy="142.49" r="0.62"/><circle cx="357.95" cy="143.49" r="0.62"/><circle cx="356.34" cy="144.45" r="0.62"/><circle cx="357.94" cy="145.45" r="0.62"/><circle cx="356.34" cy="146.41" r="0.62"/><circle cx="357.94" cy="147.41" r="0.62"/><circle cx="356.33" cy="148.37" r="0.62"/><circle cx="357.93" cy="149.37" r="0.62"/><circle cx="356.33" cy="150.33" r="0.62"/><circle cx="357.93" cy="151.33" r="0.62"/><circle cx="356.33" cy="152.29" r="0.62"/><circle cx="357.93" cy="153.29" r="0.62"/><circle cx="356.32" cy="154.25" r="0.62"/><circle cx="357.92" cy="155.25" r="0.62"/><circle cx="356.32" cy="156.21" r="0.62"/><circle cx="357.92" cy="157.21" r="0.62"/><circle cx="356.31" cy="158.17" r="0.62"/><circle cx="357.91" cy="159.17" r="0.62"/><circle cx="356.31" cy="160.13" r="0.62"/><circle cx="357.91" cy="161.13" r="0.62"/><circle cx="356.31" cy="162.09" r="0.62"/><circle cx="357.91" cy="163.09" r="0.62"/><circle cx="360.38" cy="115.38" r="0.62"/><circle cx="361.98" cy="116.38" r="0.62"/><circle cx="360.38" cy="117.34" r="0.62"/><circle cx="361.98" cy="118.34" r="0.62"/><circle cx="360.37" cy="119.31" r="0.62"/><circle cx="361.97" cy="120.31" r="0.62"/><circle cx="360.37" cy="121.28" r="0.62"/><circle cx="361.97" cy="122.28" r="0.62"/><circle cx="360.36" cy="123.25" r="0.62"/><circle cx="361.96" cy="124.25" r="0.62"/><circle cx="360.36" cy="125.22" r="0.62"/><circle cx="361.96" cy="126.22" r="0.62"/><circle cx="360.35" cy="127.18" r="0.62"/><circle cx="361.95" cy="128.18" r="0.62"/><circle cx="360.35" cy="129.15" r="0.62"/><circle cx="361.95" cy="130.15" r="0.62"/><circle cx="360.34" cy="131.12" r="0.62"/><circle cx="361.94" cy="132.12" r="0.62"/><circle cx="360.34" cy="133.09" r="0.62"/><circle cx="361.94" cy="134.09" r="0.62"/><circle cx="360.34" cy="135.06" r="0.62"/><circle cx="361.94" cy="136.06" r="0.62"/><circle cx="360.33" cy="137.02" r="0.62"/><circle cx="361.93" cy="138.02" r="0.62"/><circle cx="360.33" cy="138.99" r="0.62"/><circle cx="361.93" cy="139.99" r="0.62"/><circle cx="360.32" cy="140.96" r="0.62"/><circle cx="361.92" cy="141.96" r="0.62"/><circle cx="360.32" cy="142.93" r="0.62"/><circle cx="361.92" cy="143.93" r="0.62"/><circle cx="360.31" cy="144.89" r="0.62"/><circle cx="361.91" cy="145.89" r="0.62"/><circle cx="360.31" cy="146.86" r="0.62"/><circle cx="361.91" cy="147.86" r="0.62"/><circle cx="360.30" cy="148.83" r="0.62"/><circle cx="361.90" cy="149.83" r="0.62"/><circle cx="360.30" cy="150.80" r="0.62"/><circle cx="361.90" cy="151.80" r="0.62"/><circle cx="360.29" cy="152.77" r="0.62"/><circle cx="361.89" cy="153.77" r="0.62"/><circle cx="360.29" cy="154.73" r="0.62"/><circle cx="361.89" cy="155.73" r="0.62"/><circle cx="360.28" cy="156.70" r="0.62"/><circle cx="361.88" cy="157.70" r="0.62"/><circle cx="360.28" cy="158.67" r="0.62"/><circle cx="361.88" cy="159.67" r="0.62"/><circle cx="360.27" cy="160.64" r="0.62"/><circle cx="361.87" cy="161.64" r="0.62"/><circle cx="360.27" cy="162.61" r="0.62"/><circle cx="361.87" cy="163.61" r="0.62"/><circle cx="364.36" cy="115.71" r="0.62"/><circle cx="365.96" cy="116.71" r="0.62"/><circle cx="364.35" cy="117.69" r="0.62"/><circle cx="365.95" cy="118.69" r="0.62"/><circle cx="364.35" cy="119.66" r="0.62"/><circle cx="365.95" cy="120.66" r="0.62"/><circle cx="364.34" cy="121.64" r="0.62"/><circle cx="365.94" cy="122.64" r="0.62"/><circle cx="364.34" cy="123.61" r="0.62"/><circle cx="365.94" cy="124.61" r="0.62"/><circle cx="364.33" cy="125.59" r="0.62"/><circle cx="365.93" cy="126.59" r="0.62"/><circle cx="364.33" cy="127.56" r="0.62"/><circle cx="365.93" cy="128.56" r="0.62"/><circle cx="364.32" cy="129.54" r="0.62"/><circle cx="365.92" cy="130.54" r="0.62"/><circle cx="364.32" cy="131.52" r="0.62"/><circle cx="365.92" cy="132.52" r="0.62"/><circle cx="364.31" cy="133.49" r="0.62"/><circle cx="365.91" cy="134.49" r="0.62"/><circle cx="364.31" cy="135.47" r="0.62"/><circle cx="365.91" cy="136.47" r="0.62"/><circle cx="364.30" cy="137.44" r="0.62"/><circle cx="365.90" cy="138.44" r="0.62"/><circle cx="364.30" cy="139.42" r="0.62"/><circle cx="365.90" cy="140.42" r="0.62"/><circle cx="364.29" cy="141.39" r="0.62"/><circle cx="365.89" cy="142.39" r="0.62"/><circle cx="364.29" cy="143.37" r="0.62"/><circle cx="365.89" cy="144.37" r="0.62"/><circle cx="364.28" cy="145.34" r="0.62"/><circle cx="365.88" cy="146.34" r="0.62"/><circle cx="364.28" cy="147.32" r="0.62"/><circle cx="365.88" cy="148.32" r="0.62"/><circle cx="364.27" cy="149.30" r="0.62"/><circle cx="365.87" cy="150.30" r="0.62"/><circle cx="364.27" cy="151.27" r="0.62"/><circle cx="365.87" cy="152.27" r="0.62"/><circle cx="364.26" cy="153.25" r="0.62"/><circle cx="365.86" cy="154.25" r="0.62"/><circle cx="364.25" cy="155.22" r="0.62"/><circle cx="365.85" cy="156.22" r="0.62"/><circle cx="364.25" cy="157.20" r="0.62"/><circle cx="365.85" cy="158.20" r="0.62"/><circle cx="364.24" cy="159.17" r="0.62"/><circle cx="365.84" cy="160.17" r="0.62"/><circle cx="364.24" cy="161.15" r="0.62"/><circle cx="365.84" cy="162.15" r="0.62"/><circle cx="364.23" cy="163.12" r="0.62"/><circle cx="365.83" cy="164.12" r="0.62"/><circle cx="368.33" cy="116.05" r="0.62"/><circle cx="369.93" cy="117.05" r="0.62"/><circle cx="368.33" cy="118.03" r="0.62"/><circle cx="369.93" cy="119.03" r="0.62"/><circle cx="368.32" cy="120.01" r="0.62"/><circle cx="369.92" cy="121.01" r="0.62"/><circle cx="368.32" cy="122.00" r="0.62"/><circle cx="369.92" cy="123.00" r="0.62"/><circle cx="368.31" cy="123.98" r="0.62"/><circle cx="369.91" cy="124.98" r="0.62"/><circle cx="368.31" cy="125.96" r="0.62"/><circle cx="369.91" cy="126.96" r="0.62"/><circle cx="368.30" cy="127.94" r="0.62"/><circle cx="369.90" cy="128.94" r="0.62"/><circle cx="368.29" cy="129.93" r="0.62"/><circle cx="369.89" cy="130.93" r="0.62"/><circle cx="368.29" cy="131.91" r="0.62"/><circle cx="369.89" cy="132.91" r="0.62"/><circle cx="368.28" cy="133.89" r="0.62"/><circle cx="369.88" cy="134.89" r="0.62"/><circle cx="368.28" cy="135.88" r="0.62"/><circle cx="369.88" cy="136.88" r="0.62"/><circle cx="368.27" cy="137.86" r="0.62"/><circle cx="369.87" cy="138.86" r="0.62"/><circle cx="368.27" cy="139.84" r="0.62"/><circle cx="369.87" cy="140.84" r="0.62"/><circle cx="368.26" cy="141.83" r="0.62"/><circle cx="369.86" cy="142.83" r="0.62"/><circle cx="368.26" cy="143.81" r="0.62"/><circle cx="369.86" cy="144.81" r="0.62"/><circle cx="368.25" cy="145.79" r="0.62"/><circle cx="369.85" cy="146.79" r="0.62"/><circle cx="368.24" cy="147.78" r="0.62"/><circle cx="369.84" cy="148.78" r="0.62"/><circle cx="368.24" cy="149.76" r="0.62"/><circle cx="369.84" cy="150.76" r="0.62"/><circle cx="368.23" cy="151.74" r="0.62"/><circle cx="369.83" cy="152.74" r="0.62"/><circle cx="368.23" cy="153.73" r="0.62"/><circle cx="369.83" cy="154.73" r="0.62"/><circle cx="368.22" cy="155.71" r="0.62"/><circle cx="369.82" cy="156.71" r="0.62"/><circle cx="368.22" cy="157.69" r="0.62"/><circle cx="369.82" cy="158.69" r="0.62"/><circle cx="368.21" cy="159.68" r="0.62"/><circle cx="369.81" cy="160.68" r="0.62"/><circle cx="368.20" cy="161.66" r="0.62"/><circle cx="369.80" cy="162.66" r="0.62"/><circle cx="368.20" cy="163.64" r="0.62"/><circle cx="369.80" cy="164.64" r="0.62"/><circle cx="372.31" cy="116.38" r="0.62"/><circle cx="373.91" cy="117.38" r="0.62"/><circle cx="372.30" cy="118.37" r="0.62"/><circle cx="373.90" cy="119.37" r="0.62"/><circle cx="372.30" cy="120.36" r="0.62"/><circle cx="373.90" cy="121.36" r="0.62"/><circle cx="372.29" cy="122.35" r="0.62"/><circle cx="373.89" cy="123.35" r="0.62"/><circle cx="372.29" cy="124.34" r="0.62"/><circle cx="373.89" cy="125.34" r="0.62"/><circle cx="372.28" cy="126.33" r="0.62"/><circle cx="373.88" cy="127.33" r="0.62"/><circle cx="372.27" cy="128.33" r="0.62"/><circle cx="373.87" cy="129.33" r="0.62"/><circle cx="372.27" cy="130.32" r="0.62"/><circle cx="373.87" cy="131.32" r="0.62"/><circle cx="372.26" cy="132.31" r="0.62"/><circle cx="373.86" cy="133.31" r="0.62"/><circle cx="372.26" cy="134.30" r="0.62"/><circle cx="373.86" cy="135.30" r="0.62"/><circle cx="372.25" cy="136.29" r="0.62"/><circle cx="373.85" cy="137.29" r="0.62"/><circle cx="372.24" cy="138.28" r="0.62"/><circle cx="373.84" cy="139.28" r="0.62"/><circle cx="372.24" cy="140.27" r="0.62"/><circle cx="373.84" cy="141.27" r="0.62"/><circle cx="372.23" cy="142.26" r="0.62"/><circle cx="373.83" cy="143.26" r="0.62"/><circle cx="372.22" cy="144.25" r="0.62"/><circle cx="373.82" cy="145.25" r="0.62"/><circle cx="372.22" cy="146.24" r="0.62"/><circle cx="373.82" cy="147.24" r="0.62"/><circle cx="372.21" cy="148.23" r="0.62"/><circle cx="373.81" cy="149.23" r="0.62"/><circle cx="372.21" cy="150.22" r="0.62"/><circle cx="373.81" cy="151.22" r="0.62"/><circle cx="372.20" cy="152.22" r="0.62"/><circle cx="373.80" cy="153.22" r="0.62"/><circle cx="372.19" cy="154.21" r="0.62"/><circle cx="373.79" cy="155.21" r="0.62"/><circle cx="372.19" cy="156.20" r="0.62"/><circle cx="373.79" cy="157.20" r="0.62"/><circle cx="372.18" cy="158.19" r="0.62"/><circle cx="373.78" cy="159.19" r="0.62"/><circle cx="372.18" cy="160.18" r="0.62"/><circle cx="373.78" cy="161.18" r="0.62"/><circle cx="372.17" cy="162.17" r="0.62"/><circle cx="373.77" cy="163.17" r="0.62"/><circle cx="372.16" cy="164.16" r="0.62"/><circle cx="373.76" cy="165.16" r="0.62"/></g>
<polygon points="433.0,107.9 518.3,107.9 518.3,165.0 433.0,165.0" fill="#f1f1f1" />
<polygon points="401.4,122.2 433.0,108.2 433.0,165.0 401.3,180.2" fill="#d8d8d8" />
<polygon points="401.3,180.0 433.0,165.0 518.3,165.0 518.3,170.0 492.5,181.3 401.3,181.3" fill="#d0d0d0" />
<line x1="433.0" y1="108.2" x2="433.0" y2="165.0" stroke="#e0e0e0" stroke-width="0.4" />
<polygon points="462.3,107.3 519.0,115.1 519.0,170.0 462.3,162.7" fill="#8e8e1e" />
<g fill="#d4a434" opacity="0.9"><circle cx="467.50" cy="112.95" r="0.62"/><circle cx="469.10" cy="113.95" r="0.62"/><circle cx="467.50" cy="114.86" r="0.62"/><circle cx="469.10" cy="115.86" r="0.62"/><circle cx="467.50" cy="116.76" r="0.62"/><circle cx="469.10" cy="117.76" r="0.62"/><circle cx="467.50" cy="118.66" r="0.62"/><circle cx="469.10" cy="119.66" r="0.62"/><circle cx="467.50" cy="120.57" r="0.62"/><circle cx="469.10" cy="121.57" r="0.62"/><circle cx="467.50" cy="122.47" r="0.62"/><circle cx="469.10" cy="123.47" r="0.62"/><circle cx="467.50" cy="124.38" r="0.62"/><circle cx="469.10" cy="125.38" r="0.62"/><circle cx="467.50" cy="126.28" r="0.62"/><circle cx="469.10" cy="127.28" r="0.62"/><circle cx="467.50" cy="128.18" r="0.62"/><circle cx="469.10" cy="129.18" r="0.62"/><circle cx="467.50" cy="130.09" r="0.62"/><circle cx="469.10" cy="131.09" r="0.62"/><circle cx="467.50" cy="131.99" r="0.62"/><circle cx="469.10" cy="132.99" r="0.62"/><circle cx="467.50" cy="133.90" r="0.62"/><circle cx="469.10" cy="134.90" r="0.62"/><circle cx="467.50" cy="135.80" r="0.62"/><circle cx="469.10" cy="136.80" r="0.62"/><circle cx="467.50" cy="137.70" r="0.62"/><circle cx="469.10" cy="138.70" r="0.62"/><circle cx="467.50" cy="139.61" r="0.62"/><circle cx="469.10" cy="140.61" r="0.62"/><circle cx="467.50" cy="141.51" r="0.62"/><circle cx="469.10" cy="142.51" r="0.62"/><circle cx="467.50" cy="143.41" r="0.62"/><circle cx="469.10" cy="144.41" r="0.62"/><circle cx="467.50" cy="145.32" r="0.62"/><circle cx="469.10" cy="146.32" r="0.62"/><circle cx="467.50" cy="147.22" r="0.62"/><circle cx="469.10" cy="148.22" r="0.62"/><circle cx="467.50" cy="149.13" r="0.62"/><circle cx="469.10" cy="150.13" r="0.62"/><circle cx="467.50" cy="151.03" r="0.62"/><circle cx="469.10" cy="152.03" r="0.62"/><circle cx="467.50" cy="152.93" r="0.62"/><circle cx="469.10" cy="153.93" r="0.62"/><circle cx="467.50" cy="154.84" r="0.62"/><circle cx="469.10" cy="155.84" r="0.62"/><circle cx="467.50" cy="156.74" r="0.62"/><circle cx="469.10" cy="157.74" r="0.62"/><circle cx="467.50" cy="158.65" r="0.62"/><circle cx="469.10" cy="159.65" r="0.62"/><circle cx="471.56" cy="113.51" r="0.62"/><circle cx="473.16" cy="114.51" r="0.62"/><circle cx="471.56" cy="115.41" r="0.62"/><circle cx="473.16" cy="116.41" r="0.62"/><circle cx="471.56" cy="117.31" r="0.62"/><circle cx="473.16" cy="118.31" r="0.62"/><circle cx="471.56" cy="119.22" r="0.62"/><circle cx="473.16" cy="120.22" r="0.62"/><circle cx="471.56" cy="121.12" r="0.62"/><circle cx="473.16" cy="122.12" r="0.62"/><circle cx="471.56" cy="123.02" r="0.62"/><circle cx="473.16" cy="124.02" r="0.62"/><circle cx="471.56" cy="124.92" r="0.62"/><circle cx="473.16" cy="125.92" r="0.62"/><circle cx="471.56" cy="126.83" r="0.62"/><circle cx="473.16" cy="127.83" r="0.62"/><circle cx="471.56" cy="128.73" r="0.62"/><circle cx="473.16" cy="129.73" r="0.62"/><circle cx="471.56" cy="130.63" r="0.62"/><circle cx="473.16" cy="131.63" r="0.62"/><circle cx="471.56" cy="132.53" r="0.62"/><circle cx="473.16" cy="133.53" r="0.62"/><circle cx="471.56" cy="134.44" r="0.62"/><circle cx="473.16" cy="135.44" r="0.62"/><circle cx="471.56" cy="136.34" r="0.62"/><circle cx="473.16" cy="137.34" r="0.62"/><circle cx="471.56" cy="138.24" r="0.62"/><circle cx="473.16" cy="139.24" r="0.62"/><circle cx="471.56" cy="140.15" r="0.62"/><circle cx="473.16" cy="141.15" r="0.62"/><circle cx="471.56" cy="142.05" r="0.62"/><circle cx="473.16" cy="143.05" r="0.62"/><circle cx="471.56" cy="143.95" r="0.62"/><circle cx="473.16" cy="144.95" r="0.62"/><circle cx="471.56" cy="145.85" r="0.62"/><circle cx="473.16" cy="146.85" r="0.62"/><circle cx="471.56" cy="147.76" r="0.62"/><circle cx="473.16" cy="148.76" r="0.62"/><circle cx="471.56" cy="149.66" r="0.62"/><circle cx="473.16" cy="150.66" r="0.62"/><circle cx="471.56" cy="151.56" r="0.62"/><circle cx="473.16" cy="152.56" r="0.62"/><circle cx="471.56" cy="153.46" r="0.62"/><circle cx="473.16" cy="154.46" r="0.62"/><circle cx="471.56" cy="155.37" r="0.62"/><circle cx="473.16" cy="156.37" r="0.62"/><circle cx="471.56" cy="157.27" r="0.62"/><circle cx="473.16" cy="158.27" r="0.62"/><circle cx="471.56" cy="159.17" r="0.62"/><circle cx="473.16" cy="160.17" r="0.62"/><circle cx="475.63" cy="114.06" r="0.62"/><circle cx="477.23" cy="115.06" r="0.62"/><circle cx="475.63" cy="115.96" r="0.62"/><circle cx="477.23" cy="116.96" r="0.62"/><circle cx="475.63" cy="117.87" r="0.62"/><circle cx="477.23" cy="118.87" r="0.62"/><circle cx="475.63" cy="119.77" r="0.62"/><circle cx="477.23" cy="120.77" r="0.62"/><circle cx="475.63" cy="121.67" r="0.62"/><circle cx="477.23" cy="122.67" r="0.62"/><circle cx="475.63" cy="123.57" r="0.62"/><circle cx="477.23" cy="124.57" r="0.62"/><circle cx="475.63" cy="125.47" r="0.62"/><circle cx="477.23" cy="126.47" r="0.62"/><circle cx="475.63" cy="127.37" r="0.62"/><circle cx="477.23" cy="128.37" r="0.62"/><circle cx="475.63" cy="129.28" r="0.62"/><circle cx="477.23" cy="130.28" r="0.62"/><circle cx="475.63" cy="131.18" r="0.62"/><circle cx="477.23" cy="132.18" r="0.62"/><circle cx="475.63" cy="133.08" r="0.62"/><circle cx="477.23" cy="134.08" r="0.62"/><circle cx="475.63" cy="134.98" r="0.62"/><circle cx="477.23" cy="135.98" r="0.62"/><circle cx="475.63" cy="136.88" r="0.62"/><circle cx="477.23" cy="137.88" r="0.62"/><circle cx="475.63" cy="138.78" r="0.62"/><circle cx="477.23" cy="139.78" r="0.62"/><circle cx="475.63" cy="140.68" r="0.62"/><circle cx="477.23" cy="141.68" r="0.62"/><circle cx="475.63" cy="142.59" r="0.62"/><circle cx="477.23" cy="143.59" r="0.62"/><circle cx="475.63" cy="144.49" r="0.62"/><circle cx="477.23" cy="145.49" r="0.62"/><circle cx="475.63" cy="146.39" r="0.62"/><circle cx="477.23" cy="147.39" r="0.62"/><circle cx="475.63" cy="148.29" r="0.62"/><circle cx="477.23" cy="149.29" r="0.62"/><circle cx="475.63" cy="150.19" r="0.62"/><circle cx="477.23" cy="151.19" r="0.62"/><circle cx="475.63" cy="152.09" r="0.62"/><circle cx="477.23" cy="153.09" r="0.62"/><circle cx="475.63" cy="153.99" r="0.62"/><circle cx="477.23" cy="154.99" r="0.62"/><circle cx="475.63" cy="155.90" r="0.62"/><circle cx="477.23" cy="156.90" r="0.62"/><circle cx="475.63" cy="157.80" r="0.62"/><circle cx="477.23" cy="158.80" r="0.62"/><circle cx="475.63" cy="159.70" r="0.62"/><circle cx="477.23" cy="160.70" r="0.62"/><circle cx="479.69" cy="114.62" r="0.62"/><circle cx="481.29" cy="115.62" r="0.62"/><circle cx="479.69" cy="116.52" r="0.62"/><circle cx="481.29" cy="117.52" r="0.62"/><circle cx="479.69" cy="118.42" r="0.62"/><circle cx="481.29" cy="119.42" r="0.62"/><circle cx="479.69" cy="120.32" r="0.62"/><circle cx="481.29" cy="121.32" r="0.62"/><circle cx="479.69" cy="122.22" r="0.62"/><circle cx="481.29" cy="123.22" r="0.62"/><circle cx="479.69" cy="124.12" r="0.62"/><circle cx="481.29" cy="125.12" r="0.62"/><circle cx="479.69" cy="126.02" r="0.62"/><circle cx="481.29" cy="127.02" r="0.62"/><circle cx="479.69" cy="127.92" r="0.62"/><circle cx="481.29" cy="128.92" r="0.62"/><circle cx="479.69" cy="129.82" r="0.62"/><circle cx="481.29" cy="130.82" r="0.62"/><circle cx="479.69" cy="131.72" r="0.62"/><circle cx="481.29" cy="132.72" r="0.62"/><circle cx="479.69" cy="133.62" r="0.62"/><circle cx="481.29" cy="134.62" r="0.62"/><circle cx="479.69" cy="135.52" r="0.62"/><circle cx="481.29" cy="136.52" r="0.62"/><circle cx="479.69" cy="137.42" r="0.62"/><circle cx="481.29" cy="138.42" r="0.62"/><circle cx="479.69" cy="139.32" r="0.62"/><circle cx="481.29" cy="140.32" r="0.62"/><circle cx="479.69" cy="141.22" r="0.62"/><circle cx="481.29" cy="142.22" r="0.62"/><circle cx="479.69" cy="143.12" r="0.62"/><circle cx="481.29" cy="144.12" r="0.62"/><circle cx="479.69" cy="145.02" r="0.62"/><circle cx="481.29" cy="146.02" r="0.62"/><circle cx="479.69" cy="146.92" r="0.62"/><circle cx="481.29" cy="147.92" r="0.62"/><circle cx="479.69" cy="148.82" r="0.62"/><circle cx="481.29" cy="149.82" r="0.62"/><circle cx="479.69" cy="150.72" r="0.62"/><circle cx="481.29" cy="151.72" r="0.62"/><circle cx="479.69" cy="152.62" r="0.62"/><circle cx="481.29" cy="153.62" r="0.62"/><circle cx="479.69" cy="154.52" r="0.62"/><circle cx="481.29" cy="155.52" r="0.62"/><circle cx="479.69" cy="156.42" r="0.62"/><circle cx="481.29" cy="157.42" r="0.62"/><circle cx="479.69" cy="158.32" r="0.62"/><circle cx="481.29" cy="159.32" r="0.62"/><circle cx="479.69" cy="160.23" r="0.62"/><circle cx="481.29" cy="161.23" r="0.62"/><circle cx="483.75" cy="115.18" r="0.62"/><circle cx="485.35" cy="116.18" r="0.62"/><circle cx="483.75" cy="117.07" r="0.62"/><circle cx="485.35" cy="118.07" r="0.62"/><circle cx="483.75" cy="118.97" r="0.62"/><circle cx="485.35" cy="119.97" r="0.62"/><circle cx="483.75" cy="120.87" r="0.62"/><circle cx="485.35" cy="121.87" r="0.62"/><circle cx="483.75" cy="122.77" r="0.62"/><circle cx="485.35" cy="123.77" r="0.62"/><circle cx="483.75" cy="124.67" r="0.62"/><circle cx="485.35" cy="125.67" r="0.62"/><circle cx="483.75" cy="126.57" r="0.62"/><circle cx="485.35" cy="127.57" r="0.62"/><circle cx="483.75" cy="128.47" r="0.62"/><circle cx="485.35" cy="129.47" r="0.62"/><circle cx="483.75" cy="130.37" r="0.62"/><circle cx="485.35" cy="131.37" r="0.62"/><circle cx="483.75" cy="132.27" r="0.62"/><circle cx="485.35" cy="133.27" r="0.62"/><circle cx="483.75" cy="134.17" r="0.62"/><circle cx="485.35" cy="135.17" r="0.62"/><circle cx="483.75" cy="136.06" r="0.62"/><circle cx="485.35" cy="137.06" r="0.62"/><circle cx="483.75" cy="137.96" r="0.62"/><circle cx="485.35" cy="138.96" r="0.62"/><circle cx="483.75" cy="139.86" r="0.62"/><circle cx="485.35" cy="140.86" r="0.62"/><circle cx="483.75" cy="141.76" r="0.62"/><circle cx="485.35" cy="142.76" r="0.62"/><circle cx="483.75" cy="143.66" r="0.62"/><circle cx="485.35" cy="144.66" r="0.62"/><circle cx="483.75" cy="145.56" r="0.62"/><circle cx="485.35" cy="146.56" r="0.62"/><circle cx="483.75" cy="147.46" r="0.62"/><circle cx="485.35" cy="148.46" r="0.62"/><circle cx="483.75" cy="149.36" r="0.62"/><circle cx="485.35" cy="150.36" r="0.62"/><circle cx="483.75" cy="151.26" r="0.62"/><circle cx="485.35" cy="152.26" r="0.62"/><circle cx="483.75" cy="153.16" r="0.62"/><circle cx="485.35" cy="154.16" r="0.62"/><circle cx="483.75" cy="155.05" r="0.62"/><circle cx="485.35" cy="156.05" r="0.62"/><circle cx="483.75" cy="156.95" r="0.62"/><circle cx="485.35" cy="157.95" r="0.62"/><circle cx="483.75" cy="158.85" r="0.62"/><circle cx="485.35" cy="159.85" r="0.62"/><circle cx="483.75" cy="160.75" r="0.62"/><circle cx="485.35" cy="161.75" r="0.62"/><circle cx="487.82" cy="115.73" r="0.62"/><circle cx="489.42" cy="116.73" r="0.62"/><circle cx="487.82" cy="117.63" r="0.62"/><circle cx="489.42" cy="118.63" r="0.62"/><circle cx="487.82" cy="119.53" r="0.62"/><circle cx="489.42" cy="120.53" r="0.62"/><circle cx="487.82" cy="121.42" r="0.62"/><circle cx="489.42" cy="122.42" r="0.62"/><circle cx="487.82" cy="123.32" r="0.62"/><circle cx="489.42" cy="124.32" r="0.62"/><circle cx="487.82" cy="125.22" r="0.62"/><circle cx="489.42" cy="126.22" r="0.62"/><circle cx="487.82" cy="127.12" r="0.62"/><circle cx="489.42" cy="128.12" r="0.62"/><circle cx="487.82" cy="129.02" r="0.62"/><circle cx="489.42" cy="130.02" r="0.62"/><circle cx="487.82" cy="130.91" r="0.62"/><circle cx="489.42" cy="131.91" r="0.62"/><circle cx="487.82" cy="132.81" r="0.62"/><circle cx="489.42" cy="133.81" r="0.62"/><circle cx="487.82" cy="134.71" r="0.62"/><circle cx="489.42" cy="135.71" r="0.62"/><circle cx="487.82" cy="136.61" r="0.62"/><circle cx="489.42" cy="137.61" r="0.62"/><circle cx="487.82" cy="138.50" r="0.62"/><circle cx="489.42" cy="139.50" r="0.62"/><circle cx="487.82" cy="140.40" r="0.62"/><circle cx="489.42" cy="141.40" r="0.62"/><circle cx="487.82" cy="142.30" r="0.62"/><circle cx="489.42" cy="143.30" r="0.62"/><circle cx="487.82" cy="144.20" r="0.62"/><circle cx="489.42" cy="145.20" r="0.62"/><circle cx="487.82" cy="146.10" r="0.62"/><circle cx="489.42" cy="147.10" r="0.62"/><circle cx="487.82" cy="147.99" r="0.62"/><circle cx="489.42" cy="148.99" r="0.62"/><circle cx="487.82" cy="149.89" r="0.62"/><circle cx="489.42" cy="150.89" r="0.62"/><circle cx="487.82" cy="151.79" r="0.62"/><circle cx="489.42" cy="152.79" r="0.62"/><circle cx="487.82" cy="153.69" r="0.62"/><circle cx="489.42" cy="154.69" r="0.62"/><circle cx="487.82" cy="155.58" r="0.62"/><circle cx="489.42" cy="156.58" r="0.62"/><circle cx="487.82" cy="157.48" r="0.62"/><circle cx="489.42" cy="158.48" r="0.62"/><circle cx="487.82" cy="159.38" r="0.62"/><circle cx="489.42" cy="160.38" r="0.62"/><circle cx="487.82" cy="161.28" r="0.62"/><circle cx="489.42" cy="162.28" r="0.62"/><circle cx="491.88" cy="116.29" r="0.62"/><circle cx="493.48" cy="117.29" r="0.62"/><circle cx="491.88" cy="118.18" r="0.62"/><circle cx="493.48" cy="119.18" r="0.62"/><circle cx="491.88" cy="120.08" r="0.62"/><circle cx="493.48" cy="121.08" r="0.62"/><circle cx="491.88" cy="121.98" r="0.62"/><circle cx="493.48" cy="122.98" r="0.62"/><circle cx="491.88" cy="123.87" r="0.62"/><circle cx="493.48" cy="124.87" r="0.62"/><circle cx="491.88" cy="125.77" r="0.62"/><circle cx="493.48" cy="126.77" r="0.62"/><circle cx="491.88" cy="127.67" r="0.62"/><circle cx="493.48" cy="128.67" r="0.62"/><circle cx="491.88" cy="129.56" r="0.62"/><circle cx="493.48" cy="130.56" r="0.62"/><circle cx="491.88" cy="131.46" r="0.62"/><circle cx="493.48" cy="132.46" r="0.62"/><circle cx="491.88" cy="133.36" r="0.62"/><circle cx="493.48" cy="134.36" r="0.62"/><circle cx="491.88" cy="135.25" r="0.62"/><circle cx="493.48" cy="136.25" r="0.62"/><circle cx="491.88" cy="137.15" r="0.62"/><circle cx="493.48" cy="138.15" r="0.62"/><circle cx="491.88" cy="139.05" r="0.62"/><circle cx="493.48" cy="140.05" r="0.62"/><circle cx="491.88" cy="140.94" r="0.62"/><circle cx="493.48" cy="141.94" r="0.62"/><circle cx="491.88" cy="142.84" r="0.62"/><circle cx="493.48" cy="143.84" r="0.62"/><circle cx="491.88" cy="144.74" r="0.62"/><circle cx="493.48" cy="145.74" r="0.62"/><circle cx="491.88" cy="146.63" r="0.62"/><circle cx="493.48" cy="147.63" r="0.62"/><circle cx="491.88" cy="148.53" r="0.62"/><circle cx="493.48" cy="149.53" r="0.62"/><circle cx="491.88" cy="150.42" r="0.62"/><circle cx="493.48" cy="151.42" r="0.62"/><circle cx="491.88" cy="152.32" r="0.62"/><circle cx="493.48" cy="153.32" r="0.62"/><circle cx="491.88" cy="154.22" r="0.62"/><circle cx="493.48" cy="155.22" r="0.62"/><circle cx="491.88" cy="156.11" r="0.62"/><circle cx="493.48" cy="157.11" r="0.62"/><circle cx="491.88" cy="158.01" r="0.62"/><circle cx="493.48" cy="159.01" r="0.62"/><circle cx="491.88" cy="159.91" r="0.62"/><circle cx="493.48" cy="160.91" r="0.62"/><circle cx="491.88" cy="161.80" r="0.62"/><circle cx="493.48" cy="162.80" r="0.62"/><circle cx="495.95" cy="116.84" r="0.62"/><circle cx="497.55" cy="117.84" r="0.62"/><circle cx="495.95" cy="118.74" r="0.62"/><circle cx="497.55" cy="119.74" r="0.62"/><circle cx="495.95" cy="120.63" r="0.62"/><circle cx="497.55" cy="121.63" r="0.62"/><circle cx="495.95" cy="122.53" r="0.62"/><circle cx="497.55" cy="123.53" r="0.62"/><circle cx="495.95" cy="124.42" r="0.62"/><circle cx="497.55" cy="125.42" r="0.62"/><circle cx="495.95" cy="126.32" r="0.62"/><circle cx="497.55" cy="127.32" r="0.62"/><circle cx="495.95" cy="128.21" r="0.62"/><circle cx="497.55" cy="129.21" r="0.62"/><circle cx="495.95" cy="130.11" r="0.62"/><circle cx="497.55" cy="131.11" r="0.62"/><circle cx="495.95" cy="132.01" r="0.62"/><circle cx="497.55" cy="133.01" r="0.62"/><circle cx="495.95" cy="133.90" r="0.62"/><circle cx="497.55" cy="134.90" r="0.62"/><circle cx="495.95" cy="135.80" r="0.62"/><circle cx="497.55" cy="136.80" r="0.62"/><circle cx="495.95" cy="137.69" r="0.62"/><circle cx="497.55" cy="138.69" r="0.62"/><circle cx="495.95" cy="139.59" r="0.62"/><circle cx="497.55" cy="140.59" r="0.62"/><circle cx="495.95" cy="141.48" r="0.62"/><circle cx="497.55" cy="142.48" r="0.62"/><circle cx="495.95" cy="143.38" r="0.62"/><circle cx="497.55" cy="144.38" r="0.62"/><circle cx="495.95" cy="145.27" r="0.62"/><circle cx="497.55" cy="146.27" r="0.62"/><circle cx="495.95" cy="147.17" r="0.62"/><circle cx="497.55" cy="148.17" r="0.62"/><circle cx="495.95" cy="149.06" r="0.62"/><circle cx="497.55" cy="150.06" r="0.62"/><circle cx="495.95" cy="150.96" r="0.62"/><circle cx="497.55" cy="151.96" r="0.62"/><circle cx="495.95" cy="152.85" r="0.62"/><circle cx="497.55" cy="153.85" r="0.62"/><circle cx="495.95" cy="154.75" r="0.62"/><circle cx="497.55" cy="155.75" r="0.62"/><circle cx="495.95" cy="156.64" r="0.62"/><circle cx="497.55" cy="157.64" r="0.62"/><circle cx="495.95" cy="158.54" r="0.62"/><circle cx="497.55" cy="159.54" r="0.62"/><circle cx="495.95" cy="160.44" r="0.62"/><circle cx="497.55" cy="161.44" r="0.62"/><circle cx="495.95" cy="162.33" r="0.62"/><circle cx="497.55" cy="163.33" r="0.62"/><circle cx="500.01" cy="117.40" r="0.62"/><circle cx="501.61" cy="118.40" r="0.62"/><circle cx="500.01" cy="119.29" r="0.62"/><circle cx="501.61" cy="120.29" r="0.62"/><circle cx="500.01" cy="121.19" r="0.62"/><circle cx="501.61" cy="122.19" r="0.62"/><circle cx="500.01" cy="123.08" r="0.62"/><circle cx="501.61" cy="124.08" r="0.62"/><circle cx="500.01" cy="124.98" r="0.62"/><circle cx="501.61" cy="125.98" r="0.62"/><circle cx="500.01" cy="126.87" r="0.62"/><circle cx="501.61" cy="127.87" r="0.62"/><circle cx="500.01" cy="128.76" r="0.62"/><circle cx="501.61" cy="129.76" r="0.62"/><circle cx="500.01" cy="130.66" r="0.62"/><circle cx="501.61" cy="131.66" r="0.62"/><circle cx="500.01" cy="132.55" r="0.62"/><circle cx="501.61" cy="133.55" r="0.62"/><circle cx="500.01" cy="134.45" r="0.62"/><circle cx="501.61" cy="135.45" r="0.62"/><circle cx="500.01" cy="136.34" r="0.62"/><circle cx="501.61" cy="137.34" r="0.62"/><circle cx="500.01" cy="138.23" r="0.62"/><circle cx="501.61" cy="139.23" r="0.62"/><circle cx="500.01" cy="140.13" r="0.62"/><circle cx="501.61" cy="141.13" r="0.62"/><circle cx="500.01" cy="142.02" r="0.62"/><circle cx="501.61" cy="143.02" r="0.62"/><circle cx="500.01" cy="143.92" r="0.62"/><circle cx="501.61" cy="144.92" r="0.62"/><circle cx="500.01" cy="145.81" r="0.62"/><circle cx="501.61" cy="146.81" r="0.62"/><circle cx="500.01" cy="147.70" r="0.62"/><circle cx="501.61" cy="148.70" r="0.62"/><circle cx="500.01" cy="149.60" r="0.62"/><circle cx="501.61" cy="150.60" r="0.62"/><circle cx="500.01" cy="151.49" r="0.62"/><circle cx="501.61" cy="152.49" r="0.62"/><circle cx="500.01" cy="153.39" r="0.62"/><circle cx="501.61" cy="154.39" r="0.62"/><circle cx="500.01" cy="155.28" r="0.62"/><circle cx="501.61" cy="156.28" r="0.62"/><circle cx="500.01" cy="157.17" r="0.62"/><circle cx="501.61" cy="158.17" r="0.62"/><circle cx="500.01" cy="159.07" r="0.62"/><circle cx="501.61" cy="160.07" r="0.62"/><circle cx="500.01" cy="160.96" r="0.62"/><circle cx="501.61" cy="161.96" r="0.62"/><circle cx="500.01" cy="162.86" r="0.62"/><circle cx="501.61" cy="163.86" r="0.62"/><circle cx="504.07" cy="117.95" r="0.62"/><circle cx="505.67" cy="118.95" r="0.62"/><circle cx="504.07" cy="119.85" r="0.62"/><circle cx="505.67" cy="120.85" r="0.62"/><circle cx="504.07" cy="121.74" r="0.62"/><circle cx="505.67" cy="122.74" r="0.62"/><circle cx="504.07" cy="123.63" r="0.62"/><circle cx="505.67" cy="124.63" r="0.62"/><circle cx="504.07" cy="125.53" r="0.62"/><circle cx="505.67" cy="126.53" r="0.62"/><circle cx="504.07" cy="127.42" r="0.62"/><circle cx="505.67" cy="128.42" r="0.62"/><circle cx="504.07" cy="129.31" r="0.62"/><circle cx="505.67" cy="130.31" r="0.62"/><circle cx="504.07" cy="131.20" r="0.62"/><circle cx="505.67" cy="132.20" r="0.62"/><circle cx="504.07" cy="133.10" r="0.62"/><circle cx="505.67" cy="134.10" r="0.62"/><circle cx="504.07" cy="134.99" r="0.62"/><circle cx="505.67" cy="135.99" r="0.62"/><circle cx="504.07" cy="136.88" r="0.62"/><circle cx="505.67" cy="137.88" r="0.62"/><circle cx="504.07" cy="138.78" r="0.62"/><circle cx="505.67" cy="139.78" r="0.62"/><circle cx="504.07" cy="140.67" r="0.62"/><circle cx="505.67" cy="141.67" r="0.62"/><circle cx="504.07" cy="142.56" r="0.62"/><circle cx="505.67" cy="143.56" r="0.62"/><circle cx="504.07" cy="144.45" r="0.62"/><circle cx="505.67" cy="145.45" r="0.62"/><circle cx="504.07" cy="146.35" r="0.62"/><circle cx="505.67" cy="147.35" r="0.62"/><circle cx="504.07" cy="148.24" r="0.62"/><circle cx="505.67" cy="149.24" r="0.62"/><circle cx="504.07" cy="150.13" r="0.62"/><circle cx="505.67" cy="151.13" r="0.62"/><circle cx="504.07" cy="152.03" r="0.62"/><circle cx="505.67" cy="153.03" r="0.62"/><circle cx="504.07" cy="153.92" r="0.62"/><circle cx="505.67" cy="154.92" r="0.62"/><circle cx="504.07" cy="155.81" r="0.62"/><circle cx="505.67" cy="156.81" r="0.62"/><circle cx="504.07" cy="157.70" r="0.62"/><circle cx="505.67" cy="158.70" r="0.62"/><circle cx="504.07" cy="159.60" r="0.62"/><circle cx="505.67" cy="160.60" r="0.62"/><circle cx="504.07" cy="161.49" r="0.62"/><circle cx="505.67" cy="162.49" r="0.62"/><circle cx="504.07" cy="163.38" r="0.62"/><circle cx="505.67" cy="164.38" r="0.62"/><circle cx="508.14" cy="118.51" r="0.62"/><circle cx="509.74" cy="119.51" r="0.62"/><circle cx="508.14" cy="120.40" r="0.62"/><circle cx="509.74" cy="121.40" r="0.62"/><circle cx="508.14" cy="122.29" r="0.62"/><circle cx="509.74" cy="123.29" r="0.62"/><circle cx="508.14" cy="124.19" r="0.62"/><circle cx="509.74" cy="125.19" r="0.62"/><circle cx="508.14" cy="126.08" r="0.62"/><circle cx="509.74" cy="127.08" r="0.62"/><circle cx="508.14" cy="127.97" r="0.62"/><circle cx="509.74" cy="128.97" r="0.62"/><circle cx="508.14" cy="129.86" r="0.62"/><circle cx="509.74" cy="130.86" r="0.62"/><circle cx="508.14" cy="131.75" r="0.62"/><circle cx="509.74" cy="132.75" r="0.62"/><circle cx="508.14" cy="133.64" r="0.62"/><circle cx="509.74" cy="134.64" r="0.62"/><circle cx="508.14" cy="135.54" r="0.62"/><circle cx="509.74" cy="136.54" r="0.62"/><circle cx="508.14" cy="137.43" r="0.62"/><circle cx="509.74" cy="138.43" r="0.62"/><circle cx="508.14" cy="139.32" r="0.62"/><circle cx="509.74" cy="140.32" r="0.62"/><circle cx="508.14" cy="141.21" r="0.62"/><circle cx="509.74" cy="142.21" r="0.62"/><circle cx="508.14" cy="143.10" r="0.62"/><circle cx="509.74" cy="144.10" r="0.62"/><circle cx="508.14" cy="144.99" r="0.62"/><circle cx="509.74" cy="145.99" r="0.62"/><circle cx="508.14" cy="146.88" r="0.62"/><circle cx="509.74" cy="147.88" r="0.62"/><circle cx="508.14" cy="148.78" r="0.62"/><circle cx="509.74" cy="149.78" r="0.62"/><circle cx="508.14" cy="150.67" r="0.62"/><circle cx="509.74" cy="151.67" r="0.62"/><circle cx="508.14" cy="152.56" r="0.62"/><circle cx="509.74" cy="153.56" r="0.62"/><circle cx="508.14" cy="154.45" r="0.62"/><circle cx="509.74" cy="155.45" r="0.62"/><circle cx="508.14" cy="156.34" r="0.62"/><circle cx="509.74" cy="157.34" r="0.62"/><circle cx="508.14" cy="158.23" r="0.62"/><circle cx="509.74" cy="159.23" r="0.62"/><circle cx="508.14" cy="160.13" r="0.62"/><circle cx="509.74" cy="161.13" r="0.62"/><circle cx="508.14" cy="162.02" r="0.62"/><circle cx="509.74" cy="163.02" r="0.62"/><circle cx="508.14" cy="163.91" r="0.62"/><circle cx="509.74" cy="164.91" r="0.62"/><circle cx="512.20" cy="119.07" r="0.62"/><circle cx="513.80" cy="120.07" r="0.62"/><circle cx="512.20" cy="120.96" r="0.62"/><circle cx="513.80" cy="121.96" r="0.62"/><circle cx="512.20" cy="122.85" r="0.62"/><circle cx="513.80" cy="123.85" r="0.62"/><circle cx="512.20" cy="124.74" r="0.62"/><circle cx="513.80" cy="125.74" r="0.62"/><circle cx="512.20" cy="126.63" r="0.62"/><circle cx="513.80" cy="127.63" r="0.62"/><circle cx="512.20" cy="128.52" r="0.62"/><circle cx="513.80" cy="129.52" r="0.62"/><circle cx="512.20" cy="130.41" r="0.62"/><circle cx="513.80" cy="131.41" r="0.62"/><circle cx="512.20" cy="132.30" r="0.62"/><circle cx="513.80" cy="133.30" r="0.62"/><circle cx="512.20" cy="134.19" r="0.62"/><circle cx="513.80" cy="135.19" r="0.62"/><circle cx="512.20" cy="136.08" r="0.62"/><circle cx="513.80" cy="137.08" r="0.62"/><circle cx="512.20" cy="137.97" r="0.62"/><circle cx="513.80" cy="138.97" r="0.62"/><circle cx="512.20" cy="139.86" r="0.62"/><circle cx="513.80" cy="140.86" r="0.62"/><circle cx="512.20" cy="141.75" r="0.62"/><circle cx="513.80" cy="142.75" r="0.62"/><circle cx="512.20" cy="143.64" r="0.62"/><circle cx="513.80" cy="144.64" r="0.62"/><circle cx="512.20" cy="145.53" r="0.62"/><circle cx="513.80" cy="146.53" r="0.62"/><circle cx="512.20" cy="147.42" r="0.62"/><circle cx="513.80" cy="148.42" r="0.62"/><circle cx="512.20" cy="149.31" r="0.62"/><circle cx="513.80" cy="150.31" r="0.62"/><circle cx="512.20" cy="151.20" r="0.62"/><circle cx="513.80" cy="152.20" r="0.62"/><circle cx="512.20" cy="153.09" r="0.62"/><circle cx="513.80" cy="154.09" r="0.62"/><circle cx="512.20" cy="154.98" r="0.62"/><circle cx="513.80" cy="155.98" r="0.62"/><circle cx="512.20" cy="156.87" r="0.62"/><circle cx="513.80" cy="157.87" r="0.62"/><circle cx="512.20" cy="158.76" r="0.62"/><circle cx="513.80" cy="159.76" r="0.62"/><circle cx="512.20" cy="160.65" r="0.62"/><circle cx="513.80" cy="161.65" r="0.62"/><circle cx="512.20" cy="162.55" r="0.62"/><circle cx="513.80" cy="163.55" r="0.62"/><circle cx="512.20" cy="164.44" r="0.62"/><circle cx="513.80" cy="165.44" r="0.62"/></g>
<polygon points="292.8,156.6 304.8,153.6 309.8,164.6 295.8,170.6" fill="#b8b8cc"/>
<path d="M272.3,171.1 L284.8,165.79999999999998" stroke="#88b024" stroke-width="4.0" stroke-linecap="round"/>
<path d="M275.8,169.9 L281.8,167.4" stroke="#5c7a14" stroke-width="0.6" opacity="0.6"/>
<polygon points="284.3,163.79999999999998 289.3,157.1 294.8,170.1 285.8,167.79999999999998" fill="#88b024"/>
<ellipse cx="291.8" cy="163.6" rx="4.6" ry="7.4" fill="#88b024" transform="rotate(-30 291.8 163.6)"/>
<path d="M290.3,157.6 Q295.3,162.6 292.3,169.6" stroke="#5c7a14" stroke-width="0.7" fill="none"/>
<ellipse cx="305.5" cy="158.0" rx="6.0" ry="9.9" fill="#0a0a0a" transform="rotate(-28 305.5 158.0)"/>
<g transform="rotate(-20 305.5 158.0)"><path d="M303.3,152.8 H307.7 V163.2 H303.3 Z M303.3,158.0 H307.7" stroke="#e8e8e8" stroke-width="0.8" fill="none"/></g>
<path d="M306,148 L345.0,121.8 M309,165 L350.3,148.4" stroke="#d84040" stroke-width="0.5" fill="none"/>
<path d="M345.0,121.8 H356.8 V144.6 H345.0 Z M345.0,133.2 H356.8" stroke="#d84028" stroke-width="1.1" fill="none"/>
<circle cx="350.3" cy="148.4" r="1.1" fill="#e03020"/>
<polygon points="432.0,157.3 444.0,154.3 449.0,165.3 435.0,171.3" fill="#ffffff"/>
<path d="M411.5,171.8 L424.0,166.5" stroke="#c8e468" stroke-width="4.0" stroke-linecap="round"/>
<path d="M415.0,170.60000000000002 L421.0,168.10000000000002" stroke="#a8c848" stroke-width="0.6" opacity="0.6"/>
<polygon points="423.5,164.5 428.5,157.8 434.0,170.8 425.0,168.5" fill="#c8e468"/>
<ellipse cx="431.0" cy="164.3" rx="4.6" ry="7.4" fill="#c8e468" transform="rotate(-30 431.0 164.3)"/>
<path d="M429.5,158.3 Q434.5,163.3 431.5,170.3" stroke="#a8c848" stroke-width="0.7" fill="none"/>
<ellipse cx="445.8" cy="157.6" rx="5.8" ry="9.8" fill="#0a0a0a" transform="rotate(-28 445.8 157.6)"/>
<g transform="rotate(-20 445.8 157.6)"><path d="M443.6,152.4 H448.0 V162.79999999999998 H443.6 Z M443.6,157.6 H448.0" stroke="#e8e8e8" stroke-width="0.8" fill="none"/></g>
<path d="M430,155 L485.8,122.2 M436,171.5 L490.2,148.3" stroke="#e82020" stroke-width="0.9" fill="none"/>
<path d="M485.8,122.2 H499.4 V146.5 H485.8 Z M485.8,134.35 H499.4" stroke="#e03018" stroke-width="1.3" fill="none"/>
<circle cx="490.2" cy="148.3" r="1.1" fill="#e03020"/>
<text x="285.6" y="131.0" font-size="4.6" text-anchor="middle" fill="#f4f4f4" font-weight="normal" font-family="'Liberation Sans', Arial, sans-serif"  stroke="#f4f4f4" stroke-width="0.16">Background:</text>
<text x="285.6" y="136.0" font-size="4.6" text-anchor="middle" fill="#f4f4f4" font-family="'Liberation Sans', Arial, sans-serif" stroke="#f4f4f4" stroke-width="0.16">600 mW cm<tspan font-size="3" dy="-1.5">-2</tspan></text>
<text x="417.8" y="133.6" font-size="4.6" text-anchor="middle" fill="#222" font-weight="normal" font-family="'Liberation Sans', Arial, sans-serif"  stroke="#222" stroke-width="0.16">Background:</text>
<text x="417.8" y="138.6" font-size="4.6" text-anchor="middle" fill="#222" font-family="'Liberation Sans', Arial, sans-serif" stroke="#222" stroke-width="0.16">6 mW cm<tspan font-size="3" dy="-1.5">-2</tspan></text>
<text x="296.2" y="179.1" font-size="4.8" text-anchor="middle" fill="#f4f4f4" font-family="'Liberation Sans', Arial, sans-serif" stroke="#f4f4f4" stroke-width="0.16">Light: 6 μW cm<tspan font-size="3" dy="-1.5">-2</tspan></text>
<text x="439.2" y="178.6" font-size="4.7" text-anchor="middle" fill="#222" font-family="'Liberation Sans', Arial, sans-serif" stroke="#222" stroke-width="0.16">Light: 60 mW cm<tspan font-size="3" dy="-1.5">-2</tspan></text>
<text x="350.3" y="172.0" font-size="4.8" text-anchor="middle" fill="#f4f4f4" font-family="'Liberation Sans', Arial, sans-serif" stroke="#f4f4f4" stroke-width="0.16">V<tspan font-size="3" dy="0.8">G</tspan><tspan dy="-0.8"> = -2 V</tspan></text>
<text x="488.0" y="171.6" font-size="4.8" text-anchor="middle" fill="#222" font-family="'Liberation Sans', Arial, sans-serif" stroke="#222" stroke-width="0.16">V<tspan font-size="3" dy="0.8">G</tspan><tspan dy="-0.8"> = +4 V</tspan></text>
<text x="246.0" y="193.4" font-size="13.4" text-anchor="start" fill="#111" font-weight="normal" font-family="'Liberation Serif', 'Times New Roman', serif" stroke="#111" stroke-width="0.1">(e)</text>
<text x="247.6" y="253.4" font-size="13.4" text-anchor="start" fill="#111" font-weight="normal" font-family="'Liberation Serif', 'Times New Roman', serif" stroke="#111" stroke-width="0.1">(f)</text>
<rect x="262.5" y="193.4" width="49.2" height="44.5" fill="#000000" shape-rendering="crispEdges"/>
<rect x="312.2" y="193.4" width="49.2" height="44.5" fill="#080000" shape-rendering="crispEdges"/>
<rect x="324.4" y="199.0" width="24.400000000000034" height="38.099999999999994" fill="#4a0606" shape-rendering="crispEdges"/>
<rect x="330.59999999999997" y="205.3" width="12.600000000000023" height="10.8" fill="#0a0000" shape-rendering="crispEdges"/>
<rect x="330.59999999999997" y="220.6" width="12.600000000000023" height="10.4" fill="#0a0000" shape-rendering="crispEdges"/>
<rect x="362.0" y="193.4" width="49.2" height="44.5" fill="#080000" shape-rendering="crispEdges"/>
<rect x="374.2" y="199.0" width="24.400000000000034" height="38.099999999999994" fill="#a00c0c" shape-rendering="crispEdges"/>
<rect x="380.4" y="205.3" width="12.600000000000023" height="10.8" fill="#0c0000" shape-rendering="crispEdges"/>
<rect x="380.4" y="220.6" width="12.600000000000023" height="10.4" fill="#0c0000" shape-rendering="crispEdges"/>
<rect x="411.8" y="193.4" width="49.2" height="44.5" fill="#060000" shape-rendering="crispEdges"/>
<rect x="424.0" y="199.0" width="24.400000000000034" height="38.099999999999994" fill="#c80e0e" shape-rendering="crispEdges"/>
<rect x="430.2" y="205.3" width="12.600000000000023" height="10.8" fill="#0a0000" shape-rendering="crispEdges"/>
<rect x="430.2" y="220.6" width="12.600000000000023" height="10.4" fill="#0a0000" shape-rendering="crispEdges"/>
<rect x="461.6" y="193.4" width="49.2" height="44.5" fill="#050000" shape-rendering="crispEdges"/>
<rect x="473.8" y="199.0" width="24.400000000000034" height="38.099999999999994" fill="#f01010" shape-rendering="crispEdges"/>
<rect x="480.0" y="205.3" width="12.600000000000023" height="10.8" fill="#060000" shape-rendering="crispEdges"/>
<rect x="480.0" y="220.6" width="12.600000000000023" height="10.4" fill="#060000" shape-rendering="crispEdges"/>
<rect x="262.5" y="256.0" width="49.2" height="43.69999999999999" fill="#ff1010" shape-rendering="crispEdges"/>
<rect x="312.2" y="256.0" width="49.2" height="43.69999999999999" fill="#b80c0c" shape-rendering="crispEdges"/>
<rect x="312.20" y="256.00" width="6.25" height="6.34" fill="#c01010" shape-rendering="crispEdges"/>
<rect x="312.20" y="262.24" width="6.25" height="6.34" fill="#b40e0e" shape-rendering="crispEdges"/>
<rect x="312.20" y="268.49" width="6.25" height="6.34" fill="#b40e0e" shape-rendering="crispEdges"/>
<rect x="312.20" y="274.73" width="6.25" height="6.34" fill="#c01010" shape-rendering="crispEdges"/>
<rect x="312.20" y="280.97" width="6.25" height="6.34" fill="#a00a0a" shape-rendering="crispEdges"/>
<rect x="312.20" y="287.21" width="6.25" height="6.34" fill="#b40e0e" shape-rendering="crispEdges"/>
<rect x="312.20" y="293.46" width="6.25" height="6.34" fill="#c81212" shape-rendering="crispEdges"/>
<rect x="318.35" y="256.00" width="6.25" height="6.34" fill="#b40e0e" shape-rendering="crispEdges"/>
<rect x="318.35" y="262.24" width="6.25" height="6.34" fill="#b00c0c" shape-rendering="crispEdges"/>
<rect x="318.35" y="268.49" width="6.25" height="6.34" fill="#b40e0e" shape-rendering="crispEdges"/>
<rect x="318.35" y="274.73" width="6.25" height="6.34" fill="#b00c0c" shape-rendering="crispEdges"/>
<rect x="318.35" y="280.97" width="6.25" height="6.34" fill="#c81212" shape-rendering="crispEdges"/>
<rect x="318.35" y="287.21" width="6.25" height="6.34" fill="#a00a0a" shape-rendering="crispEdges"/>
<rect x="318.35" y="293.46" width="6.25" height="6.34" fill="#b40e0e" shape-rendering="crispEdges"/>
<rect x="324.50" y="256.00" width="6.25" height="6.34" fill="#c01010" shape-rendering="crispEdges"/>
<rect x="324.50" y="262.24" width="6.25" height="6.34" fill="#c01010" shape-rendering="crispEdges"/>
<rect x="324.50" y="268.49" width="6.25" height="6.34" fill="#c81212" shape-rendering="crispEdges"/>
<rect x="324.50" y="274.73" width="6.25" height="6.34" fill="#b40e0e" shape-rendering="crispEdges"/>
<rect x="324.50" y="280.97" width="6.25" height="6.34" fill="#b40e0e" shape-rendering="crispEdges"/>
<rect x="324.50" y="287.21" width="6.25" height="6.34" fill="#c81212" shape-rendering="crispEdges"/>
<rect x="324.50" y="293.46" width="6.25" height="6.34" fill="#c81212" shape-rendering="crispEdges"/>
<rect x="330.65" y="256.00" width="6.25" height="6.34" fill="#c01010" shape-rendering="crispEdges"/>
<rect x="330.65" y="262.24" width="6.25" height="6.34" fill="#c01010" shape-rendering="crispEdges"/>
<rect x="330.65" y="268.49" width="6.25" height="6.34" fill="#c01010" shape-rendering="crispEdges"/>
<rect x="330.65" y="274.73" width="6.25" height="6.34" fill="#b40e0e" shape-rendering="crispEdges"/>
<rect x="330.65" y="280.97" width="6.25" height="6.34" fill="#c81212" shape-rendering="crispEdges"/>
<rect x="330.65" y="287.21" width="6.25" height="6.34" fill="#b00c0c" shape-rendering="crispEdges"/>
<rect x="330.65" y="293.46" width="6.25" height="6.34" fill="#b00c0c" shape-rendering="crispEdges"/>
<rect x="336.80" y="256.00" width="6.25" height="6.34" fill="#c01010" shape-rendering="crispEdges"/>
<rect x="336.80" y="262.24" width="6.25" height="6.34" fill="#b40e0e" shape-rendering="crispEdges"/>
<rect x="336.80" y="268.49" width="6.25" height="6.34" fill="#b00c0c" shape-rendering="crispEdges"/>
<rect x="336.80" y="274.73" width="6.25" height="6.34" fill="#a00a0a" shape-rendering="crispEdges"/>
<rect x="336.80" y="280.97" width="6.25" height="6.34" fill="#b00c0c" shape-rendering="crispEdges"/>
<rect x="336.80" y="287.21" width="6.25" height="6.34" fill="#a00a0a" shape-rendering="crispEdges"/>
<rect x="336.80" y="293.46" width="6.25" height="6.34" fill="#c81212" shape-rendering="crispEdges"/>
<rect x="342.95" y="256.00" width="6.25" height="6.34" fill="#b40e0e" shape-rendering="crispEdges"/>
<rect x="342.95" y="262.24" width="6.25" height="6.34" fill="#c81212" shape-rendering="crispEdges"/>
<rect x="342.95" y="268.49" width="6.25" height="6.34" fill="#c81212" shape-rendering="crispEdges"/>
<rect x="342.95" y="274.73" width="6.25" height="6.34" fill="#c81212" shape-rendering="crispEdges"/>
<rect x="342.95" y="280.97" width="6.25" height="6.34" fill="#b40e0e" shape-rendering="crispEdges"/>
<rect x="342.95" y="287.21" width="6.25" height="6.34" fill="#c81212" shape-rendering="crispEdges"/>
<rect x="342.95" y="293.46" width="6.25" height="6.34" fill="#c01010" shape-rendering="crispEdges"/>
<rect x="349.10" y="256.00" width="6.25" height="6.34" fill="#a00a0a" shape-rendering="crispEdges"/>
<rect x="349.10" y="262.24" width="6.25" height="6.34" fill="#b00c0c" shape-rendering="crispEdges"/>
<rect x="349.10" y="268.49" width="6.25" height="6.34" fill="#b00c0c" shape-rendering="crispEdges"/>
<rect x="349.10" y="274.73" width="6.25" height="6.34" fill="#c01010" shape-rendering="crispEdges"/>
<rect x="349.10" y="280.97" width="6.25" height="6.34" fill="#c81212" shape-rendering="crispEdges"/>
<rect x="349.10" y="287.21" width="6.25" height="6.34" fill="#c01010" shape-rendering="crispEdges"/>
<rect x="349.10" y="293.46" width="6.25" height="6.34" fill="#a00a0a" shape-rendering="crispEdges"/>
<rect x="355.25" y="256.00" width="6.25" height="6.34" fill="#c81212" shape-rendering="crispEdges"/>
<rect x="355.25" y="262.24" width="6.25" height="6.34" fill="#a00a0a" shape-rendering="crispEdges"/>
<rect x="355.25" y="268.49" width="6.25" height="6.34" fill="#c81212" shape-rendering="crispEdges"/>
<rect x="355.25" y="274.73" width="6.25" height="6.34" fill="#b40e0e" shape-rendering="crispEdges"/>
<rect x="355.25" y="280.97" width="6.25" height="6.34" fill="#c81212" shape-rendering="crispEdges"/>
<rect x="355.25" y="287.21" width="6.25" height="6.34" fill="#b40e0e" shape-rendering="crispEdges"/>
<rect x="355.25" y="293.46" width="6.25" height="6.34" fill="#a00a0a" shape-rendering="crispEdges"/>
<rect x="324.4" y="261.6" width="24.400000000000034" height="37.299999999999955" fill="#ff1a1a" shape-rendering="crispEdges"/>
<rect x="330.59999999999997" y="267.90000000000003" width="12.600000000000023" height="10.8" fill="#a80a0a" shape-rendering="crispEdges"/>
<rect x="330.59999999999997" y="283.20000000000005" width="12.600000000000023" height="10.4" fill="#a80a0a" shape-rendering="crispEdges"/>
<rect x="362.0" y="256.0" width="49.2" height="43.69999999999999" fill="#800808" shape-rendering="crispEdges"/>
<rect x="362.00" y="256.00" width="6.25" height="6.34" fill="#500404" shape-rendering="crispEdges"/>
<rect x="362.00" y="262.24" width="6.25" height="6.34" fill="#500404" shape-rendering="crispEdges"/>
<rect x="362.00" y="268.49" width="6.25" height="6.34" fill="#800808" shape-rendering="crispEdges"/>
<rect x="362.00" y="274.73" width="6.25" height="6.34" fill="#500404" shape-rendering="crispEdges"/>
<rect x="362.00" y="280.97" width="6.25" height="6.34" fill="#900808" shape-rendering="crispEdges"/>
<rect x="362.00" y="287.21" width="6.25" height="6.34" fill="#600404" shape-rendering="crispEdges"/>
<rect x="362.00" y="293.46" width="6.25" height="6.34" fill="#700606" shape-rendering="crispEdges"/>
<rect x="368.15" y="256.00" width="6.25" height="6.34" fill="#600404" shape-rendering="crispEdges"/>
<rect x="368.15" y="262.24" width="6.25" height="6.34" fill="#500404" shape-rendering="crispEdges"/>
<rect x="368.15" y="268.49" width="6.25" height="6.34" fill="#900808" shape-rendering="crispEdges"/>
<rect x="368.15" y="274.73" width="6.25" height="6.34" fill="#600404" shape-rendering="crispEdges"/>
<rect x="368.15" y="280.97" width="6.25" height="6.34" fill="#500404" shape-rendering="crispEdges"/>
<rect x="368.15" y="287.21" width="6.25" height="6.34" fill="#500404" shape-rendering="crispEdges"/>
<rect x="368.15" y="293.46" width="6.25" height="6.34" fill="#500404" shape-rendering="crispEdges"/>
<rect x="374.30" y="256.00" width="6.25" height="6.34" fill="#700606" shape-rendering="crispEdges"/>
<rect x="374.30" y="262.24" width="6.25" height="6.34" fill="#900808" shape-rendering="crispEdges"/>
<rect x="374.30" y="268.49" width="6.25" height="6.34" fill="#500404" shape-rendering="crispEdges"/>
<rect x="374.30" y="274.73" width="6.25" height="6.34" fill="#600404" shape-rendering="crispEdges"/>
<rect x="374.30" y="280.97" width="6.25" height="6.34" fill="#600404" shape-rendering="crispEdges"/>
<rect x="374.30" y="287.21" width="6.25" height="6.34" fill="#700606" shape-rendering="crispEdges"/>
<rect x="374.30" y="293.46" width="6.25" height="6.34" fill="#700606" shape-rendering="crispEdges"/>
<rect x="380.45" y="256.00" width="6.25" height="6.34" fill="#800808" shape-rendering="crispEdges"/>
<rect x="380.45" y="262.24" width="6.25" height="6.34" fill="#800808" shape-rendering="crispEdges"/>
<rect x="380.45" y="268.49" width="6.25" height="6.34" fill="#700606" shape-rendering="crispEdges"/>
<rect x="380.45" y="274.73" width="6.25" height="6.34" fill="#600404" shape-rendering="crispEdges"/>
<rect x="380.45" y="280.97" width="6.25" height="6.34" fill="#700606" shape-rendering="crispEdges"/>
<rect x="380.45" y="287.21" width="6.25" height="6.34" fill="#800808" shape-rendering="crispEdges"/>
<rect x="380.45" y="293.46" width="6.25" height="6.34" fill="#900808" shape-rendering="crispEdges"/>
<rect x="386.60" y="256.00" width="6.25" height="6.34" fill="#700606" shape-rendering="crispEdges"/>
<rect x="386.60" y="262.24" width="6.25" height="6.34" fill="#600404" shape-rendering="crispEdges"/>
<rect x="386.60" y="268.49" width="6.25" height="6.34" fill="#800808" shape-rendering="crispEdges"/>
<rect x="386.60" y="274.73" width="6.25" height="6.34" fill="#800808" shape-rendering="crispEdges"/>
<rect x="386.60" y="280.97" width="6.25" height="6.34" fill="#700606" shape-rendering="crispEdges"/>
<rect x="386.60" y="287.21" width="6.25" height="6.34" fill="#700606" shape-rendering="crispEdges"/>
<rect x="386.60" y="293.46" width="6.25" height="6.34" fill="#500404" shape-rendering="crispEdges"/>
<rect x="392.75" y="256.00" width="6.25" height="6.34" fill="#500404" shape-rendering="crispEdges"/>
<rect x="392.75" y="262.24" width="6.25" height="6.34" fill="#700606" shape-rendering="crispEdges"/>
<rect x="392.75" y="268.49" width="6.25" height="6.34" fill="#800808" shape-rendering="crispEdges"/>
<rect x="392.75" y="274.73" width="6.25" height="6.34" fill="#500404" shape-rendering="crispEdges"/>
<rect x="392.75" y="280.97" width="6.25" height="6.34" fill="#600404" shape-rendering="crispEdges"/>
<rect x="392.75" y="287.21" width="6.25" height="6.34" fill="#500404" shape-rendering="crispEdges"/>
<rect x="392.75" y="293.46" width="6.25" height="6.34" fill="#600404" shape-rendering="crispEdges"/>
<rect x="398.90" y="256.00" width="6.25" height="6.34" fill="#500404" shape-rendering="crispEdges"/>
<rect x="398.90" y="262.24" width="6.25" height="6.34" fill="#900808" shape-rendering="crispEdges"/>
<rect x="398.90" y="268.49" width="6.25" height="6.34" fill="#700606" shape-rendering="crispEdges"/>
<rect x="398.90" y="274.73" width="6.25" height="6.34" fill="#600404" shape-rendering="crispEdges"/>
<rect x="398.90" y="280.97" width="6.25" height="6.34" fill="#700606" shape-rendering="crispEdges"/>
<rect x="398.90" y="287.21" width="6.25" height="6.34" fill="#700606" shape-rendering="crispEdges"/>
<rect x="398.90" y="293.46" width="6.25" height="6.34" fill="#700606" shape-rendering="crispEdges"/>
<rect x="405.05" y="256.00" width="6.25" height="6.34" fill="#500404" shape-rendering="crispEdges"/>
<rect x="405.05" y="262.24" width="6.25" height="6.34" fill="#500404" shape-rendering="crispEdges"/>
<rect x="405.05" y="268.49" width="6.25" height="6.34" fill="#700606" shape-rendering="crispEdges"/>
<rect x="405.05" y="274.73" width="6.25" height="6.34" fill="#900808" shape-rendering="crispEdges"/>
<rect x="405.05" y="280.97" width="6.25" height="6.34" fill="#800808" shape-rendering="crispEdges"/>
<rect x="405.05" y="287.21" width="6.25" height="6.34" fill="#600404" shape-rendering="crispEdges"/>
<rect x="405.05" y="293.46" width="6.25" height="6.34" fill="#500404" shape-rendering="crispEdges"/>
<rect x="374.2" y="261.6" width="24.400000000000034" height="37.299999999999955" fill="#ff1a1a" shape-rendering="crispEdges"/>
<rect x="380.4" y="267.90000000000003" width="12.600000000000023" height="10.8" fill="#700606" shape-rendering="crispEdges"/>
<rect x="380.4" y="283.20000000000005" width="12.600000000000023" height="10.4" fill="#700606" shape-rendering="crispEdges"/>
<rect x="411.8" y="256.0" width="49.2" height="43.69999999999999" fill="#500404" shape-rendering="crispEdges"/>
<rect x="411.80" y="256.00" width="6.25" height="6.34" fill="#600505" shape-rendering="crispEdges"/>
<rect x="411.80" y="262.24" width="6.25" height="6.34" fill="#700606" shape-rendering="crispEdges"/>
<rect x="411.80" y="268.49" width="6.25" height="6.34" fill="#500404" shape-rendering="crispEdges"/>
<rect x="411.80" y="274.73" width="6.25" height="6.34" fill="#600505" shape-rendering="crispEdges"/>
<rect x="411.80" y="280.97" width="6.25" height="6.34" fill="#600505" shape-rendering="crispEdges"/>
<rect x="411.80" y="287.21" width="6.25" height="6.34" fill="#600505" shape-rendering="crispEdges"/>
<rect x="411.80" y="293.46" width="6.25" height="6.34" fill="#700606" shape-rendering="crispEdges"/>
<rect x="417.95" y="256.00" width="6.25" height="6.34" fill="#380202" shape-rendering="crispEdges"/>
<rect x="417.95" y="262.24" width="6.25" height="6.34" fill="#380202" shape-rendering="crispEdges"/>
<rect x="417.95" y="268.49" width="6.25" height="6.34" fill="#380202" shape-rendering="crispEdges"/>
<rect x="417.95" y="274.73" width="6.25" height="6.34" fill="#800808" shape-rendering="crispEdges"/>
<rect x="417.95" y="280.97" width="6.25" height="6.34" fill="#380202" shape-rendering="crispEdges"/>
<rect x="417.95" y="287.21" width="6.25" height="6.34" fill="#800808" shape-rendering="crispEdges"/>
<rect x="417.95" y="293.46" width="6.25" height="6.34" fill="#800808" shape-rendering="crispEdges"/>
<rect x="424.10" y="256.00" width="6.25" height="6.34" fill="#500404" shape-rendering="crispEdges"/>
<rect x="424.10" y="262.24" width="6.25" height="6.34" fill="#800808" shape-rendering="crispEdges"/>
<rect x="424.10" y="268.49" width="6.25" height="6.34" fill="#800808" shape-rendering="crispEdges"/>
<rect x="424.10" y="274.73" width="6.25" height="6.34" fill="#600505" shape-rendering="crispEdges"/>
<rect x="424.10" y="280.97" width="6.25" height="6.34" fill="#380202" shape-rendering="crispEdges"/>
<rect x="424.10" y="287.21" width="6.25" height="6.34" fill="#700606" shape-rendering="crispEdges"/>
<rect x="424.10" y="293.46" width="6.25" height="6.34" fill="#600505" shape-rendering="crispEdges"/>
<rect x="430.25" y="256.00" width="6.25" height="6.34" fill="#380202" shape-rendering="crispEdges"/>
<rect x="430.25" y="262.24" width="6.25" height="6.34" fill="#600505" shape-rendering="crispEdges"/>
<rect x="430.25" y="268.49" width="6.25" height="6.34" fill="#800808" shape-rendering="crispEdges"/>
<rect x="430.25" y="274.73" width="6.25" height="6.34" fill="#600505" shape-rendering="crispEdges"/>
<rect x="430.25" y="280.97" width="6.25" height="6.34" fill="#800808" shape-rendering="crispEdges"/>
<rect x="430.25" y="287.21" width="6.25" height="6.34" fill="#600505" shape-rendering="crispEdges"/>
<rect x="430.25" y="293.46" width="6.25" height="6.34" fill="#500404" shape-rendering="crispEdges"/>
<rect x="436.40" y="256.00" width="6.25" height="6.34" fill="#380202" shape-rendering="crispEdges"/>
<rect x="436.40" y="262.24" width="6.25" height="6.34" fill="#800808" shape-rendering="crispEdges"/>
<rect x="436.40" y="268.49" width="6.25" height="6.34" fill="#600505" shape-rendering="crispEdges"/>
<rect x="436.40" y="274.73" width="6.25" height="6.34" fill="#500404" shape-rendering="crispEdges"/>
<rect x="436.40" y="280.97" width="6.25" height="6.34" fill="#380202" shape-rendering="crispEdges"/>
<rect x="436.40" y="287.21" width="6.25" height="6.34" fill="#800808" shape-rendering="crispEdges"/>
<rect x="436.40" y="293.46" width="6.25" height="6.34" fill="#800808" shape-rendering="crispEdges"/>
<rect x="442.55" y="256.00" width="6.25" height="6.34" fill="#700606" shape-rendering="crispEdges"/>
<rect x="442.55" y="262.24" width="6.25" height="6.34" fill="#500404" shape-rendering="crispEdges"/>
<rect x="442.55" y="268.49" width="6.25" height="6.34" fill="#600505" shape-rendering="crispEdges"/>
<rect x="442.55" y="274.73" width="6.25" height="6.34" fill="#380202" shape-rendering="crispEdges"/>
<rect x="442.55" y="280.97" width="6.25" height="6.34" fill="#600505" shape-rendering="crispEdges"/>
<rect x="442.55" y="287.21" width="6.25" height="6.34" fill="#600505" shape-rendering="crispEdges"/>
<rect x="442.55" y="293.46" width="6.25" height="6.34" fill="#800808" shape-rendering="crispEdges"/>
<rect x="448.70" y="256.00" width="6.25" height="6.34" fill="#600505" shape-rendering="crispEdges"/>
<rect x="448.70" y="262.24" width="6.25" height="6.34" fill="#380202" shape-rendering="crispEdges"/>
<rect x="448.70" y="268.49" width="6.25" height="6.34" fill="#500404" shape-rendering="crispEdges"/>
<rect x="448.70" y="274.73" width="6.25" height="6.34" fill="#800808" shape-rendering="crispEdges"/>
<rect x="448.70" y="280.97" width="6.25" height="6.34" fill="#500404" shape-rendering="crispEdges"/>
<rect x="448.70" y="287.21" width="6.25" height="6.34" fill="#500404" shape-rendering="crispEdges"/>
<rect x="448.70" y="293.46" width="6.25" height="6.34" fill="#600505" shape-rendering="crispEdges"/>
<rect x="454.85" y="256.00" width="6.25" height="6.34" fill="#600505" shape-rendering="crispEdges"/>
<rect x="454.85" y="262.24" width="6.25" height="6.34" fill="#380202" shape-rendering="crispEdges"/>
<rect x="454.85" y="268.49" width="6.25" height="6.34" fill="#600505" shape-rendering="crispEdges"/>
<rect x="454.85" y="274.73" width="6.25" height="6.34" fill="#800808" shape-rendering="crispEdges"/>
<rect x="454.85" y="280.97" width="6.25" height="6.34" fill="#800808" shape-rendering="crispEdges"/>
<rect x="454.85" y="287.21" width="6.25" height="6.34" fill="#600505" shape-rendering="crispEdges"/>
<rect x="454.85" y="293.46" width="6.25" height="6.34" fill="#700606" shape-rendering="crispEdges"/>
<rect x="424.0" y="261.6" width="24.400000000000034" height="37.299999999999955" fill="#ff1616" shape-rendering="crispEdges"/>
<rect x="430.2" y="267.90000000000003" width="12.600000000000023" height="10.8" fill="#400303" shape-rendering="crispEdges"/>
<rect x="430.2" y="283.20000000000005" width="12.600000000000023" height="10.4" fill="#400303" shape-rendering="crispEdges"/>
<rect x="461.6" y="256.0" width="49.2" height="43.69999999999999" fill="#400303" shape-rendering="crispEdges"/>
<rect x="461.60" y="256.00" width="6.25" height="6.34" fill="#200101" shape-rendering="crispEdges"/>
<rect x="461.60" y="262.24" width="6.25" height="6.34" fill="#500404" shape-rendering="crispEdges"/>
<rect x="461.60" y="268.49" width="6.25" height="6.34" fill="#200101" shape-rendering="crispEdges"/>
<rect x="461.60" y="274.73" width="6.25" height="6.34" fill="#200101" shape-rendering="crispEdges"/>
<rect x="461.60" y="280.97" width="6.25" height="6.34" fill="#5a0505" shape-rendering="crispEdges"/>
<rect x="461.60" y="287.21" width="6.25" height="6.34" fill="#200101" shape-rendering="crispEdges"/>
<rect x="461.60" y="293.46" width="6.25" height="6.34" fill="#200101" shape-rendering="crispEdges"/>
<rect x="467.75" y="256.00" width="6.25" height="6.34" fill="#400303" shape-rendering="crispEdges"/>
<rect x="467.75" y="262.24" width="6.25" height="6.34" fill="#300202" shape-rendering="crispEdges"/>
<rect x="467.75" y="268.49" width="6.25" height="6.34" fill="#300202" shape-rendering="crispEdges"/>
<rect x="467.75" y="274.73" width="6.25" height="6.34" fill="#5a0505" shape-rendering="crispEdges"/>
<rect x="467.75" y="280.97" width="6.25" height="6.34" fill="#500404" shape-rendering="crispEdges"/>
<rect x="467.75" y="287.21" width="6.25" height="6.34" fill="#200101" shape-rendering="crispEdges"/>
<rect x="467.75" y="293.46" width="6.25" height="6.34" fill="#5a0505" shape-rendering="crispEdges"/>
<rect x="473.90" y="256.00" width="6.25" height="6.34" fill="#500404" shape-rendering="crispEdges"/>
<rect x="473.90" y="262.24" width="6.25" height="6.34" fill="#200101" shape-rendering="crispEdges"/>
<rect x="473.90" y="268.49" width="6.25" height="6.34" fill="#500404" shape-rendering="crispEdges"/>
<rect x="473.90" y="274.73" width="6.25" height="6.34" fill="#200101" shape-rendering="crispEdges"/>
<rect x="473.90" y="280.97" width="6.25" height="6.34" fill="#500404" shape-rendering="crispEdges"/>
<rect x="473.90" y="287.21" width="6.25" height="6.34" fill="#400303" shape-rendering="crispEdges"/>
<rect x="473.90" y="293.46" width="6.25" height="6.34" fill="#300202" shape-rendering="crispEdges"/>
<rect x="480.05" y="256.00" width="6.25" height="6.34" fill="#300202" shape-rendering="crispEdges"/>
<rect x="480.05" y="262.24" width="6.25" height="6.34" fill="#5a0505" shape-rendering="crispEdges"/>
<rect x="480.05" y="268.49" width="6.25" height="6.34" fill="#200101" shape-rendering="crispEdges"/>
<rect x="480.05" y="274.73" width="6.25" height="6.34" fill="#200101" shape-rendering="crispEdges"/>
<rect x="480.05" y="280.97" width="6.25" height="6.34" fill="#500404" shape-rendering="crispEdges"/>
<rect x="480.05" y="287.21" width="6.25" height="6.34" fill="#400303" shape-rendering="crispEdges"/>
<rect x="480.05" y="293.46" width="6.25" height="6.34" fill="#500404" shape-rendering="crispEdges"/>
<rect x="486.20" y="256.00" width="6.25" height="6.34" fill="#300202" shape-rendering="crispEdges"/>
<rect x="486.20" y="262.24" width="6.25" height="6.34" fill="#200101" shape-rendering="crispEdges"/>
<rect x="486.20" y="268.49" width="6.25" height="6.34" fill="#500404" shape-rendering="crispEdges"/>
<rect x="486.20" y="274.73" width="6.25" height="6.34" fill="#5a0505" shape-rendering="crispEdges"/>
<rect x="486.20" y="280.97" width="6.25" height="6.34" fill="#400303" shape-rendering="crispEdges"/>
<rect x="486.20" y="287.21" width="6.25" height="6.34" fill="#200101" shape-rendering="crispEdges"/>
<rect x="486.20" y="293.46" width="6.25" height="6.34" fill="#500404" shape-rendering="crispEdges"/>
<rect x="492.35" y="256.00" width="6.25" height="6.34" fill="#300202" shape-rendering="crispEdges"/>
<rect x="492.35" y="262.24" width="6.25" height="6.34" fill="#300202" shape-rendering="crispEdges"/>
<rect x="492.35" y="268.49" width="6.25" height="6.34" fill="#5a0505" shape-rendering="crispEdges"/>
<rect x="492.35" y="274.73" width="6.25" height="6.34" fill="#500404" shape-rendering="crispEdges"/>
<rect x="492.35" y="280.97" width="6.25" height="6.34" fill="#200101" shape-rendering="crispEdges"/>
<rect x="492.35" y="287.21" width="6.25" height="6.34" fill="#5a0505" shape-rendering="crispEdges"/>
<rect x="492.35" y="293.46" width="6.25" height="6.34" fill="#500404" shape-rendering="crispEdges"/>
<rect x="498.50" y="256.00" width="6.25" height="6.34" fill="#200101" shape-rendering="crispEdges"/>
<rect x="498.50" y="262.24" width="6.25" height="6.34" fill="#200101" shape-rendering="crispEdges"/>
<rect x="498.50" y="268.49" width="6.25" height="6.34" fill="#300202" shape-rendering="crispEdges"/>
<rect x="498.50" y="274.73" width="6.25" height="6.34" fill="#5a0505" shape-rendering="crispEdges"/>
<rect x="498.50" y="280.97" width="6.25" height="6.34" fill="#200101" shape-rendering="crispEdges"/>
<rect x="498.50" y="287.21" width="6.25" height="6.34" fill="#5a0505" shape-rendering="crispEdges"/>
<rect x="498.50" y="293.46" width="6.25" height="6.34" fill="#500404" shape-rendering="crispEdges"/>
<rect x="504.65" y="256.00" width="6.25" height="6.34" fill="#400303" shape-rendering="crispEdges"/>
<rect x="504.65" y="262.24" width="6.25" height="6.34" fill="#200101" shape-rendering="crispEdges"/>
<rect x="504.65" y="268.49" width="6.25" height="6.34" fill="#5a0505" shape-rendering="crispEdges"/>
<rect x="504.65" y="274.73" width="6.25" height="6.34" fill="#200101" shape-rendering="crispEdges"/>
<rect x="504.65" y="280.97" width="6.25" height="6.34" fill="#400303" shape-rendering="crispEdges"/>
<rect x="504.65" y="287.21" width="6.25" height="6.34" fill="#200101" shape-rendering="crispEdges"/>
<rect x="504.65" y="293.46" width="6.25" height="6.34" fill="#400303" shape-rendering="crispEdges"/>
<rect x="473.8" y="261.6" width="24.400000000000034" height="37.299999999999955" fill="#ff1414" shape-rendering="crispEdges"/>
<rect x="480.0" y="267.90000000000003" width="12.600000000000023" height="10.8" fill="#2a0202" shape-rendering="crispEdges"/>
<rect x="480.0" y="283.20000000000005" width="12.600000000000023" height="10.4" fill="#2a0202" shape-rendering="crispEdges"/>
<line x1="311.95" y1="193.4" x2="311.95" y2="237.9" stroke="#a8a8a8" stroke-width="0.7" />
<line x1="311.95" y1="256.0" x2="311.95" y2="299.7" stroke="#a8a8a8" stroke-width="0.7" />
<line x1="361.75" y1="193.4" x2="361.75" y2="237.9" stroke="#a8a8a8" stroke-width="0.7" />
<line x1="361.75" y1="256.0" x2="361.75" y2="299.7" stroke="#a8a8a8" stroke-width="0.7" />
<line x1="411.55" y1="193.4" x2="411.55" y2="237.9" stroke="#a8a8a8" stroke-width="0.7" />
<line x1="411.55" y1="256.0" x2="411.55" y2="299.7" stroke="#a8a8a8" stroke-width="0.7" />
<line x1="461.35" y1="193.4" x2="461.35" y2="237.9" stroke="#a8a8a8" stroke-width="0.7" />
<line x1="461.35" y1="256.0" x2="461.35" y2="299.7" stroke="#a8a8a8" stroke-width="0.7" />
<text x="287.1" y="242.9" font-size="4.1" text-anchor="middle" fill="#111" font-weight="bold" font-family="'Liberation Sans', Arial, sans-serif"  stroke="#111" stroke-width="0.16">0 s</text>
<text x="287.1" y="304.6" font-size="4.1" text-anchor="middle" fill="#111" font-weight="bold" font-family="'Liberation Sans', Arial, sans-serif"  stroke="#111" stroke-width="0.16">0 s</text>
<text x="336.8" y="242.9" font-size="4.1" text-anchor="middle" fill="#111" font-weight="bold" font-family="'Liberation Sans', Arial, sans-serif"  stroke="#111" stroke-width="0.16">5 s</text>
<text x="336.8" y="304.6" font-size="4.1" text-anchor="middle" fill="#111" font-weight="bold" font-family="'Liberation Sans', Arial, sans-serif"  stroke="#111" stroke-width="0.16">5 s</text>
<text x="386.6" y="242.9" font-size="4.1" text-anchor="middle" fill="#111" font-weight="bold" font-family="'Liberation Sans', Arial, sans-serif"  stroke="#111" stroke-width="0.16">20 s</text>
<text x="386.6" y="304.6" font-size="4.1" text-anchor="middle" fill="#111" font-weight="bold" font-family="'Liberation Sans', Arial, sans-serif"  stroke="#111" stroke-width="0.16">20 s</text>
<text x="436.40000000000003" y="242.9" font-size="4.1" text-anchor="middle" fill="#111" font-weight="bold" font-family="'Liberation Sans', Arial, sans-serif"  stroke="#111" stroke-width="0.16">40 s</text>
<text x="436.40000000000003" y="304.6" font-size="4.1" text-anchor="middle" fill="#111" font-weight="bold" font-family="'Liberation Sans', Arial, sans-serif"  stroke="#111" stroke-width="0.16">40 s</text>
<text x="486.20000000000005" y="242.9" font-size="4.1" text-anchor="middle" fill="#111" font-weight="bold" font-family="'Liberation Sans', Arial, sans-serif"  stroke="#111" stroke-width="0.16">120 s</text>
<text x="486.20000000000005" y="304.6" font-size="4.1" text-anchor="middle" fill="#111" font-weight="bold" font-family="'Liberation Sans', Arial, sans-serif"  stroke="#111" stroke-width="0.16">120 s</text>
<rect x="512.7" y="194.0" width="9.9" height="43.9" fill="url(#gNormE)" />
<rect x="512.7" y="256.0" width="9.9" height="43.69999999999999" fill="url(#gNormE)" />
<text x="0" y="0" transform="translate(519.4,215.65) rotate(-90)" font-size="4.5" text-anchor="middle" fill="#fff" font-family="'Liberation Sans', Arial, sans-serif" stroke="#fff" stroke-width="0.16">Norm. I<tspan font-size="2.6" dy="0.7">D</tspan><tspan dy="-0.7"> (μA)</tspan></text>
<text x="0" y="0" transform="translate(519.4,277.85) rotate(-90)" font-size="4.5" text-anchor="middle" fill="#fff" font-family="'Liberation Sans', Arial, sans-serif" stroke="#fff" stroke-width="0.16">Norm. I<tspan font-size="2.6" dy="0.7">D</tspan><tspan dy="-0.7"> (μA)</tspan></text>
<text x="524.4" y="199.29999999999998" font-size="4.6" text-anchor="start" fill="#111" font-weight="normal" font-family="'Liberation Sans', Arial, sans-serif"  stroke="#111" stroke-width="0.16">3</text>
<text x="524.4" y="218.4" font-size="4.6" text-anchor="start" fill="#111" font-weight="normal" font-family="'Liberation Sans', Arial, sans-serif"  stroke="#111" stroke-width="0.16">2</text>
<text x="524.4" y="237.29999999999998" font-size="4.6" text-anchor="start" fill="#111" font-weight="normal" font-family="'Liberation Sans', Arial, sans-serif"  stroke="#111" stroke-width="0.16">1</text>
<text x="524.0" y="261.90000000000003" font-size="4.4" text-anchor="start" fill="#111" font-weight="normal" font-family="'Liberation Sans', Arial, sans-serif"  stroke="#111" stroke-width="0.16">100</text>
<text x="524.0" y="281.0" font-size="4.4" text-anchor="start" fill="#111" font-weight="normal" font-family="'Liberation Sans', Arial, sans-serif"  stroke="#111" stroke-width="0.16">90</text>
<text x="524.0" y="299.3" font-size="4.4" text-anchor="start" fill="#111" font-weight="normal" font-family="'Liberation Sans', Arial, sans-serif"  stroke="#111" stroke-width="0.16">80</text></svg>
</body></html>
